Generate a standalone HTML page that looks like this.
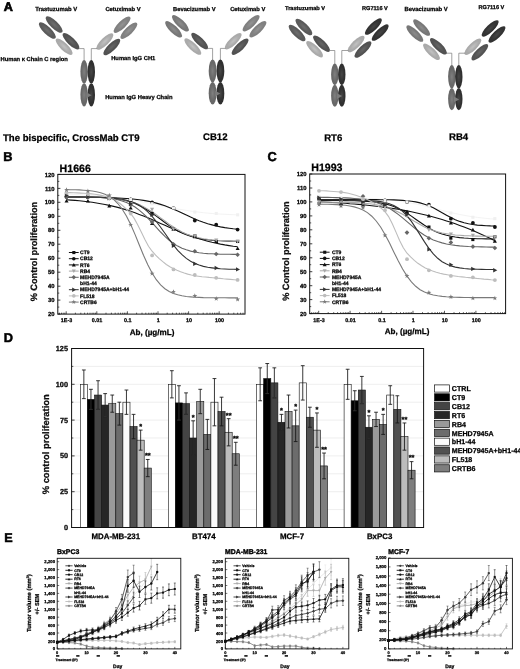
<!DOCTYPE html>
<html><head><meta charset="utf-8"><title>Figure</title>
<style>html,body{margin:0;padding:0;background:#fff}svg{display:block;filter:blur(0.35px)}text{font-family:"Liberation Sans",Arial,sans-serif;font-weight:bold;stroke:#000;stroke-width:0.25px;text-rendering:geometricPrecision}</style>
</head><body>
<svg width="520" height="669" viewBox="0 0 520 669">
<rect width="520" height="669" fill="#fff"/>
<defs><radialGradient id="gtr" cx="50%" cy="50%" r="50%"><stop offset="0" stop-color="#6e6e6e"/><stop offset="0.7" stop-color="#5a5a5a"/><stop offset="1" stop-color="#5a5a5a"/></radialGradient><radialGradient id="gce" cx="50%" cy="50%" r="50%"><stop offset="0" stop-color="#949494"/><stop offset="0.7" stop-color="#808080"/><stop offset="1" stop-color="#808080"/></radialGradient><radialGradient id="gbe" cx="50%" cy="50%" r="50%"><stop offset="0" stop-color="#8c8c8c"/><stop offset="0.7" stop-color="#777777"/><stop offset="1" stop-color="#777777"/></radialGradient><radialGradient id="grg" cx="50%" cy="50%" r="50%"><stop offset="0" stop-color="#464646"/><stop offset="0.7" stop-color="#333333"/><stop offset="1" stop-color="#333333"/></radialGradient><radialGradient id="gdk" cx="50%" cy="50%" r="50%"><stop offset="0" stop-color="#666666"/><stop offset="0.7" stop-color="#525252"/><stop offset="1" stop-color="#525252"/></radialGradient><radialGradient id="glt" cx="50%" cy="50%" r="50%"><stop offset="0" stop-color="#c2c2c2"/><stop offset="0.7" stop-color="#aaaaaa"/><stop offset="1" stop-color="#aaaaaa"/></radialGradient><radialGradient id="gsl" cx="50%" cy="50%" r="50%"><stop offset="0" stop-color="#808080"/><stop offset="0.7" stop-color="#686868"/><stop offset="1" stop-color="#686868"/></radialGradient><radialGradient id="gsr" cx="50%" cy="50%" r="50%"><stop offset="0" stop-color="#484848"/><stop offset="0.7" stop-color="#303030"/><stop offset="1" stop-color="#303030"/></radialGradient></defs>
<ellipse cx="54.10" cy="24.50" rx="11.2" ry="3.75" transform="rotate(44 54.10 24.50)" fill="url(#gtr)"/>
<ellipse cx="47.30" cy="30.50" rx="11.2" ry="3.75" transform="rotate(44 47.30 30.50)" fill="url(#gtr)"/>
<ellipse cx="71.00" cy="41.20" rx="11.2" ry="3.75" transform="rotate(44 71.00 41.20)" fill="url(#gdk)"/>
<ellipse cx="64.10" cy="46.70" rx="11.2" ry="3.75" transform="rotate(44 64.10 46.70)" fill="url(#glt)"/>
<ellipse cx="104.90" cy="41.50" rx="11.2" ry="3.75" transform="rotate(-44 104.90 41.50)" fill="url(#glt)"/>
<ellipse cx="111.80" cy="47.00" rx="11.2" ry="3.75" transform="rotate(-44 111.80 47.00)" fill="url(#gdk)"/>
<ellipse cx="122.10" cy="24.70" rx="11.2" ry="3.75" transform="rotate(-44 122.10 24.70)" fill="url(#gce)"/>
<ellipse cx="128.90" cy="30.70" rx="11.2" ry="3.75" transform="rotate(-44 128.90 30.70)" fill="url(#gce)"/>
<path d="M78.70 48.6 H84.10 V61.2 M97.20 48.6 H91.30 V61.2" fill="none" stroke="#7a7a7a" stroke-width="0.7"/>
<ellipse cx="84.10" cy="71.80" rx="3.7" ry="11.80" fill="url(#gsl)"/>
<ellipse cx="84.10" cy="94.85" rx="3.7" ry="11.65" fill="url(#gsl)"/>
<ellipse cx="91.30" cy="71.80" rx="3.7" ry="11.80" fill="url(#gsr)"/>
<ellipse cx="91.30" cy="94.85" rx="3.7" ry="11.65" fill="url(#gsr)"/>
<path d="M86.40 92.25 L91.50 95.15 L86.40 98.05 Z" fill="#7c7c7c"/>
<ellipse cx="180.40" cy="23.30" rx="11.2" ry="3.75" transform="rotate(44 180.40 23.30)" fill="url(#gbe)"/>
<ellipse cx="173.60" cy="29.30" rx="11.2" ry="3.75" transform="rotate(44 173.60 29.30)" fill="url(#gbe)"/>
<ellipse cx="199.70" cy="41.10" rx="11.2" ry="3.75" transform="rotate(44 199.70 41.10)" fill="url(#gdk)"/>
<ellipse cx="192.80" cy="46.60" rx="11.2" ry="3.75" transform="rotate(44 192.80 46.60)" fill="url(#glt)"/>
<ellipse cx="233.20" cy="41.20" rx="11.2" ry="3.75" transform="rotate(-44 233.20 41.20)" fill="url(#glt)"/>
<ellipse cx="240.10" cy="46.70" rx="11.2" ry="3.75" transform="rotate(-44 240.10 46.70)" fill="url(#gdk)"/>
<ellipse cx="251.10" cy="23.20" rx="11.2" ry="3.75" transform="rotate(-44 251.10 23.20)" fill="url(#gce)"/>
<ellipse cx="257.90" cy="29.20" rx="11.2" ry="3.75" transform="rotate(-44 257.90 29.20)" fill="url(#gce)"/>
<path d="M207.40 48.4 H212.60 V60.6 M225.50 48.4 H220.40 V60.6" fill="none" stroke="#7a7a7a" stroke-width="0.7"/>
<ellipse cx="212.60" cy="70.90" rx="3.9" ry="11.50" fill="url(#gsl)"/>
<ellipse cx="212.60" cy="93.30" rx="3.9" ry="11.30" fill="url(#gsl)"/>
<ellipse cx="220.40" cy="70.90" rx="3.9" ry="11.50" fill="url(#gsr)"/>
<ellipse cx="220.40" cy="93.30" rx="3.9" ry="11.30" fill="url(#gsr)"/>
<path d="M215.20 90.70 L220.30 93.60 L215.20 96.50 Z" fill="#7c7c7c"/>
<ellipse cx="303.90" cy="27.00" rx="11.2" ry="3.75" transform="rotate(44 303.90 27.00)" fill="url(#gtr)"/>
<ellipse cx="297.10" cy="33.00" rx="11.2" ry="3.75" transform="rotate(44 297.10 33.00)" fill="url(#gtr)"/>
<ellipse cx="321.50" cy="43.70" rx="11.2" ry="3.75" transform="rotate(44 321.50 43.70)" fill="url(#gdk)"/>
<ellipse cx="314.60" cy="49.20" rx="11.2" ry="3.75" transform="rotate(44 314.60 49.20)" fill="url(#glt)"/>
<ellipse cx="356.10" cy="44.00" rx="11.2" ry="3.75" transform="rotate(-44 356.10 44.00)" fill="url(#glt)"/>
<ellipse cx="363.00" cy="49.50" rx="11.2" ry="3.75" transform="rotate(-44 363.00 49.50)" fill="url(#gdk)"/>
<ellipse cx="373.40" cy="26.60" rx="11.2" ry="3.75" transform="rotate(-44 373.40 26.60)" fill="url(#grg)"/>
<ellipse cx="380.20" cy="32.60" rx="11.2" ry="3.75" transform="rotate(-44 380.20 32.60)" fill="url(#grg)"/>
<path d="M329.20 50.5 H334.80 V64.8 M348.40 50.5 H341.80 V64.8" fill="none" stroke="#7a7a7a" stroke-width="0.7"/>
<ellipse cx="334.80" cy="74.40" rx="3.7" ry="10.80" fill="url(#gsl)"/>
<ellipse cx="334.80" cy="95.75" rx="3.7" ry="10.95" fill="url(#gsl)"/>
<ellipse cx="341.80" cy="74.40" rx="3.7" ry="10.80" fill="url(#gsr)"/>
<ellipse cx="341.80" cy="95.75" rx="3.7" ry="10.95" fill="url(#gsr)"/>
<path d="M337.00 93.15 L342.10 96.05 L337.00 98.95 Z" fill="#7c7c7c"/>
<ellipse cx="421.60" cy="27.60" rx="11.2" ry="3.75" transform="rotate(44 421.60 27.60)" fill="url(#gbe)"/>
<ellipse cx="414.80" cy="33.60" rx="11.2" ry="3.75" transform="rotate(44 414.80 33.60)" fill="url(#gbe)"/>
<ellipse cx="438.40" cy="46.30" rx="11.2" ry="3.75" transform="rotate(44 438.40 46.30)" fill="url(#gdk)"/>
<ellipse cx="431.50" cy="51.80" rx="11.2" ry="3.75" transform="rotate(44 431.50 51.80)" fill="url(#glt)"/>
<ellipse cx="472.90" cy="46.70" rx="11.2" ry="3.75" transform="rotate(-44 472.90 46.70)" fill="url(#glt)"/>
<ellipse cx="479.80" cy="52.20" rx="11.2" ry="3.75" transform="rotate(-44 479.80 52.20)" fill="url(#gdk)"/>
<ellipse cx="490.20" cy="28.40" rx="11.2" ry="3.75" transform="rotate(-44 490.20 28.40)" fill="url(#grg)"/>
<ellipse cx="497.00" cy="34.40" rx="11.2" ry="3.75" transform="rotate(-44 497.00 34.40)" fill="url(#grg)"/>
<path d="M446.10 53.2 H451.80 V66.3 M465.20 53.2 H458.80 V66.3" fill="none" stroke="#7a7a7a" stroke-width="0.7"/>
<ellipse cx="451.80" cy="76.70" rx="3.7" ry="11.60" fill="url(#gsl)"/>
<ellipse cx="451.80" cy="99.10" rx="3.7" ry="11.20" fill="url(#gsl)"/>
<ellipse cx="458.80" cy="76.70" rx="3.7" ry="11.60" fill="url(#gsr)"/>
<ellipse cx="458.80" cy="99.10" rx="3.7" ry="11.20" fill="url(#gsr)"/>
<path d="M454.00 96.50 L459.10 99.40 L454.00 102.30 Z" fill="#7c7c7c"/>
<text x="3.8" y="10.8" font-size="12.6" text-anchor="start" fill="#000" style="stroke-width:0.7px">A</text>
<text x="35.2" y="10.8" font-size="5.9" text-anchor="start" fill="#000" >Trastuzumab V</text>
<text x="105.4" y="10.8" font-size="5.8" text-anchor="start" fill="#000" >Cetuximab V</text>
<text x="173" y="10.8" font-size="5.8" text-anchor="start" fill="#000" >Bevacizumab V</text>
<text x="230.2" y="10.8" font-size="5.8" text-anchor="start" fill="#000" >Cetuximab V</text>
<text x="285" y="10.2" font-size="5.65" text-anchor="start" fill="#000" >Trastuzumab V</text>
<text x="362" y="9.8" font-size="5.6" text-anchor="start" fill="#000" >RG7116 V</text>
<text x="404.5" y="11.1" font-size="5.9" text-anchor="start" fill="#000" >Bevacizumab V</text>
<text x="478.5" y="8.8" font-size="5.6" text-anchor="start" fill="#000" >RG7116 V</text>
<text x="0.5" y="60.5" font-size="5.8" text-anchor="start" fill="#000" >Human κ Chain C region</text>
<text x="111.2" y="60.2" font-size="5.8" text-anchor="start" fill="#000" >Human IgG CH1</text>
<text x="105.2" y="98.9" font-size="5.8" text-anchor="start" fill="#000" >Human IgG Heavy Chain</text>
<text x="3" y="140.5" font-size="9.6" text-anchor="start" fill="#000" >The bispecific, CrossMab CT9</text>
<text x="203" y="139.6" font-size="9.6" text-anchor="start" fill="#000" >CB12</text>
<text x="324.2" y="140.5" font-size="9.6" text-anchor="start" fill="#000" >RT6</text>
<text x="449" y="139.6" font-size="9.6" text-anchor="start" fill="#000" >RB4</text>
<path d="M66.5 194.2 L70.8 194.3 L75.1 194.5 L79.3 194.6 L83.6 194.8 L87.9 195.1 L92.2 195.3 L96.5 195.6 L100.7 195.9 L105.0 196.3 L109.3 196.7 L113.6 197.2 L117.8 197.7 L122.1 198.3 L126.4 198.9 L130.7 199.6 L135.0 200.4 L139.2 201.1 L143.5 202.0 L147.8 202.9 L152.1 203.7 L156.3 204.7 L160.6 205.6 L164.9 206.5 L169.2 207.3 L173.5 208.2 L177.7 209.0 L182.0 209.7 L186.3 210.4 L190.6 211.1 L194.8 211.6 L199.1 212.2 L203.4 212.7 L207.7 213.1 L212.0 213.5 L216.2 213.8 L220.5 214.1 L224.8 214.3 L229.1 214.5 L233.3 214.7 L237.6 214.9" fill="none" stroke="#f0f0f0" stroke-width="0.8"/>
<path d="M66.5 196.5 L70.8 196.5 L75.1 196.5 L79.3 196.6 L83.6 196.6 L87.9 196.7 L92.2 196.9 L96.5 197.0 L100.7 197.2 L105.0 197.5 L109.3 197.9 L113.6 198.3 L117.8 198.9 L122.1 199.7 L126.4 200.7 L130.7 202.0 L135.0 203.5 L139.2 205.4 L143.5 207.6 L147.8 210.2 L152.1 213.1 L156.3 216.1 L160.6 219.3 L164.9 222.5 L169.2 225.6 L173.5 228.4 L177.7 230.9 L182.0 233.0 L186.3 234.8 L190.6 236.3 L194.8 237.5 L199.1 238.4 L203.4 239.2 L207.7 239.7 L212.0 240.2 L216.2 240.5 L220.5 240.8 L224.8 241.0 L229.1 241.1 L233.3 241.2 L237.6 241.3" fill="none" stroke="#111" stroke-width="1.1"/>
<path d="M66.5 197.2 L70.8 197.2 L75.1 197.2 L79.3 197.2 L83.6 197.3 L87.9 197.3 L92.2 197.3 L96.5 197.4 L100.7 197.5 L105.0 197.6 L109.3 197.7 L113.6 197.8 L117.8 198.0 L122.1 198.2 L126.4 198.5 L130.7 198.8 L135.0 199.2 L139.2 199.7 L143.5 200.4 L147.8 201.1 L152.1 202.0 L156.3 203.1 L160.6 204.4 L164.9 205.8 L169.2 207.5 L173.5 209.2 L177.7 211.1 L182.0 213.1 L186.3 215.1 L190.6 217.1 L194.8 218.9 L199.1 220.7 L203.4 222.3 L207.7 223.7 L212.0 224.9 L216.2 226.0 L220.5 226.9 L224.8 227.6 L229.1 228.2 L233.3 228.7 L237.6 229.1" fill="none" stroke="#111" stroke-width="1.1"/>
<path d="M66.5 199.8 L70.8 200.1 L75.1 200.4 L79.3 200.8 L83.6 201.3 L87.9 201.8 L92.2 202.3 L96.5 203.0 L100.7 203.7 L105.0 204.5 L109.3 205.4 L113.6 206.4 L117.8 207.4 L122.1 208.6 L126.4 209.9 L130.7 211.3 L135.0 212.8 L139.2 214.4 L143.5 216.1 L147.8 217.8 L152.1 219.6 L156.3 221.5 L160.6 223.4 L164.9 225.3 L169.2 227.2 L173.5 229.0 L177.7 230.8 L182.0 232.6 L186.3 234.3 L190.6 235.8 L194.8 237.3 L199.1 238.7 L203.4 240.0 L207.7 241.2 L212.0 242.3 L216.2 243.2 L220.5 244.1 L224.8 244.9 L229.1 245.6 L233.3 246.3 L237.6 246.8" fill="none" stroke="#111" stroke-width="1.1"/>
<path d="M66.5 196.5 L70.8 196.6 L75.1 196.6 L79.3 196.6 L83.6 196.7 L87.9 196.8 L92.2 196.9 L96.5 197.0 L100.7 197.2 L105.0 197.5 L109.3 197.8 L113.6 198.2 L117.8 198.8 L122.1 199.5 L126.4 200.4 L130.7 201.5 L135.0 202.9 L139.2 204.6 L143.5 206.7 L147.8 209.1 L152.1 211.8 L156.3 214.7 L160.6 217.9 L164.9 221.0 L169.2 224.1 L173.5 227.0 L177.7 229.6 L182.0 231.9 L186.3 233.9 L190.6 235.5 L194.8 236.8 L199.1 237.8 L203.4 238.7 L207.7 239.3 L212.0 239.8 L216.2 240.2 L220.5 240.5 L224.8 240.8 L229.1 240.9 L233.3 241.1 L237.6 241.2" fill="none" stroke="#a8a8a8" stroke-width="1.1"/>
<path d="M66.5 196.7 L70.8 196.7 L75.1 196.8 L79.3 196.8 L83.6 196.9 L87.9 197.0 L92.2 197.1 L96.5 197.3 L100.7 197.5 L105.0 197.9 L109.3 198.3 L113.6 199.0 L117.8 199.8 L122.1 201.0 L126.4 202.5 L130.7 204.5 L135.0 207.0 L139.2 210.1 L143.5 213.8 L147.8 218.0 L152.1 222.6 L156.3 227.3 L160.6 232.0 L164.9 236.3 L169.2 240.2 L173.5 243.4 L177.7 246.1 L182.0 248.2 L186.3 249.8 L190.6 251.1 L194.8 252.0 L199.1 252.7 L203.4 253.2 L207.7 253.6 L212.0 253.8 L216.2 254.0 L220.5 254.2 L224.8 254.3 L229.1 254.3 L233.3 254.4 L237.6 254.4" fill="none" stroke="#666" stroke-width="1.1"/>
<path d="M66.5 196.9 L70.8 196.9 L75.1 196.9 L79.3 196.9 L83.6 197.0 L87.9 197.0 L92.2 197.1 L96.5 197.2 L100.7 197.3 L105.0 197.5 L109.3 197.7 L113.6 198.1 L117.8 198.6 L122.1 199.2 L126.4 200.2 L130.7 201.4 L135.0 203.1 L139.2 205.3 L143.5 208.2 L147.8 211.9 L152.1 216.3 L156.3 221.5 L160.6 227.2 L164.9 233.3 L169.2 239.4 L173.5 245.2 L177.7 250.3 L182.0 254.7 L186.3 258.4 L190.6 261.2 L194.8 263.4 L199.1 265.1 L203.4 266.4 L207.7 267.3 L212.0 267.9 L216.2 268.4 L220.5 268.8 L224.8 269.0 L229.1 269.2 L233.3 269.3 L237.6 269.4" fill="none" stroke="#333" stroke-width="1.1"/>
<path d="M66.5 192.6 L70.1 192.6 L73.6 192.7 L77.2 192.9 L80.8 193.1 L84.3 193.3 L87.9 193.5 L91.5 193.9 L95.0 194.3 L98.6 194.9 L102.2 195.6 L105.7 196.5 L109.3 197.5 L112.9 198.8 L116.4 200.9 L120.0 203.5 L123.6 206.5 L127.1 209.9 L130.7 213.5 L134.2 218.4 L137.8 224.9 L141.4 232.2 L144.9 239.6 L148.5 246.2 L152.1 251.2 L155.6 255.1 L159.2 258.6 L162.8 261.7 L166.3 264.5 L169.9 266.8 L173.5 268.7 L177.0 270.3 L180.6 271.7 L184.2 273.0 L187.7 274.1 L191.3 275.0 L194.8 275.7 L198.4 276.2 L202.0 276.7 L205.5 277.0 L209.1 277.4 L212.7 277.7 L216.2 278.1 L219.8 278.4 L223.4 278.8 L226.9 279.1 L230.5 279.4 L234.1 279.7 L237.6 280.0" fill="none" stroke="#bdbdbd" stroke-width="1.1"/>
<path d="M66.5 189.6 L70.8 189.7 L75.1 189.8 L79.3 189.9 L83.6 190.2 L87.9 190.5 L92.2 191.0 L96.5 191.7 L100.7 192.7 L105.0 194.3 L109.3 196.4 L113.6 199.4 L117.8 203.5 L122.1 209.0 L126.4 216.0 L130.7 224.6 L135.0 234.4 L139.2 244.8 L143.5 255.2 L147.8 264.8 L152.1 273.0 L156.3 279.7 L160.6 284.8 L164.9 288.7 L169.2 291.5 L173.5 293.5 L177.7 294.8 L182.0 295.8 L186.3 296.5 L190.6 296.9 L194.8 297.2 L199.1 297.4 L203.4 297.6 L207.7 297.7 L212.0 297.7 L216.2 297.8 L220.5 297.8 L224.8 297.8 L229.1 297.9 L233.3 297.9 L237.6 297.9" fill="none" stroke="#7a7a7a" stroke-width="1.1"/>
<rect x="64.9" y="195.2" width="3.1" height="3.1" fill="#111"/>
<rect x="86.3" y="195.2" width="3.1" height="3.1" fill="#111"/>
<rect x="107.7" y="196.6" width="3.1" height="3.1" fill="#111"/>
<rect x="129.1" y="199.4" width="3.1" height="3.1" fill="#111"/>
<rect x="150.5" y="211.9" width="3.1" height="3.1" fill="#111"/>
<rect x="171.9" y="227.3" width="3.1" height="3.1" fill="#111"/>
<rect x="193.3" y="234.3" width="3.1" height="3.1" fill="#111"/>
<rect x="214.7" y="239.9" width="3.1" height="3.1" fill="#111"/>
<rect x="236.1" y="239.9" width="3.1" height="3.1" fill="#111"/>
<circle cx="66.5" cy="196.8" r="1.9" fill="#111"/>
<circle cx="87.9" cy="196.8" r="1.9" fill="#111"/>
<circle cx="109.3" cy="198.1" r="1.9" fill="#111"/>
<circle cx="130.7" cy="199.5" r="1.9" fill="#111"/>
<circle cx="152.1" cy="202.3" r="1.9" fill="#111"/>
<circle cx="173.5" cy="207.9" r="1.9" fill="#111"/>
<circle cx="194.8" cy="220.5" r="1.9" fill="#111"/>
<circle cx="216.2" cy="224.7" r="1.9" fill="#111"/>
<circle cx="237.6" cy="229.6" r="1.9" fill="#111"/>
<path d="M66.5 198.9 L68.6 202.6 L64.5 202.6Z" fill="#111"/>
<path d="M87.9 198.9 L89.9 202.6 L85.9 202.6Z" fill="#111"/>
<path d="M109.3 203.8 L111.3 207.5 L107.3 207.5Z" fill="#111"/>
<path d="M130.7 205.9 L132.7 209.6 L128.6 209.6Z" fill="#111"/>
<path d="M152.1 221.3 L154.1 225.0 L150.0 225.0Z" fill="#111"/>
<path d="M173.5 226.8 L175.5 230.5 L171.4 230.5Z" fill="#111"/>
<path d="M194.8 234.5 L196.9 238.2 L192.8 238.2Z" fill="#111"/>
<path d="M216.2 239.4 L218.3 243.1 L214.2 243.1Z" fill="#111"/>
<path d="M237.6 246.4 L239.7 250.1 L235.6 250.1Z" fill="#111"/>
<path d="M66.5 197.4 L68.6 193.7 L64.5 193.7Z" fill="#a8a8a8"/>
<path d="M87.9 198.8 L89.9 195.1 L85.9 195.1Z" fill="#a8a8a8"/>
<path d="M109.3 200.2 L111.3 196.5 L107.3 196.5Z" fill="#a8a8a8"/>
<path d="M130.7 205.8 L132.7 202.1 L128.6 202.1Z" fill="#a8a8a8"/>
<path d="M152.1 211.4 L154.1 207.7 L150.0 207.7Z" fill="#a8a8a8"/>
<path d="M173.5 230.9 L175.5 227.2 L171.4 227.2Z" fill="#a8a8a8"/>
<path d="M194.8 237.9 L196.9 234.2 L192.8 234.2Z" fill="#a8a8a8"/>
<path d="M216.2 242.1 L218.3 238.4 L214.2 238.4Z" fill="#a8a8a8"/>
<path d="M237.6 243.5 L239.7 239.8 L235.6 239.8Z" fill="#a8a8a8"/>
<path d="M66.5 194.4 L68.8 196.8 L66.5 199.1 L64.2 196.8Z" fill="#666"/>
<path d="M87.9 194.4 L90.2 196.8 L87.9 199.1 L85.6 196.8Z" fill="#666"/>
<path d="M109.3 195.8 L111.6 198.1 L109.3 200.5 L107.0 198.1Z" fill="#666"/>
<path d="M130.7 202.8 L133.0 205.1 L130.7 207.4 L128.4 205.1Z" fill="#666"/>
<path d="M152.1 219.6 L154.4 221.9 L152.1 224.2 L149.8 221.9Z" fill="#666"/>
<path d="M173.5 241.9 L175.8 244.2 L173.5 246.6 L171.1 244.2Z" fill="#666"/>
<path d="M194.8 248.9 L197.2 251.2 L194.8 253.5 L192.5 251.2Z" fill="#666"/>
<path d="M216.2 251.7 L218.5 254.0 L216.2 256.3 L213.9 254.0Z" fill="#666"/>
<path d="M237.6 252.4 L239.9 254.7 L237.6 257.0 L235.3 254.7Z" fill="#666"/>
<rect x="64.9" y="192.4" width="3.1" height="3.1" fill="#f0f0f0"/>
<rect x="86.3" y="193.8" width="3.1" height="3.1" fill="#f0f0f0"/>
<rect x="107.7" y="195.2" width="3.1" height="3.1" fill="#f0f0f0"/>
<rect x="129.1" y="198.0" width="3.1" height="3.1" fill="#f0f0f0"/>
<rect x="150.5" y="202.2" width="3.1" height="3.1" fill="#f0f0f0"/>
<rect x="171.9" y="206.4" width="3.1" height="3.1" fill="#f0f0f0"/>
<rect x="193.3" y="210.5" width="3.1" height="3.1" fill="#f0f0f0"/>
<rect x="214.7" y="211.9" width="3.1" height="3.1" fill="#f0f0f0"/>
<rect x="236.1" y="213.3" width="3.1" height="3.1" fill="#f0f0f0"/>
<path d="M68.9 195.4 L64.9 193.1 L64.9 197.6Z" fill="#333"/>
<path d="M90.3 196.8 L86.2 194.5 L86.2 199.0Z" fill="#333"/>
<path d="M111.7 198.1 L107.6 195.9 L107.6 200.4Z" fill="#333"/>
<path d="M133.1 203.7 L129.0 201.5 L129.0 206.0Z" fill="#333"/>
<path d="M154.5 214.9 L150.4 212.7 L150.4 217.1Z" fill="#333"/>
<path d="M175.9 245.6 L171.8 243.4 L171.8 247.9Z" fill="#333"/>
<path d="M197.3 263.8 L193.2 261.6 L193.2 266.0Z" fill="#333"/>
<path d="M218.6 268.0 L214.6 265.8 L214.6 270.2Z" fill="#333"/>
<path d="M240.0 269.4 L236.0 267.2 L236.0 271.6Z" fill="#333"/>
<circle cx="66.5" cy="192.6" r="1.9" fill="#bdbdbd"/>
<circle cx="87.9" cy="194.0" r="1.9" fill="#bdbdbd"/>
<circle cx="109.3" cy="198.1" r="1.9" fill="#bdbdbd"/>
<circle cx="130.7" cy="213.5" r="1.9" fill="#bdbdbd"/>
<circle cx="152.1" cy="255.4" r="1.9" fill="#bdbdbd"/>
<circle cx="173.5" cy="269.4" r="1.9" fill="#bdbdbd"/>
<circle cx="194.8" cy="275.0" r="1.9" fill="#bdbdbd"/>
<circle cx="216.2" cy="277.8" r="1.9" fill="#bdbdbd"/>
<circle cx="237.6" cy="279.9" r="1.9" fill="#bdbdbd"/>
<path d="M66.5 187.2 L67.1 188.9 L69.0 189.0 L67.5 190.1 L68.0 191.9 L66.5 190.8 L65.0 191.9 L65.5 190.1 L64.1 189.0 L65.9 188.9Z" fill="#7a7a7a"/>
<path d="M87.9 188.6 L88.5 190.3 L90.4 190.4 L88.9 191.5 L89.4 193.3 L87.9 192.2 L86.4 193.3 L86.9 191.5 L85.4 190.4 L87.3 190.3Z" fill="#7a7a7a"/>
<path d="M109.3 192.8 L109.9 194.5 L111.8 194.6 L110.3 195.7 L110.8 197.5 L109.3 196.4 L107.8 197.5 L108.3 195.7 L106.8 194.6 L108.7 194.5Z" fill="#7a7a7a"/>
<path d="M130.7 222.1 L131.3 223.9 L133.1 223.9 L131.6 225.0 L132.2 226.8 L130.7 225.7 L129.2 226.8 L129.7 225.0 L128.2 223.9 L130.1 223.9Z" fill="#7a7a7a"/>
<path d="M152.1 271.0 L152.7 272.8 L154.5 272.8 L153.0 273.9 L153.6 275.7 L152.1 274.6 L150.5 275.7 L151.1 273.9 L149.6 272.8 L151.5 272.8Z" fill="#7a7a7a"/>
<path d="M173.5 289.2 L174.1 290.9 L175.9 290.9 L174.4 292.1 L175.0 293.8 L173.5 292.8 L171.9 293.8 L172.5 292.1 L171.0 290.9 L172.9 290.9Z" fill="#7a7a7a"/>
<path d="M194.8 293.3 L195.4 295.1 L197.3 295.1 L195.8 296.3 L196.4 298.0 L194.8 297.0 L193.3 298.0 L193.9 296.3 L192.4 295.1 L194.2 295.1Z" fill="#7a7a7a"/>
<path d="M216.2 296.1 L216.8 297.9 L218.7 297.9 L217.2 299.0 L217.8 300.8 L216.2 299.8 L214.7 300.8 L215.3 299.0 L213.8 297.9 L215.6 297.9Z" fill="#7a7a7a"/>
<path d="M237.6 296.8 L238.2 298.6 L240.1 298.6 L238.6 299.7 L239.1 301.5 L237.6 300.4 L236.1 301.5 L236.7 299.7 L235.2 298.6 L237.0 298.6Z" fill="#7a7a7a"/>
<rect x="57.8" y="174.4" width="187.2" height="139.70000000000002" fill="none" stroke="#111" stroke-width="1"/>
<path d="M57.8 314.1 h2.6" stroke="#111" stroke-width="0.8"/>
<text x="54.599999999999994" y="316.2" font-size="5.9" text-anchor="end" fill="#000" >20</text>
<path d="M57.8 307.1 h1.5" stroke="#111" stroke-width="0.7"/>
<path d="M57.8 300.1 h2.6" stroke="#111" stroke-width="0.8"/>
<text x="54.599999999999994" y="302.2" font-size="5.9" text-anchor="end" fill="#000" >30</text>
<path d="M57.8 293.1 h1.5" stroke="#111" stroke-width="0.7"/>
<path d="M57.8 286.2 h2.6" stroke="#111" stroke-width="0.8"/>
<text x="54.599999999999994" y="288.3" font-size="5.9" text-anchor="end" fill="#000" >40</text>
<path d="M57.8 279.2 h1.5" stroke="#111" stroke-width="0.7"/>
<path d="M57.8 272.2 h2.6" stroke="#111" stroke-width="0.8"/>
<text x="54.599999999999994" y="274.3" font-size="5.9" text-anchor="end" fill="#000" >50</text>
<path d="M57.8 265.2 h1.5" stroke="#111" stroke-width="0.7"/>
<path d="M57.8 258.2 h2.6" stroke="#111" stroke-width="0.8"/>
<text x="54.599999999999994" y="260.3" font-size="5.9" text-anchor="end" fill="#000" >60</text>
<path d="M57.8 251.2 h1.5" stroke="#111" stroke-width="0.7"/>
<path d="M57.8 244.2 h2.6" stroke="#111" stroke-width="0.8"/>
<text x="54.599999999999994" y="246.3" font-size="5.9" text-anchor="end" fill="#000" >70</text>
<path d="M57.8 237.3 h1.5" stroke="#111" stroke-width="0.7"/>
<path d="M57.8 230.3 h2.6" stroke="#111" stroke-width="0.8"/>
<text x="54.599999999999994" y="232.4" font-size="5.9" text-anchor="end" fill="#000" >80</text>
<path d="M57.8 223.3 h1.5" stroke="#111" stroke-width="0.7"/>
<path d="M57.8 216.3 h2.6" stroke="#111" stroke-width="0.8"/>
<text x="54.599999999999994" y="218.4" font-size="5.9" text-anchor="end" fill="#000" >90</text>
<path d="M57.8 209.3 h1.5" stroke="#111" stroke-width="0.7"/>
<path d="M57.8 202.3 h2.6" stroke="#111" stroke-width="0.8"/>
<text x="54.599999999999994" y="204.4" font-size="5.9" text-anchor="end" fill="#000" >100</text>
<path d="M57.8 195.4 h1.5" stroke="#111" stroke-width="0.7"/>
<path d="M57.8 188.4 h2.6" stroke="#111" stroke-width="0.8"/>
<text x="54.599999999999994" y="190.5" font-size="5.9" text-anchor="end" fill="#000" >110</text>
<path d="M57.8 181.4 h1.5" stroke="#111" stroke-width="0.7"/>
<path d="M57.8 174.4 h2.6" stroke="#111" stroke-width="0.8"/>
<text x="54.599999999999994" y="176.5" font-size="5.9" text-anchor="end" fill="#000" >120</text>
<path d="M59.4 314.1 v-1.4" stroke="#111" stroke-width="0.7"/>
<path d="M61.5 314.1 v-1.4" stroke="#111" stroke-width="0.7"/>
<path d="M63.2 314.1 v-1.4" stroke="#111" stroke-width="0.7"/>
<path d="M64.8 314.1 v-1.4" stroke="#111" stroke-width="0.7"/>
<path d="M66.2 314.1 v-2.8" stroke="#111" stroke-width="0.7"/>
<path d="M75.4 314.1 v-1.4" stroke="#111" stroke-width="0.7"/>
<path d="M80.8 314.1 v-1.4" stroke="#111" stroke-width="0.7"/>
<path d="M84.6 314.1 v-1.4" stroke="#111" stroke-width="0.7"/>
<path d="M87.6 314.1 v-1.4" stroke="#111" stroke-width="0.7"/>
<path d="M90.0 314.1 v-1.4" stroke="#111" stroke-width="0.7"/>
<path d="M92.1 314.1 v-1.4" stroke="#111" stroke-width="0.7"/>
<path d="M93.8 314.1 v-1.4" stroke="#111" stroke-width="0.7"/>
<path d="M95.4 314.1 v-1.4" stroke="#111" stroke-width="0.7"/>
<path d="M96.8 314.1 v-2.8" stroke="#111" stroke-width="0.7"/>
<path d="M106.0 314.1 v-1.4" stroke="#111" stroke-width="0.7"/>
<path d="M111.4 314.1 v-1.4" stroke="#111" stroke-width="0.7"/>
<path d="M115.2 314.1 v-1.4" stroke="#111" stroke-width="0.7"/>
<path d="M118.2 314.1 v-1.4" stroke="#111" stroke-width="0.7"/>
<path d="M120.6 314.1 v-1.4" stroke="#111" stroke-width="0.7"/>
<path d="M122.7 314.1 v-1.4" stroke="#111" stroke-width="0.7"/>
<path d="M124.4 314.1 v-1.4" stroke="#111" stroke-width="0.7"/>
<path d="M126.0 314.1 v-1.4" stroke="#111" stroke-width="0.7"/>
<path d="M127.4 314.1 v-2.8" stroke="#111" stroke-width="0.7"/>
<path d="M136.6 314.1 v-1.4" stroke="#111" stroke-width="0.7"/>
<path d="M142.0 314.1 v-1.4" stroke="#111" stroke-width="0.7"/>
<path d="M145.8 314.1 v-1.4" stroke="#111" stroke-width="0.7"/>
<path d="M148.8 314.1 v-1.4" stroke="#111" stroke-width="0.7"/>
<path d="M151.2 314.1 v-1.4" stroke="#111" stroke-width="0.7"/>
<path d="M153.3 314.1 v-1.4" stroke="#111" stroke-width="0.7"/>
<path d="M155.0 314.1 v-1.4" stroke="#111" stroke-width="0.7"/>
<path d="M156.6 314.1 v-1.4" stroke="#111" stroke-width="0.7"/>
<path d="M158.0 314.1 v-2.8" stroke="#111" stroke-width="0.7"/>
<path d="M167.2 314.1 v-1.4" stroke="#111" stroke-width="0.7"/>
<path d="M172.6 314.1 v-1.4" stroke="#111" stroke-width="0.7"/>
<path d="M176.4 314.1 v-1.4" stroke="#111" stroke-width="0.7"/>
<path d="M179.4 314.1 v-1.4" stroke="#111" stroke-width="0.7"/>
<path d="M181.8 314.1 v-1.4" stroke="#111" stroke-width="0.7"/>
<path d="M183.9 314.1 v-1.4" stroke="#111" stroke-width="0.7"/>
<path d="M185.6 314.1 v-1.4" stroke="#111" stroke-width="0.7"/>
<path d="M187.2 314.1 v-1.4" stroke="#111" stroke-width="0.7"/>
<path d="M188.6 314.1 v-2.8" stroke="#111" stroke-width="0.7"/>
<path d="M197.8 314.1 v-1.4" stroke="#111" stroke-width="0.7"/>
<path d="M203.2 314.1 v-1.4" stroke="#111" stroke-width="0.7"/>
<path d="M207.0 314.1 v-1.4" stroke="#111" stroke-width="0.7"/>
<path d="M210.0 314.1 v-1.4" stroke="#111" stroke-width="0.7"/>
<path d="M212.4 314.1 v-1.4" stroke="#111" stroke-width="0.7"/>
<path d="M214.5 314.1 v-1.4" stroke="#111" stroke-width="0.7"/>
<path d="M216.2 314.1 v-1.4" stroke="#111" stroke-width="0.7"/>
<path d="M217.8 314.1 v-1.4" stroke="#111" stroke-width="0.7"/>
<path d="M219.2 314.1 v-2.8" stroke="#111" stroke-width="0.7"/>
<path d="M228.4 314.1 v-1.4" stroke="#111" stroke-width="0.7"/>
<path d="M233.8 314.1 v-1.4" stroke="#111" stroke-width="0.7"/>
<path d="M237.6 314.1 v-1.4" stroke="#111" stroke-width="0.7"/>
<path d="M240.6 314.1 v-1.4" stroke="#111" stroke-width="0.7"/>
<path d="M243.0 314.1 v-1.4" stroke="#111" stroke-width="0.7"/>
<text x="66.5" y="322.20000000000005" font-size="5.4" text-anchor="middle" fill="#000" >1E-3</text>
<text x="97.1" y="322.20000000000005" font-size="5.4" text-anchor="middle" fill="#000" >0.01</text>
<text x="127.7" y="322.20000000000005" font-size="5.4" text-anchor="middle" fill="#000" >0.1</text>
<text x="158.3" y="322.20000000000005" font-size="5.4" text-anchor="middle" fill="#000" >1</text>
<text x="188.9" y="322.20000000000005" font-size="5.4" text-anchor="middle" fill="#000" >10</text>
<text x="219.5" y="322.20000000000005" font-size="5.4" text-anchor="middle" fill="#000" >100</text>
<text x="59.6" y="171.6" font-size="10.6" text-anchor="start" fill="#000" >H1666</text>
<text x="3.3" y="161.3" font-size="12.8" text-anchor="start" fill="#000" style="stroke-width:0.5px">B</text>
<text transform="translate(36.6 251.6) rotate(-90)" font-size="9.2" text-anchor="middle" fill="#111">% Control proliferation</text>
<text x="152" y="334.6" font-size="8.1" text-anchor="middle" fill="#000" >Ab, (µg/mL)</text>
<path d="M68.89999999999999 252.5 h9.8" stroke="#111" stroke-width="1.0"/>
<rect x="72.3" y="251.0" width="3.1" height="3.1" fill="#111"/>
<text x="80.1" y="254.2" font-size="5.0" text-anchor="start" fill="#000" >CT9</text>
<path d="M68.89999999999999 258.7 h9.8" stroke="#111" stroke-width="1.0"/>
<circle cx="73.8" cy="258.7" r="1.8" fill="#111"/>
<text x="80.1" y="260.4" font-size="5.0" text-anchor="start" fill="#000" >CB12</text>
<path d="M68.89999999999999 264.9 h9.8" stroke="#111" stroke-width="1.0"/>
<path d="M73.8 262.9 L75.8 266.5 L71.8 266.5Z" fill="#111"/>
<text x="80.1" y="266.6" font-size="5.0" text-anchor="start" fill="#000" >RT6</text>
<path d="M68.89999999999999 271.1 h9.8" stroke="#a8a8a8" stroke-width="1.0"/>
<path d="M73.8 273.1 L75.8 269.5 L71.8 269.5Z" fill="#a8a8a8"/>
<text x="80.1" y="272.8" font-size="5.0" text-anchor="start" fill="#000" >RB4</text>
<path d="M68.89999999999999 277.3 h9.8" stroke="#666" stroke-width="1.0"/>
<path d="M73.8 275.1 L76.0 277.3 L73.8 279.6 L71.5 277.3Z" fill="#666"/>
<text x="80.1" y="279.0" font-size="5.0" text-anchor="start" fill="#000" >MEHD7945A</text>
<text x="80.1" y="285.2" font-size="5.0" text-anchor="start" fill="#000" >bH1-44</text>
<path d="M68.89999999999999 289.7 h9.8" stroke="#333" stroke-width="1.0"/>
<path d="M76.1 289.7 L72.2 287.5 L72.2 291.9Z" fill="#333"/>
<text x="80.1" y="291.4" font-size="5.0" text-anchor="start" fill="#000" >MEHD7945A+bH1-44</text>
<path d="M68.89999999999999 295.9 h9.8" stroke="#bdbdbd" stroke-width="1.0"/>
<circle cx="73.8" cy="295.9" r="1.8" fill="#bdbdbd"/>
<text x="80.1" y="297.6" font-size="5.0" text-anchor="start" fill="#000" >FL518</text>
<path d="M68.89999999999999 302.1 h9.8" stroke="#7a7a7a" stroke-width="1.0"/>
<path d="M73.8 299.6 L74.4 301.3 L76.2 301.3 L74.7 302.4 L75.3 304.1 L73.8 303.1 L72.3 304.1 L72.9 302.4 L71.4 301.3 L73.2 301.3Z" fill="#7a7a7a"/>
<text x="80.1" y="303.8" font-size="5.0" text-anchor="start" fill="#000" >CRTB6</text>
<path d="M319.0 197.5 L323.4 197.6 L327.8 197.6 L332.2 197.6 L336.6 197.7 L341.0 197.7 L345.4 197.8 L349.8 197.9 L354.2 198.0 L358.6 198.1 L363.0 198.3 L367.4 198.4 L371.8 198.6 L376.2 198.9 L380.6 199.2 L385.0 199.5 L389.4 199.9 L393.8 200.4 L398.2 200.9 L402.6 201.6 L407.0 202.3 L411.4 203.1 L415.7 203.9 L420.1 204.9 L424.5 205.9 L428.9 207.0 L433.3 208.1 L437.7 209.2 L442.1 210.4 L446.5 211.5 L450.9 212.5 L455.3 213.5 L459.7 214.5 L464.1 215.3 L468.5 216.1 L472.9 216.8 L477.3 217.4 L481.7 217.9 L486.1 218.4 L490.5 218.8 L494.9 219.1" fill="none" stroke="#f0f0f0" stroke-width="0.8"/>
<path d="M319.0 200.4 L323.4 200.4 L327.8 200.5 L332.2 200.5 L336.6 200.5 L341.0 200.5 L345.4 200.6 L349.8 200.7 L354.2 200.8 L358.6 200.9 L363.0 201.1 L367.4 201.4 L371.8 201.8 L376.2 202.3 L380.6 203.0 L385.0 203.9 L389.4 205.0 L393.8 206.5 L398.2 208.4 L402.6 210.6 L407.0 213.2 L411.4 216.1 L415.7 219.2 L420.1 222.3 L424.5 225.3 L428.9 228.0 L433.3 230.4 L437.7 232.4 L442.1 234.0 L446.5 235.3 L450.9 236.3 L455.3 237.0 L459.7 237.6 L464.1 238.0 L468.5 238.3 L472.9 238.5 L477.3 238.7 L481.7 238.8 L486.1 238.9 L490.5 239.0 L494.9 239.0" fill="none" stroke="#111" stroke-width="1.1"/>
<path d="M319.0 199.6 L323.4 199.6 L327.8 199.6 L332.2 199.6 L336.6 199.6 L341.0 199.6 L345.4 199.6 L349.8 199.6 L354.2 199.6 L358.6 199.6 L363.0 199.6 L367.4 199.6 L371.8 199.6 L376.2 199.6 L380.6 199.7 L385.0 199.7 L389.4 199.8 L393.8 199.9 L398.2 200.1 L402.6 200.4 L407.0 200.7 L411.4 201.2 L415.7 201.9 L420.1 202.9 L424.5 204.2 L428.9 205.8 L433.3 207.8 L437.7 210.2 L442.1 212.7 L446.5 215.2 L450.9 217.6 L455.3 219.7 L459.7 221.4 L464.1 222.7 L468.5 223.8 L472.9 224.5 L477.3 225.1 L481.7 225.4 L486.1 225.7 L490.5 225.9 L494.9 226.0" fill="none" stroke="#111" stroke-width="1.1"/>
<path d="M319.0 201.8 L323.4 202.0 L327.8 202.2 L332.2 202.5 L336.6 202.7 L341.0 203.0 L345.4 203.3 L349.8 203.7 L354.2 204.0 L358.6 204.4 L363.0 204.8 L367.4 205.2 L371.8 205.7 L376.2 206.2 L380.6 206.8 L385.0 207.4 L389.4 208.0 L393.8 208.6 L398.2 209.3 L402.6 210.1 L407.0 210.9 L411.4 211.8 L415.7 212.7 L420.1 213.7 L424.5 214.7 L428.9 215.8 L433.3 217.0 L437.7 218.2 L442.1 219.5 L446.5 220.9 L450.9 222.3 L455.3 223.8 L459.7 225.4 L464.1 227.1 L468.5 228.8 L472.9 230.6 L477.3 232.5 L481.7 234.5 L486.1 236.5 L490.5 238.6 L494.9 240.8" fill="none" stroke="#111" stroke-width="1.1"/>
<path d="M319.0 202.1 L323.4 202.1 L327.8 202.1 L332.2 202.2 L336.6 202.2 L341.0 202.3 L345.4 202.4 L349.8 202.5 L354.2 202.6 L358.6 202.8 L363.0 203.1 L367.4 203.5 L371.8 204.0 L376.2 204.7 L380.6 205.6 L385.0 206.7 L389.4 208.1 L393.8 209.9 L398.2 211.9 L402.6 214.2 L407.0 216.8 L411.4 219.5 L415.7 222.1 L420.1 224.6 L424.5 226.9 L428.9 228.9 L433.3 230.6 L437.7 231.9 L442.1 233.0 L446.5 233.8 L450.9 234.5 L455.3 235.0 L459.7 235.3 L464.1 235.6 L468.5 235.8 L472.9 236.0 L477.3 236.1 L481.7 236.2 L486.1 236.2 L490.5 236.3 L494.9 236.3" fill="none" stroke="#a8a8a8" stroke-width="1.1"/>
<path d="M319.0 197.3 L323.4 197.4 L327.8 197.4 L332.2 197.5 L336.6 197.6 L341.0 197.7 L345.4 197.9 L349.8 198.1 L354.2 198.5 L358.6 198.9 L363.0 199.5 L367.4 200.2 L371.8 201.2 L376.2 202.4 L380.6 204.0 L385.0 205.9 L389.4 208.3 L393.8 211.2 L398.2 214.4 L402.6 217.9 L407.0 221.6 L411.4 225.4 L415.7 229.0 L420.1 232.3 L424.5 235.3 L428.9 237.8 L433.3 239.9 L437.7 241.6 L442.1 242.9 L446.5 244.0 L450.9 244.8 L455.3 245.4 L459.7 245.9 L464.1 246.2 L468.5 246.5 L472.9 246.7 L477.3 246.8 L481.7 246.9 L486.1 247.0 L490.5 247.1 L494.9 247.1" fill="none" stroke="#666" stroke-width="1.1"/>
<path d="M319.0 199.9 L323.4 199.9 L327.8 199.9 L332.2 199.9 L336.6 199.9 L341.0 200.0 L345.4 200.0 L349.8 200.0 L354.2 200.1 L358.6 200.1 L363.0 200.3 L367.4 200.4 L371.8 200.7 L376.2 201.1 L380.6 201.6 L385.0 202.5 L389.4 203.7 L393.8 205.5 L398.2 208.0 L402.6 211.4 L407.0 215.8 L411.4 221.4 L415.7 227.9 L420.1 234.9 L424.5 241.9 L428.9 248.4 L433.3 253.9 L437.7 258.3 L442.1 261.7 L446.5 264.1 L450.9 265.9 L455.3 267.1 L459.7 267.9 L464.1 268.5 L468.5 268.9 L472.9 269.1 L477.3 269.3 L481.7 269.4 L486.1 269.5 L490.5 269.5 L494.9 269.5" fill="none" stroke="#333" stroke-width="1.1"/>
<path d="M319.0 190.8 L322.7 190.8 L326.4 190.9 L330.0 191.2 L333.7 191.5 L337.3 191.8 L341.0 192.1 L344.7 192.6 L348.3 193.3 L352.0 194.2 L355.7 195.3 L359.3 196.4 L363.0 197.7 L366.7 199.2 L370.3 201.0 L374.0 203.1 L377.6 205.6 L381.3 208.4 L385.0 211.7 L388.6 216.6 L392.3 223.8 L396.0 232.1 L399.6 240.5 L403.3 247.8 L407.0 253.2 L410.6 256.9 L414.3 260.3 L417.9 263.3 L421.6 265.8 L425.3 268.0 L428.9 269.6 L432.6 271.0 L436.3 272.2 L439.9 273.2 L443.6 274.1 L447.3 274.8 L450.9 275.5 L454.6 276.0 L458.2 276.5 L461.9 276.9 L465.6 277.3 L469.2 277.6 L472.9 278.0 L476.6 278.4 L480.2 278.7 L483.9 279.1 L487.6 279.4 L491.2 279.8 L494.9 280.1" fill="none" stroke="#bdbdbd" stroke-width="1.1"/>
<path d="M319.0 204.1 L323.4 204.2 L327.8 204.3 L332.2 204.4 L336.6 204.6 L341.0 204.9 L345.4 205.3 L349.8 206.0 L354.2 206.9 L358.6 208.2 L363.0 210.0 L367.4 212.6 L371.8 216.2 L376.2 221.0 L380.6 227.0 L385.0 234.4 L389.4 242.8 L393.8 251.9 L398.2 260.8 L402.6 269.0 L407.0 276.1 L411.4 281.9 L415.7 286.3 L420.1 289.7 L424.5 292.1 L428.9 293.8 L433.3 295.0 L437.7 295.8 L442.1 296.4 L446.5 296.8 L450.9 297.1 L455.3 297.3 L459.7 297.4 L464.1 297.5 L468.5 297.5 L472.9 297.6 L477.3 297.6 L481.7 297.6 L486.1 297.6 L490.5 297.6 L494.9 297.6" fill="none" stroke="#7a7a7a" stroke-width="1.1"/>
<rect x="317.5" y="197.6" width="3.1" height="3.1" fill="#111"/>
<rect x="339.4" y="199.0" width="3.1" height="3.1" fill="#111"/>
<rect x="361.4" y="200.3" width="3.1" height="3.1" fill="#111"/>
<rect x="383.4" y="203.1" width="3.1" height="3.1" fill="#111"/>
<rect x="405.4" y="211.5" width="3.1" height="3.1" fill="#111"/>
<rect x="427.4" y="225.5" width="3.1" height="3.1" fill="#111"/>
<rect x="449.3" y="236.6" width="3.1" height="3.1" fill="#111"/>
<rect x="471.3" y="238.0" width="3.1" height="3.1" fill="#111"/>
<rect x="493.3" y="235.2" width="3.1" height="3.1" fill="#111"/>
<circle cx="319.0" cy="197.7" r="1.9" fill="#111"/>
<circle cx="341.0" cy="199.1" r="1.9" fill="#111"/>
<circle cx="363.0" cy="200.5" r="1.9" fill="#111"/>
<circle cx="385.0" cy="200.5" r="1.9" fill="#111"/>
<circle cx="407.0" cy="201.9" r="1.9" fill="#111"/>
<circle cx="428.9" cy="204.7" r="1.9" fill="#111"/>
<circle cx="450.9" cy="218.7" r="1.9" fill="#111"/>
<circle cx="472.9" cy="222.9" r="1.9" fill="#111"/>
<circle cx="494.9" cy="227.0" r="1.9" fill="#111"/>
<path d="M319.0 199.9 L321.1 203.6 L317.0 203.6Z" fill="#111"/>
<path d="M341.0 201.3 L343.0 205.0 L339.0 205.0Z" fill="#111"/>
<path d="M363.0 202.7 L365.0 206.4 L361.0 206.4Z" fill="#111"/>
<path d="M385.0 204.1 L387.0 207.8 L382.9 207.8Z" fill="#111"/>
<path d="M407.0 209.7 L409.0 213.4 L404.9 213.4Z" fill="#111"/>
<path d="M428.9 213.8 L431.0 217.5 L426.9 217.5Z" fill="#111"/>
<path d="M450.9 220.8 L453.0 224.5 L448.9 224.5Z" fill="#111"/>
<path d="M472.9 227.8 L474.9 231.5 L470.9 231.5Z" fill="#111"/>
<path d="M494.9 239.0 L496.9 242.7 L492.8 242.7Z" fill="#111"/>
<path d="M319.0 204.0 L321.1 200.3 L317.0 200.3Z" fill="#a8a8a8"/>
<path d="M341.0 204.0 L343.0 200.3 L339.0 200.3Z" fill="#a8a8a8"/>
<path d="M363.0 205.4 L365.0 201.7 L361.0 201.7Z" fill="#a8a8a8"/>
<path d="M385.0 209.5 L387.0 205.8 L382.9 205.8Z" fill="#a8a8a8"/>
<path d="M407.0 217.9 L409.0 214.2 L404.9 214.2Z" fill="#a8a8a8"/>
<path d="M428.9 231.9 L431.0 228.2 L426.9 228.2Z" fill="#a8a8a8"/>
<path d="M450.9 236.1 L453.0 232.4 L448.9 232.4Z" fill="#a8a8a8"/>
<path d="M472.9 237.5 L474.9 233.8 L470.9 233.8Z" fill="#a8a8a8"/>
<path d="M494.9 238.9 L496.9 235.2 L492.8 235.2Z" fill="#a8a8a8"/>
<path d="M319.0 195.4 L321.3 197.7 L319.0 200.0 L316.7 197.7Z" fill="#666"/>
<path d="M341.0 196.8 L343.3 199.1 L341.0 201.4 L338.7 199.1Z" fill="#666"/>
<path d="M363.0 194.0 L365.3 196.3 L363.0 198.6 L360.7 196.3Z" fill="#666"/>
<path d="M385.0 199.6 L387.3 201.9 L385.0 204.2 L382.7 201.9Z" fill="#666"/>
<path d="M407.0 230.3 L409.3 232.6 L407.0 234.9 L404.6 232.6Z" fill="#666"/>
<path d="M428.9 235.9 L431.2 238.2 L428.9 240.5 L426.6 238.2Z" fill="#666"/>
<path d="M450.9 240.1 L453.2 242.4 L450.9 244.7 L448.6 242.4Z" fill="#666"/>
<path d="M472.9 244.3 L475.2 246.6 L472.9 248.9 L470.6 246.6Z" fill="#666"/>
<path d="M494.9 245.7 L497.2 248.0 L494.9 250.3 L492.6 248.0Z" fill="#666"/>
<rect x="317.5" y="194.8" width="3.1" height="3.1" fill="#f0f0f0"/>
<rect x="339.4" y="196.2" width="3.1" height="3.1" fill="#f0f0f0"/>
<rect x="361.4" y="197.6" width="3.1" height="3.1" fill="#f0f0f0"/>
<rect x="383.4" y="199.0" width="3.1" height="3.1" fill="#f0f0f0"/>
<rect x="405.4" y="200.3" width="3.1" height="3.1" fill="#f0f0f0"/>
<rect x="427.4" y="204.5" width="3.1" height="3.1" fill="#f0f0f0"/>
<rect x="449.3" y="211.5" width="3.1" height="3.1" fill="#f0f0f0"/>
<rect x="471.3" y="215.7" width="3.1" height="3.1" fill="#f0f0f0"/>
<rect x="493.3" y="217.1" width="3.1" height="3.1" fill="#f0f0f0"/>
<path d="M321.4 197.7 L317.4 195.5 L317.4 200.0Z" fill="#333"/>
<path d="M343.4 199.1 L339.3 196.9 L339.3 201.3Z" fill="#333"/>
<path d="M365.4 201.9 L361.3 199.7 L361.3 204.1Z" fill="#333"/>
<path d="M387.4 204.7 L383.3 202.5 L383.3 206.9Z" fill="#333"/>
<path d="M409.4 214.5 L405.3 212.3 L405.3 216.7Z" fill="#333"/>
<path d="M431.3 249.4 L427.3 247.2 L427.3 251.6Z" fill="#333"/>
<path d="M453.3 264.7 L449.3 262.5 L449.3 267.0Z" fill="#333"/>
<path d="M475.3 268.9 L471.2 266.7 L471.2 271.1Z" fill="#333"/>
<path d="M497.3 270.3 L493.2 268.1 L493.2 272.5Z" fill="#333"/>
<circle cx="319.0" cy="190.8" r="1.9" fill="#bdbdbd"/>
<circle cx="341.0" cy="192.1" r="1.9" fill="#bdbdbd"/>
<circle cx="363.0" cy="199.1" r="1.9" fill="#bdbdbd"/>
<circle cx="385.0" cy="210.3" r="1.9" fill="#bdbdbd"/>
<circle cx="407.0" cy="259.2" r="1.9" fill="#bdbdbd"/>
<circle cx="428.9" cy="270.3" r="1.9" fill="#bdbdbd"/>
<circle cx="450.9" cy="275.9" r="1.9" fill="#bdbdbd"/>
<circle cx="472.9" cy="277.3" r="1.9" fill="#bdbdbd"/>
<circle cx="494.9" cy="280.1" r="1.9" fill="#bdbdbd"/>
<path d="M319.0 202.1 L319.6 203.9 L321.5 203.9 L320.0 205.0 L320.5 206.8 L319.0 205.7 L317.5 206.8 L318.1 205.0 L316.6 203.9 L318.4 203.9Z" fill="#7a7a7a"/>
<path d="M341.0 203.5 L341.6 205.3 L343.5 205.3 L342.0 206.4 L342.5 208.2 L341.0 207.1 L339.5 208.2 L340.0 206.4 L338.5 205.3 L340.4 205.3Z" fill="#7a7a7a"/>
<path d="M363.0 204.9 L363.6 206.7 L365.5 206.7 L364.0 207.8 L364.5 209.6 L363.0 208.5 L361.5 209.6 L362.0 207.8 L360.5 206.7 L362.4 206.7Z" fill="#7a7a7a"/>
<path d="M385.0 232.8 L385.6 234.6 L387.4 234.6 L385.9 235.7 L386.5 237.5 L385.0 236.4 L383.4 237.5 L384.0 235.7 L382.5 234.6 L384.4 234.6Z" fill="#7a7a7a"/>
<path d="M407.0 273.3 L407.6 275.1 L409.4 275.1 L407.9 276.2 L408.5 278.0 L407.0 276.9 L405.4 278.0 L406.0 276.2 L404.5 275.1 L406.4 275.1Z" fill="#7a7a7a"/>
<path d="M428.9 290.1 L429.5 291.8 L431.4 291.9 L429.9 293.0 L430.5 294.8 L428.9 293.7 L427.4 294.8 L428.0 293.0 L426.5 291.9 L428.3 291.8Z" fill="#7a7a7a"/>
<path d="M450.9 294.3 L451.5 296.0 L453.4 296.0 L451.9 297.2 L452.4 298.9 L450.9 297.9 L449.4 298.9 L450.0 297.2 L448.5 296.0 L450.3 296.0Z" fill="#7a7a7a"/>
<path d="M472.9 295.7 L473.5 297.4 L475.4 297.4 L473.9 298.6 L474.4 300.3 L472.9 299.3 L471.4 300.3 L471.9 298.6 L470.4 297.4 L472.3 297.4Z" fill="#7a7a7a"/>
<path d="M494.9 295.7 L495.5 297.4 L497.3 297.4 L495.9 298.6 L496.4 300.3 L494.9 299.3 L493.4 300.3 L493.9 298.6 L492.4 297.4 L494.3 297.4Z" fill="#7a7a7a"/>
<rect x="309.7" y="174.0" width="195.90000000000003" height="139.60000000000002" fill="none" stroke="#111" stroke-width="1"/>
<path d="M309.7 313.6 h2.6" stroke="#111" stroke-width="0.8"/>
<text x="306.5" y="315.7" font-size="5.9" text-anchor="end" fill="#000" >20</text>
<path d="M309.7 306.6 h1.5" stroke="#111" stroke-width="0.7"/>
<path d="M309.7 299.6 h2.6" stroke="#111" stroke-width="0.8"/>
<text x="306.5" y="301.7" font-size="5.9" text-anchor="end" fill="#000" >30</text>
<path d="M309.7 292.7 h1.5" stroke="#111" stroke-width="0.7"/>
<path d="M309.7 285.7 h2.6" stroke="#111" stroke-width="0.8"/>
<text x="306.5" y="287.8" font-size="5.9" text-anchor="end" fill="#000" >40</text>
<path d="M309.7 278.7 h1.5" stroke="#111" stroke-width="0.7"/>
<path d="M309.7 271.7 h2.6" stroke="#111" stroke-width="0.8"/>
<text x="306.5" y="273.8" font-size="5.9" text-anchor="end" fill="#000" >50</text>
<path d="M309.7 264.7 h1.5" stroke="#111" stroke-width="0.7"/>
<path d="M309.7 257.8 h2.6" stroke="#111" stroke-width="0.8"/>
<text x="306.5" y="259.9" font-size="5.9" text-anchor="end" fill="#000" >60</text>
<path d="M309.7 250.8 h1.5" stroke="#111" stroke-width="0.7"/>
<path d="M309.7 243.8 h2.6" stroke="#111" stroke-width="0.8"/>
<text x="306.5" y="245.9" font-size="5.9" text-anchor="end" fill="#000" >70</text>
<path d="M309.7 236.8 h1.5" stroke="#111" stroke-width="0.7"/>
<path d="M309.7 229.8 h2.6" stroke="#111" stroke-width="0.8"/>
<text x="306.5" y="231.9" font-size="5.9" text-anchor="end" fill="#000" >80</text>
<path d="M309.7 222.9 h1.5" stroke="#111" stroke-width="0.7"/>
<path d="M309.7 215.9 h2.6" stroke="#111" stroke-width="0.8"/>
<text x="306.5" y="218.0" font-size="5.9" text-anchor="end" fill="#000" >90</text>
<path d="M309.7 208.9 h1.5" stroke="#111" stroke-width="0.7"/>
<path d="M309.7 201.9 h2.6" stroke="#111" stroke-width="0.8"/>
<text x="306.5" y="204.0" font-size="5.9" text-anchor="end" fill="#000" >100</text>
<path d="M309.7 194.9 h1.5" stroke="#111" stroke-width="0.7"/>
<path d="M309.7 188.0 h2.6" stroke="#111" stroke-width="0.8"/>
<text x="306.5" y="190.1" font-size="5.9" text-anchor="end" fill="#000" >110</text>
<path d="M309.7 181.0 h1.5" stroke="#111" stroke-width="0.7"/>
<path d="M309.7 174.0 h2.6" stroke="#111" stroke-width="0.8"/>
<text x="306.5" y="176.1" font-size="5.9" text-anchor="end" fill="#000" >120</text>
<path d="M311.7 313.6 v-1.4" stroke="#111" stroke-width="0.7"/>
<path d="M313.8 313.6 v-1.4" stroke="#111" stroke-width="0.7"/>
<path d="M315.7 313.6 v-1.4" stroke="#111" stroke-width="0.7"/>
<path d="M317.3 313.6 v-1.4" stroke="#111" stroke-width="0.7"/>
<path d="M318.7 313.6 v-2.8" stroke="#111" stroke-width="0.7"/>
<path d="M328.2 313.6 v-1.4" stroke="#111" stroke-width="0.7"/>
<path d="M333.7 313.6 v-1.4" stroke="#111" stroke-width="0.7"/>
<path d="M337.6 313.6 v-1.4" stroke="#111" stroke-width="0.7"/>
<path d="M340.7 313.6 v-1.4" stroke="#111" stroke-width="0.7"/>
<path d="M343.2 313.6 v-1.4" stroke="#111" stroke-width="0.7"/>
<path d="M345.3 313.6 v-1.4" stroke="#111" stroke-width="0.7"/>
<path d="M347.1 313.6 v-1.4" stroke="#111" stroke-width="0.7"/>
<path d="M348.7 313.6 v-1.4" stroke="#111" stroke-width="0.7"/>
<path d="M350.1 313.6 v-2.8" stroke="#111" stroke-width="0.7"/>
<path d="M359.6 313.6 v-1.4" stroke="#111" stroke-width="0.7"/>
<path d="M365.2 313.6 v-1.4" stroke="#111" stroke-width="0.7"/>
<path d="M369.1 313.6 v-1.4" stroke="#111" stroke-width="0.7"/>
<path d="M372.1 313.6 v-1.4" stroke="#111" stroke-width="0.7"/>
<path d="M374.6 313.6 v-1.4" stroke="#111" stroke-width="0.7"/>
<path d="M376.7 313.6 v-1.4" stroke="#111" stroke-width="0.7"/>
<path d="M378.6 313.6 v-1.4" stroke="#111" stroke-width="0.7"/>
<path d="M380.2 313.6 v-1.4" stroke="#111" stroke-width="0.7"/>
<path d="M381.6 313.6 v-2.8" stroke="#111" stroke-width="0.7"/>
<path d="M391.1 313.6 v-1.4" stroke="#111" stroke-width="0.7"/>
<path d="M396.6 313.6 v-1.4" stroke="#111" stroke-width="0.7"/>
<path d="M400.5 313.6 v-1.4" stroke="#111" stroke-width="0.7"/>
<path d="M403.6 313.6 v-1.4" stroke="#111" stroke-width="0.7"/>
<path d="M406.1 313.6 v-1.4" stroke="#111" stroke-width="0.7"/>
<path d="M408.2 313.6 v-1.4" stroke="#111" stroke-width="0.7"/>
<path d="M410.0 313.6 v-1.4" stroke="#111" stroke-width="0.7"/>
<path d="M411.6 313.6 v-1.4" stroke="#111" stroke-width="0.7"/>
<path d="M413.0 313.6 v-2.8" stroke="#111" stroke-width="0.7"/>
<path d="M422.5 313.6 v-1.4" stroke="#111" stroke-width="0.7"/>
<path d="M428.1 313.6 v-1.4" stroke="#111" stroke-width="0.7"/>
<path d="M432.0 313.6 v-1.4" stroke="#111" stroke-width="0.7"/>
<path d="M435.0 313.6 v-1.4" stroke="#111" stroke-width="0.7"/>
<path d="M437.5 313.6 v-1.4" stroke="#111" stroke-width="0.7"/>
<path d="M439.6 313.6 v-1.4" stroke="#111" stroke-width="0.7"/>
<path d="M441.5 313.6 v-1.4" stroke="#111" stroke-width="0.7"/>
<path d="M443.1 313.6 v-1.4" stroke="#111" stroke-width="0.7"/>
<path d="M444.5 313.6 v-2.8" stroke="#111" stroke-width="0.7"/>
<path d="M454.0 313.6 v-1.4" stroke="#111" stroke-width="0.7"/>
<path d="M459.5 313.6 v-1.4" stroke="#111" stroke-width="0.7"/>
<path d="M463.4 313.6 v-1.4" stroke="#111" stroke-width="0.7"/>
<path d="M466.5 313.6 v-1.4" stroke="#111" stroke-width="0.7"/>
<path d="M469.0 313.6 v-1.4" stroke="#111" stroke-width="0.7"/>
<path d="M471.1 313.6 v-1.4" stroke="#111" stroke-width="0.7"/>
<path d="M472.9 313.6 v-1.4" stroke="#111" stroke-width="0.7"/>
<path d="M474.5 313.6 v-1.4" stroke="#111" stroke-width="0.7"/>
<path d="M475.9 313.6 v-2.8" stroke="#111" stroke-width="0.7"/>
<path d="M485.4 313.6 v-1.4" stroke="#111" stroke-width="0.7"/>
<path d="M491.0 313.6 v-1.4" stroke="#111" stroke-width="0.7"/>
<path d="M494.9 313.6 v-1.4" stroke="#111" stroke-width="0.7"/>
<path d="M497.9 313.6 v-1.4" stroke="#111" stroke-width="0.7"/>
<path d="M500.4 313.6 v-1.4" stroke="#111" stroke-width="0.7"/>
<path d="M502.5 313.6 v-1.4" stroke="#111" stroke-width="0.7"/>
<path d="M504.4 313.6 v-1.4" stroke="#111" stroke-width="0.7"/>
<text x="319.0" y="321.70000000000005" font-size="5.4" text-anchor="middle" fill="#000" >1E-3</text>
<text x="350.4" y="321.70000000000005" font-size="5.4" text-anchor="middle" fill="#000" >0.01</text>
<text x="381.9" y="321.70000000000005" font-size="5.4" text-anchor="middle" fill="#000" >0.1</text>
<text x="413.3" y="321.70000000000005" font-size="5.4" text-anchor="middle" fill="#000" >1</text>
<text x="444.8" y="321.70000000000005" font-size="5.4" text-anchor="middle" fill="#000" >10</text>
<text x="476.2" y="321.70000000000005" font-size="5.4" text-anchor="middle" fill="#000" >100</text>
<text x="311.3" y="171.2" font-size="10.6" text-anchor="start" fill="#000" >H1993</text>
<text x="267.5" y="161.3" font-size="12.8" text-anchor="start" fill="#000" style="stroke-width:0.5px">C</text>
<text transform="translate(289.2 251.1) rotate(-90)" font-size="9.2" text-anchor="middle" fill="#111">% Control proliferation</text>
<text x="407" y="334.1" font-size="8.1" text-anchor="middle" fill="#000" >Ab, (µg/mL)</text>
<path d="M319.8 252.2 h9.8" stroke="#111" stroke-width="1.0"/>
<rect x="323.2" y="250.7" width="3.1" height="3.1" fill="#111"/>
<text x="331.9" y="253.9" font-size="5.0" text-anchor="start" fill="#000" >CT9</text>
<path d="M319.8 258.4 h9.8" stroke="#111" stroke-width="1.0"/>
<circle cx="324.7" cy="258.4" r="1.8" fill="#111"/>
<text x="331.9" y="260.1" font-size="5.0" text-anchor="start" fill="#000" >CB12</text>
<path d="M319.8 264.6 h9.8" stroke="#111" stroke-width="1.0"/>
<path d="M324.7 262.6 L326.7 266.2 L322.7 266.2Z" fill="#111"/>
<text x="331.9" y="266.3" font-size="5.0" text-anchor="start" fill="#000" >RT6</text>
<path d="M319.8 270.8 h9.8" stroke="#a8a8a8" stroke-width="1.0"/>
<path d="M324.7 272.8 L326.7 269.2 L322.7 269.2Z" fill="#a8a8a8"/>
<text x="331.9" y="272.5" font-size="5.0" text-anchor="start" fill="#000" >RB4</text>
<path d="M319.8 277.0 h9.8" stroke="#666" stroke-width="1.0"/>
<path d="M324.7 274.8 L326.9 277.0 L324.7 279.2 L322.4 277.0Z" fill="#666"/>
<text x="331.9" y="278.7" font-size="5.0" text-anchor="start" fill="#000" >MEHD7945A</text>
<text x="331.9" y="284.9" font-size="5.0" text-anchor="start" fill="#000" >bH1-44</text>
<path d="M319.8 289.4 h9.8" stroke="#333" stroke-width="1.0"/>
<path d="M327.0 289.4 L323.1 287.2 L323.1 291.6Z" fill="#333"/>
<text x="331.9" y="291.1" font-size="5.0" text-anchor="start" fill="#000" >MEHD7945A+bH1-44</text>
<path d="M319.8 295.6 h9.8" stroke="#bdbdbd" stroke-width="1.0"/>
<circle cx="324.7" cy="295.6" r="1.8" fill="#bdbdbd"/>
<text x="331.9" y="297.3" font-size="5.0" text-anchor="start" fill="#000" >FL518</text>
<path d="M319.8 301.8 h9.8" stroke="#7a7a7a" stroke-width="1.0"/>
<path d="M324.7 299.3 L325.3 301.0 L327.1 301.0 L325.6 302.1 L326.2 303.8 L324.7 302.8 L323.2 303.8 L323.8 302.1 L322.3 301.0 L324.1 301.0Z" fill="#7a7a7a"/>
<text x="331.9" y="303.5" font-size="5.0" text-anchor="start" fill="#000" >CRTB6</text>
<path d="M71.6 509.6 H423.6" stroke="#e2e2e2" stroke-width="0.6"/>
<path d="M71.6 491.7 H423.6" stroke="#e2e2e2" stroke-width="0.6"/>
<path d="M71.6 473.8 H423.6" stroke="#e2e2e2" stroke-width="0.6"/>
<path d="M71.6 455.9 H423.6" stroke="#e2e2e2" stroke-width="0.6"/>
<path d="M71.6 438.0 H423.6" stroke="#e2e2e2" stroke-width="0.6"/>
<path d="M71.6 420.1 H423.6" stroke="#e2e2e2" stroke-width="0.6"/>
<path d="M71.6 402.2 H423.6" stroke="#e2e2e2" stroke-width="0.6"/>
<path d="M71.6 384.3 H423.6" stroke="#e2e2e2" stroke-width="0.6"/>
<path d="M71.6 366.4 H423.6" stroke="#e2e2e2" stroke-width="0.6"/>
<rect x="80.30" y="384.30" width="7.1" height="143.20" fill="#ffffff" stroke="#111" stroke-width="0.6"/>
<path d="M83.85 369.98 V398.62 M81.95 369.98 h3.8 M81.95 398.62 h3.8" stroke="#151515" stroke-width="0.85" fill="none"/>
<rect x="87.40" y="399.34" width="7.1" height="128.16" fill="#000000" stroke="#111" stroke-width="0.6"/>
<path d="M90.95 389.31 V409.36 M89.05 389.31 h3.8 M89.05 409.36 h3.8" stroke="#111" stroke-width="0.85" fill="none"/>
<path d="M90.95 399.34 V409.36 M89.05 409.36 h3.8" stroke="#3a3a3a" stroke-width="0.6" fill="none"/>
<rect x="94.50" y="395.04" width="7.1" height="132.46" fill="#444444" stroke="#111" stroke-width="0.6"/>
<path d="M98.05 380.72 V409.36 M96.15 380.72 h3.8 M96.15 409.36 h3.8" stroke="#151515" stroke-width="0.85" fill="none"/>
<path d="M98.05 395.04 V409.36 M96.15 409.36 h3.8" stroke="#3a3a3a" stroke-width="0.6" fill="none"/>
<rect x="101.60" y="405.06" width="7.1" height="122.44" fill="#262626" stroke="#111" stroke-width="0.6"/>
<path d="M105.15 393.61 V416.52 M103.25 393.61 h3.8 M103.25 416.52 h3.8" stroke="#111" stroke-width="0.85" fill="none"/>
<path d="M105.15 405.06 V416.52 M103.25 416.52 h3.8" stroke="#3a3a3a" stroke-width="0.6" fill="none"/>
<rect x="108.70" y="403.63" width="7.1" height="123.87" fill="#9a9a9a" stroke="#111" stroke-width="0.6"/>
<path d="M112.25 395.04 V412.22 M110.35 395.04 h3.8 M110.35 412.22 h3.8" stroke="#151515" stroke-width="0.85" fill="none"/>
<rect x="115.80" y="413.66" width="7.1" height="113.84" fill="#6c6c6c" stroke="#111" stroke-width="0.6"/>
<path d="M119.35 402.20 V425.11 M117.45 402.20 h3.8 M117.45 425.11 h3.8" stroke="#151515" stroke-width="0.85" fill="none"/>
<rect x="122.90" y="402.20" width="7.1" height="125.30" fill="#fbfbfb" stroke="#111" stroke-width="0.6"/>
<path d="M126.45 390.03 V414.37 M124.55 390.03 h3.8 M124.55 414.37 h3.8" stroke="#151515" stroke-width="0.85" fill="none"/>
<rect x="130.00" y="426.54" width="7.1" height="100.96" fill="#505050" stroke="#111" stroke-width="0.6"/>
<path d="M133.55 414.37 V438.72 M131.65 414.37 h3.8 M131.65 438.72 h3.8" stroke="#151515" stroke-width="0.85" fill="none"/>
<rect x="137.10" y="440.15" width="7.1" height="87.35" fill="#bcbcbc" stroke="#111" stroke-width="0.6"/>
<path d="M140.65 430.12 V450.17 M138.75 430.12 h3.8 M138.75 450.17 h3.8" stroke="#151515" stroke-width="0.85" fill="none"/>
<text x="140.7" y="428.9" font-size="7.4" text-anchor="middle" fill="#000" >*</text>
<rect x="144.20" y="468.07" width="7.1" height="59.43" fill="#7e7e7e" stroke="#111" stroke-width="0.6"/>
<path d="M147.75 459.48 V476.66 M145.85 459.48 h3.8 M145.85 476.66 h3.8" stroke="#151515" stroke-width="0.85" fill="none"/>
<text x="147.8" y="458.3" font-size="7.4" text-anchor="middle" fill="#000" >**</text>
<text x="115.8" y="538.8" font-size="7.9" text-anchor="middle" fill="#000" >MDA-MB-231</text>
<rect x="168.30" y="384.30" width="7.1" height="143.20" fill="#ffffff" stroke="#111" stroke-width="0.6"/>
<path d="M171.85 370.70 V397.90 M169.95 370.70 h3.8 M169.95 397.90 h3.8" stroke="#151515" stroke-width="0.85" fill="none"/>
<rect x="175.40" y="402.92" width="7.1" height="124.58" fill="#000000" stroke="#111" stroke-width="0.6"/>
<path d="M178.95 385.73 V420.10 M177.05 385.73 h3.8 M177.05 420.10 h3.8" stroke="#111" stroke-width="0.85" fill="none"/>
<path d="M178.95 402.92 V420.10 M177.05 420.10 h3.8" stroke="#3a3a3a" stroke-width="0.6" fill="none"/>
<rect x="182.50" y="403.63" width="7.1" height="123.87" fill="#444444" stroke="#111" stroke-width="0.6"/>
<path d="M186.05 392.89 V414.37 M184.15 392.89 h3.8 M184.15 414.37 h3.8" stroke="#151515" stroke-width="0.85" fill="none"/>
<path d="M186.05 403.63 V414.37 M184.15 414.37 h3.8" stroke="#3a3a3a" stroke-width="0.6" fill="none"/>
<rect x="189.60" y="438.00" width="7.1" height="89.50" fill="#262626" stroke="#111" stroke-width="0.6"/>
<path d="M193.15 420.82 V455.18 M191.25 420.82 h3.8 M191.25 455.18 h3.8" stroke="#111" stroke-width="0.85" fill="none"/>
<path d="M193.15 438.00 V455.18 M191.25 455.18 h3.8" stroke="#3a3a3a" stroke-width="0.6" fill="none"/>
<text x="193.2" y="419.6" font-size="7.4" text-anchor="middle" fill="#000" >*</text>
<rect x="196.70" y="401.48" width="7.1" height="126.02" fill="#9a9a9a" stroke="#111" stroke-width="0.6"/>
<path d="M200.25 389.31 V413.66 M198.35 389.31 h3.8 M198.35 413.66 h3.8" stroke="#151515" stroke-width="0.85" fill="none"/>
<rect x="203.80" y="434.42" width="7.1" height="93.08" fill="#6c6c6c" stroke="#111" stroke-width="0.6"/>
<path d="M207.35 419.38 V449.46 M205.45 419.38 h3.8 M205.45 449.46 h3.8" stroke="#151515" stroke-width="0.85" fill="none"/>
<rect x="210.90" y="402.20" width="7.1" height="125.30" fill="#fbfbfb" stroke="#111" stroke-width="0.6"/>
<path d="M214.45 378.57 V425.83 M212.55 378.57 h3.8 M212.55 425.83 h3.8" stroke="#151515" stroke-width="0.85" fill="none"/>
<rect x="218.00" y="411.51" width="7.1" height="115.99" fill="#505050" stroke="#111" stroke-width="0.6"/>
<path d="M221.55 397.19 V425.83 M219.65 397.19 h3.8 M219.65 425.83 h3.8" stroke="#151515" stroke-width="0.85" fill="none"/>
<rect x="225.10" y="432.27" width="7.1" height="95.23" fill="#bcbcbc" stroke="#111" stroke-width="0.6"/>
<path d="M228.65 418.67 V445.88 M226.75 418.67 h3.8 M226.75 445.88 h3.8" stroke="#151515" stroke-width="0.85" fill="none"/>
<text x="228.7" y="417.5" font-size="7.4" text-anchor="middle" fill="#000" >**</text>
<rect x="232.20" y="453.75" width="7.1" height="73.75" fill="#7e7e7e" stroke="#111" stroke-width="0.6"/>
<path d="M235.75 442.30 V465.21 M233.85 442.30 h3.8 M233.85 465.21 h3.8" stroke="#151515" stroke-width="0.85" fill="none"/>
<text x="235.8" y="441.1" font-size="7.4" text-anchor="middle" fill="#000" >**</text>
<text x="203.8" y="538.8" font-size="7.9" text-anchor="middle" fill="#000" >BT474</text>
<rect x="256.60" y="384.30" width="7.1" height="143.20" fill="#ffffff" stroke="#111" stroke-width="0.6"/>
<path d="M260.15 367.83 V400.77 M258.25 367.83 h3.8 M258.25 400.77 h3.8" stroke="#151515" stroke-width="0.85" fill="none"/>
<rect x="263.70" y="378.57" width="7.1" height="148.93" fill="#000000" stroke="#111" stroke-width="0.6"/>
<path d="M267.25 363.54 V393.61 M265.35 363.54 h3.8 M265.35 393.61 h3.8" stroke="#111" stroke-width="0.85" fill="none"/>
<path d="M267.25 378.57 V393.61 M265.35 393.61 h3.8" stroke="#3a3a3a" stroke-width="0.6" fill="none"/>
<rect x="270.80" y="382.87" width="7.1" height="144.63" fill="#444444" stroke="#111" stroke-width="0.6"/>
<path d="M274.35 367.83 V397.90 M272.45 367.83 h3.8 M272.45 397.90 h3.8" stroke="#151515" stroke-width="0.85" fill="none"/>
<path d="M274.35 382.87 V397.90 M272.45 397.90 h3.8" stroke="#3a3a3a" stroke-width="0.6" fill="none"/>
<rect x="277.90" y="422.25" width="7.1" height="105.25" fill="#262626" stroke="#111" stroke-width="0.6"/>
<path d="M281.45 414.37 V430.12 M279.55 414.37 h3.8 M279.55 430.12 h3.8" stroke="#111" stroke-width="0.85" fill="none"/>
<path d="M281.45 422.25 V430.12 M279.55 430.12 h3.8" stroke="#3a3a3a" stroke-width="0.6" fill="none"/>
<text x="281.5" y="413.2" font-size="7.4" text-anchor="middle" fill="#000" >*</text>
<rect x="285.00" y="411.51" width="7.1" height="115.99" fill="#9a9a9a" stroke="#111" stroke-width="0.6"/>
<path d="M288.55 395.04 V427.98 M286.65 395.04 h3.8 M286.65 427.98 h3.8" stroke="#151515" stroke-width="0.85" fill="none"/>
<rect x="292.10" y="425.83" width="7.1" height="101.67" fill="#6c6c6c" stroke="#111" stroke-width="0.6"/>
<path d="M295.65 410.08 V441.58 M293.75 410.08 h3.8 M293.75 441.58 h3.8" stroke="#151515" stroke-width="0.85" fill="none"/>
<text x="295.7" y="408.9" font-size="7.4" text-anchor="middle" fill="#000" >*</text>
<rect x="299.20" y="382.87" width="7.1" height="144.63" fill="#fbfbfb" stroke="#111" stroke-width="0.6"/>
<path d="M302.75 365.68 V400.05 M300.85 365.68 h3.8 M300.85 400.05 h3.8" stroke="#151515" stroke-width="0.85" fill="none"/>
<rect x="306.30" y="417.24" width="7.1" height="110.26" fill="#505050" stroke="#111" stroke-width="0.6"/>
<path d="M309.85 407.21 V427.26 M307.95 407.21 h3.8 M307.95 427.26 h3.8" stroke="#151515" stroke-width="0.85" fill="none"/>
<rect x="313.40" y="430.12" width="7.1" height="97.38" fill="#bcbcbc" stroke="#111" stroke-width="0.6"/>
<path d="M316.95 412.94 V447.31 M315.05 412.94 h3.8 M315.05 447.31 h3.8" stroke="#151515" stroke-width="0.85" fill="none"/>
<text x="317.0" y="411.7" font-size="7.4" text-anchor="middle" fill="#000" >*</text>
<rect x="320.50" y="465.92" width="7.1" height="61.58" fill="#7e7e7e" stroke="#111" stroke-width="0.6"/>
<path d="M324.05 453.04 V478.81 M322.15 453.04 h3.8 M322.15 478.81 h3.8" stroke="#151515" stroke-width="0.85" fill="none"/>
<text x="324.1" y="451.8" font-size="7.4" text-anchor="middle" fill="#000" >**</text>
<text x="292.1" y="538.8" font-size="7.9" text-anchor="middle" fill="#000" >MCF-7</text>
<rect x="344.10" y="384.30" width="7.1" height="143.20" fill="#ffffff" stroke="#111" stroke-width="0.6"/>
<path d="M347.65 369.26 V399.34 M345.75 369.26 h3.8 M345.75 399.34 h3.8" stroke="#151515" stroke-width="0.85" fill="none"/>
<rect x="351.20" y="400.77" width="7.1" height="126.73" fill="#000000" stroke="#111" stroke-width="0.6"/>
<path d="M354.75 390.74 V410.79 M352.85 390.74 h3.8 M352.85 410.79 h3.8" stroke="#111" stroke-width="0.85" fill="none"/>
<path d="M354.75 400.77 V410.79 M352.85 410.79 h3.8" stroke="#3a3a3a" stroke-width="0.6" fill="none"/>
<rect x="358.30" y="390.03" width="7.1" height="137.47" fill="#444444" stroke="#111" stroke-width="0.6"/>
<path d="M361.85 376.42 V403.63 M359.95 376.42 h3.8 M359.95 403.63 h3.8" stroke="#151515" stroke-width="0.85" fill="none"/>
<path d="M361.85 390.03 V403.63 M359.95 403.63 h3.8" stroke="#3a3a3a" stroke-width="0.6" fill="none"/>
<rect x="365.40" y="427.26" width="7.1" height="100.24" fill="#262626" stroke="#111" stroke-width="0.6"/>
<path d="M368.95 415.80 V438.72 M367.05 415.80 h3.8 M367.05 438.72 h3.8" stroke="#111" stroke-width="0.85" fill="none"/>
<path d="M368.95 427.26 V438.72 M367.05 438.72 h3.8" stroke="#3a3a3a" stroke-width="0.6" fill="none"/>
<text x="369.0" y="414.6" font-size="7.4" text-anchor="middle" fill="#000" >*</text>
<rect x="372.50" y="419.38" width="7.1" height="108.12" fill="#9a9a9a" stroke="#111" stroke-width="0.6"/>
<path d="M376.05 412.22 V426.54 M374.15 412.22 h3.8 M374.15 426.54 h3.8" stroke="#151515" stroke-width="0.85" fill="none"/>
<rect x="379.60" y="424.40" width="7.1" height="103.10" fill="#6c6c6c" stroke="#111" stroke-width="0.6"/>
<path d="M383.15 414.37 V434.42 M381.25 414.37 h3.8 M381.25 434.42 h3.8" stroke="#151515" stroke-width="0.85" fill="none"/>
<text x="383.2" y="413.2" font-size="7.4" text-anchor="middle" fill="#000" >*</text>
<rect x="386.70" y="395.04" width="7.1" height="132.46" fill="#fbfbfb" stroke="#111" stroke-width="0.6"/>
<path d="M390.25 385.73 V404.35 M388.35 385.73 h3.8 M388.35 404.35 h3.8" stroke="#151515" stroke-width="0.85" fill="none"/>
<rect x="393.80" y="409.36" width="7.1" height="118.14" fill="#505050" stroke="#111" stroke-width="0.6"/>
<path d="M397.35 395.76 V422.96 M395.45 395.76 h3.8 M395.45 422.96 h3.8" stroke="#151515" stroke-width="0.85" fill="none"/>
<rect x="400.90" y="436.57" width="7.1" height="90.93" fill="#bcbcbc" stroke="#111" stroke-width="0.6"/>
<path d="M404.45 422.96 V450.17 M402.55 422.96 h3.8 M402.55 450.17 h3.8" stroke="#151515" stroke-width="0.85" fill="none"/>
<text x="404.5" y="421.8" font-size="7.4" text-anchor="middle" fill="#000" >**</text>
<rect x="408.00" y="470.22" width="7.1" height="57.28" fill="#7e7e7e" stroke="#111" stroke-width="0.6"/>
<path d="M411.55 461.63 V478.81 M409.65 461.63 h3.8 M409.65 478.81 h3.8" stroke="#151515" stroke-width="0.85" fill="none"/>
<text x="411.6" y="460.4" font-size="7.4" text-anchor="middle" fill="#000" >**</text>
<text x="379.6" y="538.8" font-size="7.9" text-anchor="middle" fill="#000" >BxPC3</text>
<rect x="71.6" y="348.5" width="352.0" height="179.0" fill="none" stroke="#111" stroke-width="1"/>
<path d="M71.6 527.5 h3" stroke="#111" stroke-width="0.8"/>
<text x="68.0" y="530.0" font-size="7.3" text-anchor="end" fill="#000" >0</text>
<path d="M71.6 509.6 h1.7" stroke="#111" stroke-width="0.7"/>
<path d="M71.6 491.7 h3" stroke="#111" stroke-width="0.8"/>
<text x="68.0" y="494.2" font-size="7.3" text-anchor="end" fill="#000" >25</text>
<path d="M71.6 473.8 h1.7" stroke="#111" stroke-width="0.7"/>
<path d="M71.6 455.9 h3" stroke="#111" stroke-width="0.8"/>
<text x="68.0" y="458.4" font-size="7.3" text-anchor="end" fill="#000" >50</text>
<path d="M71.6 438.0 h1.7" stroke="#111" stroke-width="0.7"/>
<path d="M71.6 420.1 h3" stroke="#111" stroke-width="0.8"/>
<text x="68.0" y="422.6" font-size="7.3" text-anchor="end" fill="#000" >75</text>
<path d="M71.6 402.2 h1.7" stroke="#111" stroke-width="0.7"/>
<path d="M71.6 384.3 h3" stroke="#111" stroke-width="0.8"/>
<text x="68.0" y="386.8" font-size="7.3" text-anchor="end" fill="#000" >100</text>
<path d="M71.6 366.4 h1.7" stroke="#111" stroke-width="0.7"/>
<path d="M71.6 348.5 h3" stroke="#111" stroke-width="0.8"/>
<text x="68.0" y="351.0" font-size="7.3" text-anchor="end" fill="#000" >125</text>
<text transform="translate(48.6 444.3) rotate(-90)" font-size="9.4" text-anchor="middle" fill="#111">% control proliferation</text>
<text x="3.7" y="341.6" font-size="12.8" text-anchor="start" fill="#000" style="stroke-width:0.5px">D</text>
<rect x="434.6" y="384.90" width="14.8" height="7.2" fill="#ffffff" stroke="#111" stroke-width="0.7"/>
<text x="451.8" y="391.2" font-size="7.1" text-anchor="start" fill="#000" >CTRL</text>
<rect x="434.6" y="393.77" width="14.8" height="7.2" fill="#000000" stroke="#111" stroke-width="0.7"/>
<text x="451.8" y="400.1" font-size="7.1" text-anchor="start" fill="#000" >CT9</text>
<rect x="434.6" y="402.64" width="14.8" height="7.2" fill="#444444" stroke="#111" stroke-width="0.7"/>
<text x="451.8" y="408.9" font-size="7.1" text-anchor="start" fill="#000" >CB12</text>
<rect x="434.6" y="411.51" width="14.8" height="7.2" fill="#262626" stroke="#111" stroke-width="0.7"/>
<text x="451.8" y="417.8" font-size="7.1" text-anchor="start" fill="#000" >RT6</text>
<rect x="434.6" y="420.38" width="14.8" height="7.2" fill="#9a9a9a" stroke="#111" stroke-width="0.7"/>
<text x="451.8" y="426.7" font-size="7.1" text-anchor="start" fill="#000" >RB4</text>
<rect x="434.6" y="429.25" width="14.8" height="7.2" fill="#6c6c6c" stroke="#111" stroke-width="0.7"/>
<text x="451.8" y="435.6" font-size="7.1" text-anchor="start" fill="#000" >MEHD7945A</text>
<rect x="434.6" y="438.12" width="14.8" height="7.2" fill="#fbfbfb" stroke="#111" stroke-width="0.7"/>
<text x="451.8" y="444.4" font-size="7.1" text-anchor="start" fill="#000" >bH1-44</text>
<rect x="434.6" y="446.99" width="14.8" height="7.2" fill="#505050" stroke="#111" stroke-width="0.7"/>
<text x="451.8" y="453.3" font-size="7.1" text-anchor="start" fill="#000" >MEHD7945A+bH1-44</text>
<rect x="434.6" y="455.86" width="14.8" height="7.2" fill="#bcbcbc" stroke="#111" stroke-width="0.7"/>
<text x="451.8" y="462.2" font-size="7.1" text-anchor="start" fill="#000" >FL518</text>
<rect x="434.6" y="464.73" width="14.8" height="7.2" fill="#7e7e7e" stroke="#111" stroke-width="0.7"/>
<text x="451.8" y="471.0" font-size="7.1" text-anchor="start" fill="#000" >CRTB6</text>
<path d="M57.2 642.2 L63.1 641.1 L69.0 640.1 L74.8 639.1 L80.7 638.0 L86.6 637.0 L92.5 634.4 L98.4 631.7 L104.2 629.1 L110.1 623.1 L116.0 617.2 L121.9 609.2 L127.8 601.3 L133.6 595.4 L139.5 589.4 L145.4 581.5" fill="none" stroke="#e4e4e4" stroke-width="0.8"/>
<path d="M57.2 641.4 V643.0 M56.2 641.4 h2 M56.2 643.0 h2 M63.1 640.1 V642.1 M62.1 640.1 h2 M62.1 642.1 h2 M69.0 639.1 V641.1 M68.0 639.1 h2 M68.0 641.1 h2 M74.8 638.1 V640.1 M73.8 638.1 h2 M73.8 640.1 h2 M80.7 636.9 V639.1 M79.7 636.9 h2 M79.7 639.1 h2 M86.6 635.8 V638.2 M85.6 635.8 h2 M85.6 638.2 h2 M92.5 632.9 V635.8 M91.5 632.9 h2 M91.5 635.8 h2 M98.4 630.0 V633.4 M97.4 630.0 h2 M97.4 633.4 h2 M104.2 627.1 V631.1 M103.2 627.1 h2 M103.2 631.1 h2 M110.1 620.6 V625.7 M109.1 620.6 h2 M109.1 625.7 h2 M116.0 614.0 V620.4 M115.0 614.0 h2 M115.0 620.4 h2 M121.9 605.3 V613.2 M120.9 605.3 h2 M120.9 613.2 h2 M127.8 596.6 V606.1 M126.8 596.6 h2 M126.8 606.1 h2 M133.6 590.0 V600.7 M132.6 590.0 h2 M132.6 600.7 h2 M139.5 583.5 V595.4 M138.5 583.5 h2 M138.5 595.4 h2 M145.4 574.8 V588.2 M144.4 574.8 h2 M144.4 588.2 h2 " fill="none" stroke="#e4e4e4" stroke-width="0.5"/>
<rect x="56.2" y="641.1" width="2.0" height="2.0" fill="#e4e4e4"/>
<rect x="62.1" y="640.1" width="2.0" height="2.0" fill="#e4e4e4"/>
<rect x="67.9" y="639.1" width="2.0" height="2.0" fill="#e4e4e4"/>
<rect x="73.8" y="638.0" width="2.0" height="2.0" fill="#e4e4e4"/>
<rect x="79.7" y="637.0" width="2.0" height="2.0" fill="#e4e4e4"/>
<rect x="85.6" y="636.0" width="2.0" height="2.0" fill="#e4e4e4"/>
<rect x="91.5" y="633.3" width="2.0" height="2.0" fill="#e4e4e4"/>
<rect x="97.3" y="630.7" width="2.0" height="2.0" fill="#e4e4e4"/>
<rect x="103.2" y="628.1" width="2.0" height="2.0" fill="#e4e4e4"/>
<rect x="109.1" y="622.1" width="2.0" height="2.0" fill="#e4e4e4"/>
<rect x="115.0" y="616.2" width="2.0" height="2.0" fill="#e4e4e4"/>
<rect x="120.9" y="608.2" width="2.0" height="2.0" fill="#e4e4e4"/>
<rect x="126.7" y="600.3" width="2.0" height="2.0" fill="#e4e4e4"/>
<rect x="132.6" y="594.4" width="2.0" height="2.0" fill="#e4e4e4"/>
<rect x="138.5" y="588.4" width="2.0" height="2.0" fill="#e4e4e4"/>
<rect x="144.4" y="580.5" width="2.0" height="2.0" fill="#e4e4e4"/>
<path d="M57.2 642.2 L63.1 641.8 L69.0 641.4 L74.8 641.1 L80.7 640.7 L86.6 640.4 L92.5 640.4 L98.4 640.4 L104.2 640.4 L110.1 640.4 L116.0 640.9 L121.9 641.4 L127.8 642.6 L133.6 643.0 L139.5 644.5 L145.4 643.7 L151.3 643.2 L157.2 642.6 L163.0 642.3 L168.9 642.0 L174.8 641.8" fill="none" stroke="#bdbdbd" stroke-width="0.8"/>
<path d="M57.2 641.4 V643.0 M56.2 641.4 h2 M56.2 643.0 h2 M63.1 640.8 V642.8 M62.1 640.8 h2 M62.1 642.8 h2 M69.0 640.4 V642.4 M68.0 640.4 h2 M68.0 642.4 h2 M74.8 640.1 V642.1 M73.8 640.1 h2 M73.8 642.1 h2 M80.7 639.7 V641.7 M79.7 639.7 h2 M79.7 641.7 h2 M86.6 639.4 V641.4 M85.6 639.4 h2 M85.6 641.4 h2 M92.5 639.4 V641.4 M91.5 639.4 h2 M91.5 641.4 h2 M98.4 639.4 V641.4 M97.4 639.4 h2 M97.4 641.4 h2 M104.2 639.4 V641.4 M103.2 639.4 h2 M103.2 641.4 h2 M110.1 639.4 V641.4 M109.1 639.4 h2 M109.1 641.4 h2 M116.0 639.9 V641.9 M115.0 639.9 h2 M115.0 641.9 h2 M121.9 640.4 V642.4 M120.9 640.4 h2 M120.9 642.4 h2 M127.8 641.6 V643.6 M126.8 641.6 h2 M126.8 643.6 h2 M133.6 642.0 V644.0 M132.6 642.0 h2 M132.6 644.0 h2 M139.5 643.5 V645.5 M138.5 643.5 h2 M138.5 645.5 h2 M145.4 642.7 V644.7 M144.4 642.7 h2 M144.4 644.7 h2 M151.3 642.2 V644.2 M150.3 642.2 h2 M150.3 644.2 h2 M157.2 641.6 V643.6 M156.2 641.6 h2 M156.2 643.6 h2 M163.0 641.3 V643.3 M162.0 641.3 h2 M162.0 643.3 h2 M168.9 641.0 V643.0 M167.9 641.0 h2 M167.9 643.0 h2 M174.8 640.8 V642.8 M173.8 640.8 h2 M173.8 642.8 h2 " fill="none" stroke="#bdbdbd" stroke-width="0.5"/>
<circle cx="57.2" cy="642.2" r="1.2" fill="#bdbdbd"/>
<circle cx="63.1" cy="641.8" r="1.2" fill="#bdbdbd"/>
<circle cx="69.0" cy="641.4" r="1.2" fill="#bdbdbd"/>
<circle cx="74.8" cy="641.1" r="1.2" fill="#bdbdbd"/>
<circle cx="80.7" cy="640.7" r="1.2" fill="#bdbdbd"/>
<circle cx="86.6" cy="640.4" r="1.2" fill="#bdbdbd"/>
<circle cx="92.5" cy="640.4" r="1.2" fill="#bdbdbd"/>
<circle cx="98.4" cy="640.4" r="1.2" fill="#bdbdbd"/>
<circle cx="104.2" cy="640.4" r="1.2" fill="#bdbdbd"/>
<circle cx="110.1" cy="640.4" r="1.2" fill="#bdbdbd"/>
<circle cx="116.0" cy="640.9" r="1.2" fill="#bdbdbd"/>
<circle cx="121.9" cy="641.4" r="1.2" fill="#bdbdbd"/>
<circle cx="127.8" cy="642.6" r="1.2" fill="#bdbdbd"/>
<circle cx="133.6" cy="643.0" r="1.2" fill="#bdbdbd"/>
<circle cx="139.5" cy="644.5" r="1.2" fill="#bdbdbd"/>
<circle cx="145.4" cy="643.7" r="1.2" fill="#bdbdbd"/>
<circle cx="151.3" cy="643.2" r="1.2" fill="#bdbdbd"/>
<circle cx="157.2" cy="642.6" r="1.2" fill="#bdbdbd"/>
<circle cx="163.0" cy="642.3" r="1.2" fill="#bdbdbd"/>
<circle cx="168.9" cy="642.0" r="1.2" fill="#bdbdbd"/>
<circle cx="174.8" cy="641.8" r="1.2" fill="#bdbdbd"/>
<path d="M57.2 642.2 L63.1 641.0 L69.0 639.8 L74.8 638.6 L80.7 636.4 L86.6 634.2 L92.5 631.3 L98.4 628.3 L104.2 623.7 L110.1 619.2 L116.0 613.2 L121.9 605.3 L127.8 595.4 L133.6 587.4 L139.5 582.7 L145.4 579.5 L151.3 566.8" fill="none" stroke="#a8a8a8" stroke-width="0.8"/>
<path d="M57.2 641.4 V643.0 M56.2 641.4 h2 M56.2 643.0 h2 M63.1 640.0 V642.0 M62.1 640.0 h2 M62.1 642.0 h2 M69.0 638.8 V640.8 M68.0 638.8 h2 M68.0 640.8 h2 M74.8 637.6 V639.6 M73.8 637.6 h2 M73.8 639.6 h2 M80.7 635.2 V637.7 M79.7 635.2 h2 M79.7 637.7 h2 M86.6 632.8 V635.7 M85.6 632.8 h2 M85.6 635.7 h2 M92.5 629.5 V633.0 M91.5 629.5 h2 M91.5 633.0 h2 M98.4 626.2 V630.3 M97.4 626.2 h2 M97.4 630.3 h2 M104.2 621.2 V626.2 M103.2 621.2 h2 M103.2 626.2 h2 M110.1 616.2 V622.1 M109.1 616.2 h2 M109.1 622.1 h2 M116.0 609.6 V616.8 M115.0 609.6 h2 M115.0 616.8 h2 M121.9 600.9 V609.6 M120.9 600.9 h2 M120.9 609.6 h2 M127.8 590.0 V600.7 M126.8 590.0 h2 M126.8 600.7 h2 M133.6 581.3 V593.6 M132.6 581.3 h2 M132.6 593.6 h2 M139.5 576.1 V589.3 M138.5 576.1 h2 M138.5 589.3 h2 M145.4 572.6 V586.5 M144.4 572.6 h2 M144.4 586.5 h2 M151.3 558.6 V575.0 M150.3 558.6 h2 M150.3 575.0 h2 " fill="none" stroke="#a8a8a8" stroke-width="0.5"/>
<path d="M57.2 643.5 L58.5 641.1 L55.9 641.1Z" fill="#a8a8a8"/>
<path d="M63.1 642.3 L64.4 639.9 L61.8 639.9Z" fill="#a8a8a8"/>
<path d="M69.0 641.1 L70.3 638.7 L67.6 638.7Z" fill="#a8a8a8"/>
<path d="M74.8 639.9 L76.2 637.5 L73.5 637.5Z" fill="#a8a8a8"/>
<path d="M80.7 637.7 L82.0 635.3 L79.4 635.3Z" fill="#a8a8a8"/>
<path d="M86.6 635.5 L87.9 633.1 L85.3 633.1Z" fill="#a8a8a8"/>
<path d="M92.5 632.6 L93.8 630.2 L91.2 630.2Z" fill="#a8a8a8"/>
<path d="M98.4 629.6 L99.7 627.2 L97.0 627.2Z" fill="#a8a8a8"/>
<path d="M104.2 625.0 L105.6 622.6 L102.9 622.6Z" fill="#a8a8a8"/>
<path d="M110.1 620.5 L111.4 618.1 L108.8 618.1Z" fill="#a8a8a8"/>
<path d="M116.0 614.5 L117.3 612.1 L114.7 612.1Z" fill="#a8a8a8"/>
<path d="M121.9 606.6 L123.2 604.2 L120.6 604.2Z" fill="#a8a8a8"/>
<path d="M127.8 596.7 L129.1 594.3 L126.4 594.3Z" fill="#a8a8a8"/>
<path d="M133.6 588.8 L135.0 586.4 L132.3 586.4Z" fill="#a8a8a8"/>
<path d="M139.5 584.0 L140.8 581.6 L138.2 581.6Z" fill="#a8a8a8"/>
<path d="M145.4 580.8 L146.7 578.4 L144.1 578.4Z" fill="#a8a8a8"/>
<path d="M151.3 568.1 L152.6 565.7 L150.0 565.7Z" fill="#a8a8a8"/>
<path d="M57.2 642.2 L63.1 642.4 L69.0 642.6 L74.8 643.0 L80.7 644.1 L86.6 646.1 L92.5 647.3 L98.4 647.5 L104.2 647.9 L110.1 648.1 L116.0 648.3 L121.9 648.5" fill="none" stroke="#7a7a7a" stroke-width="0.8"/>
<path d="M57.2 641.4 V643.0 M56.2 641.4 h2 M56.2 643.0 h2 M63.1 641.4 V643.4 M62.1 641.4 h2 M62.1 643.4 h2 M69.0 641.6 V643.6 M68.0 641.6 h2 M68.0 643.6 h2 M74.8 642.0 V644.0 M73.8 642.0 h2 M73.8 644.0 h2 M80.7 643.1 V645.1 M79.7 643.1 h2 M79.7 645.1 h2 M86.6 645.1 V647.1 M85.6 645.1 h2 M85.6 647.1 h2 M92.5 646.3 V648.3 M91.5 646.3 h2 M91.5 648.3 h2 M98.4 646.5 V648.5 M97.4 646.5 h2 M97.4 648.5 h2 M104.2 646.9 V648.9 M103.2 646.9 h2 M103.2 648.9 h2 M110.1 647.1 V649.1 M109.1 647.1 h2 M109.1 649.1 h2 M116.0 647.3 V649.3 M115.0 647.3 h2 M115.0 649.3 h2 M121.9 647.5 V649.5 M120.9 647.5 h2 M120.9 649.5 h2 " fill="none" stroke="#7a7a7a" stroke-width="0.5"/>
<path d="M57.2 640.5 L57.6 641.6 L58.8 641.6 L57.8 642.4 L58.2 643.5 L57.2 642.8 L56.2 643.5 L56.6 642.4 L55.6 641.6 L56.8 641.6Z" fill="#7a7a7a"/>
<path d="M63.1 640.7 L63.5 641.8 L64.7 641.8 L63.7 642.6 L64.1 643.7 L63.1 643.0 L62.1 643.7 L62.5 642.6 L61.5 641.8 L62.7 641.8Z" fill="#7a7a7a"/>
<path d="M69.0 640.9 L69.3 642.0 L70.6 642.0 L69.6 642.8 L69.9 643.9 L69.0 643.2 L68.0 643.9 L68.3 642.8 L67.4 642.0 L68.6 642.0Z" fill="#7a7a7a"/>
<path d="M74.8 641.3 L75.2 642.4 L76.4 642.4 L75.5 643.2 L75.8 644.3 L74.8 643.6 L73.9 644.3 L74.2 643.2 L73.2 642.4 L74.5 642.4Z" fill="#7a7a7a"/>
<path d="M80.7 642.5 L81.1 643.6 L82.3 643.6 L81.3 644.3 L81.7 645.5 L80.7 644.8 L79.7 645.5 L80.1 644.3 L79.1 643.6 L80.3 643.6Z" fill="#7a7a7a"/>
<path d="M86.6 644.4 L87.0 645.6 L88.2 645.6 L87.2 646.3 L87.6 647.5 L86.6 646.8 L85.6 647.5 L86.0 646.3 L85.0 645.6 L86.2 645.6Z" fill="#7a7a7a"/>
<path d="M92.5 645.6 L92.9 646.8 L94.1 646.8 L93.1 647.5 L93.5 648.7 L92.5 648.0 L91.5 648.7 L91.9 647.5 L90.9 646.8 L92.1 646.8Z" fill="#7a7a7a"/>
<path d="M98.4 645.8 L98.7 647.0 L100.0 647.0 L99.0 647.7 L99.3 648.9 L98.4 648.2 L97.4 648.9 L97.7 647.7 L96.8 647.0 L98.0 647.0Z" fill="#7a7a7a"/>
<path d="M104.2 646.2 L104.6 647.4 L105.8 647.4 L104.9 648.1 L105.2 649.3 L104.2 648.6 L103.3 649.3 L103.6 648.1 L102.6 647.4 L103.9 647.4Z" fill="#7a7a7a"/>
<path d="M110.1 646.4 L110.5 647.6 L111.7 647.6 L110.7 648.3 L111.1 649.5 L110.1 648.8 L109.1 649.5 L109.5 648.3 L108.5 647.6 L109.7 647.6Z" fill="#7a7a7a"/>
<path d="M116.0 646.6 L116.4 647.8 L117.6 647.8 L116.6 648.5 L117.0 649.7 L116.0 649.0 L115.0 649.7 L115.4 648.5 L114.4 647.8 L115.6 647.8Z" fill="#7a7a7a"/>
<path d="M121.9 646.8 L122.3 648.0 L123.5 648.0 L122.5 648.7 L122.9 649.9 L121.9 649.2 L120.9 649.9 L121.3 648.7 L120.3 648.0 L121.5 648.0Z" fill="#7a7a7a"/>
<path d="M57.2 642.2 L63.1 641.6 L69.0 641.0 L74.8 640.5 L80.7 639.9 L86.6 639.4 L92.5 638.8 L98.4 638.3 L104.2 637.7 L110.1 637.2 L116.0 636.6 L121.9 633.8 L127.8 631.9 L133.6 630.3 L139.5 629.5 L145.4 628.3 L151.3 627.5 L157.2 624.3 L163.0 622.7 L168.9 619.4 L174.8 618.6" fill="none" stroke="#3c3c3c" stroke-width="0.8"/>
<path d="M57.2 641.4 V643.0 M56.2 641.4 h2 M56.2 643.0 h2 M63.1 640.6 V642.6 M62.1 640.6 h2 M62.1 642.6 h2 M69.0 640.0 V642.0 M68.0 640.0 h2 M68.0 642.0 h2 M74.8 639.5 V641.5 M73.8 639.5 h2 M73.8 641.5 h2 M80.7 638.9 V640.9 M79.7 638.9 h2 M79.7 640.9 h2 M86.6 638.4 V640.4 M85.6 638.4 h2 M85.6 640.4 h2 M92.5 637.8 V639.8 M91.5 637.8 h2 M91.5 639.8 h2 M98.4 637.2 V639.3 M97.4 637.2 h2 M97.4 639.3 h2 M104.2 636.6 V638.8 M103.2 636.6 h2 M103.2 638.8 h2 M110.1 636.0 V638.3 M109.1 636.0 h2 M109.1 638.3 h2 M116.0 635.4 V637.8 M115.0 635.4 h2 M115.0 637.8 h2 M121.9 632.3 V635.3 M120.9 632.3 h2 M120.9 635.3 h2 M127.8 630.1 V633.6 M126.8 630.1 h2 M126.8 633.6 h2 M133.6 628.4 V632.1 M132.6 628.4 h2 M132.6 632.1 h2 M139.5 627.5 V631.4 M138.5 627.5 h2 M138.5 631.4 h2 M145.4 626.2 V630.3 M144.4 626.2 h2 M144.4 630.3 h2 M151.3 625.3 V629.6 M150.3 625.3 h2 M150.3 629.6 h2 M157.2 621.9 V626.8 M156.2 621.9 h2 M156.2 626.8 h2 M163.0 620.1 V625.3 M162.0 620.1 h2 M162.0 625.3 h2 M168.9 616.4 V622.3 M167.9 616.4 h2 M167.9 622.3 h2 M174.8 615.5 V621.6 M173.8 615.5 h2 M173.8 621.6 h2 " fill="none" stroke="#3c3c3c" stroke-width="0.5"/>
<path d="M57.2 640.7 L58.7 642.2 L57.2 643.7 L55.7 642.2Z" fill="#3c3c3c"/>
<path d="M63.1 640.1 L64.6 641.6 L63.1 643.1 L61.6 641.6Z" fill="#3c3c3c"/>
<path d="M69.0 639.5 L70.5 641.0 L69.0 642.5 L67.5 641.0Z" fill="#3c3c3c"/>
<path d="M74.8 639.0 L76.3 640.5 L74.8 642.0 L73.3 640.5Z" fill="#3c3c3c"/>
<path d="M80.7 638.4 L82.2 639.9 L80.7 641.4 L79.2 639.9Z" fill="#3c3c3c"/>
<path d="M86.6 637.9 L88.1 639.4 L86.6 640.9 L85.1 639.4Z" fill="#3c3c3c"/>
<path d="M92.5 637.3 L94.0 638.8 L92.5 640.3 L91.0 638.8Z" fill="#3c3c3c"/>
<path d="M98.4 636.8 L99.9 638.3 L98.4 639.8 L96.9 638.3Z" fill="#3c3c3c"/>
<path d="M104.2 636.2 L105.7 637.7 L104.2 639.2 L102.7 637.7Z" fill="#3c3c3c"/>
<path d="M110.1 635.7 L111.6 637.2 L110.1 638.7 L108.6 637.2Z" fill="#3c3c3c"/>
<path d="M116.0 635.1 L117.5 636.6 L116.0 638.1 L114.5 636.6Z" fill="#3c3c3c"/>
<path d="M121.9 632.3 L123.4 633.8 L121.9 635.3 L120.4 633.8Z" fill="#3c3c3c"/>
<path d="M127.8 630.4 L129.3 631.9 L127.8 633.4 L126.3 631.9Z" fill="#3c3c3c"/>
<path d="M133.6 628.8 L135.1 630.3 L133.6 631.8 L132.1 630.3Z" fill="#3c3c3c"/>
<path d="M139.5 628.0 L141.0 629.5 L139.5 631.0 L138.0 629.5Z" fill="#3c3c3c"/>
<path d="M145.4 626.8 L146.9 628.3 L145.4 629.8 L143.9 628.3Z" fill="#3c3c3c"/>
<path d="M151.3 626.0 L152.8 627.5 L151.3 629.0 L149.8 627.5Z" fill="#3c3c3c"/>
<path d="M157.2 622.8 L158.7 624.3 L157.2 625.8 L155.7 624.3Z" fill="#3c3c3c"/>
<path d="M163.0 621.2 L164.5 622.7 L163.0 624.2 L161.5 622.7Z" fill="#3c3c3c"/>
<path d="M168.9 617.9 L170.4 619.4 L168.9 620.9 L167.4 619.4Z" fill="#3c3c3c"/>
<path d="M174.8 617.1 L176.3 618.6 L174.8 620.1 L173.3 618.6Z" fill="#3c3c3c"/>
<path d="M57.2 642.2 L63.1 640.8 L69.0 639.4 L74.8 638.0 L80.7 636.6 L86.6 634.1 L92.5 631.6 L98.4 629.1 L104.2 624.7 L110.1 620.4 L116.0 611.2 L121.9 599.3 L127.8 577.1 L133.6 572.8" fill="none" stroke="#3a3a3a" stroke-width="0.8"/>
<path d="M57.2 641.4 V643.0 M56.2 641.4 h2 M56.2 643.0 h2 M63.1 639.8 V641.8 M62.1 639.8 h2 M62.1 641.8 h2 M69.0 638.4 V640.4 M68.0 638.4 h2 M68.0 640.4 h2 M74.8 636.9 V639.1 M73.8 636.9 h2 M73.8 639.1 h2 M80.7 635.4 V637.8 M79.7 635.4 h2 M79.7 637.8 h2 M86.6 632.6 V635.6 M85.6 632.6 h2 M85.6 635.6 h2 M92.5 629.9 V633.3 M91.5 629.9 h2 M91.5 633.3 h2 M98.4 627.1 V631.1 M97.4 627.1 h2 M97.4 631.1 h2 M104.2 622.3 V627.1 M103.2 622.3 h2 M103.2 627.1 h2 M110.1 617.5 V623.2 M109.1 617.5 h2 M109.1 623.2 h2 M116.0 607.5 V615.0 M115.0 607.5 h2 M115.0 615.0 h2 M121.9 594.4 V604.3 M120.9 594.4 h2 M120.9 604.3 h2 M127.8 570.0 V584.3 M126.8 570.0 h2 M126.8 584.3 h2 M133.6 565.2 V580.4 M132.6 565.2 h2 M132.6 580.4 h2 " fill="none" stroke="#3a3a3a" stroke-width="0.5"/>
<circle cx="57.2" cy="642.2" r="1.2" fill="#3a3a3a"/>
<circle cx="63.1" cy="640.8" r="1.2" fill="#3a3a3a"/>
<circle cx="69.0" cy="639.4" r="1.2" fill="#3a3a3a"/>
<circle cx="74.8" cy="638.0" r="1.2" fill="#3a3a3a"/>
<circle cx="80.7" cy="636.6" r="1.2" fill="#3a3a3a"/>
<circle cx="86.6" cy="634.1" r="1.2" fill="#3a3a3a"/>
<circle cx="92.5" cy="631.6" r="1.2" fill="#3a3a3a"/>
<circle cx="98.4" cy="629.1" r="1.2" fill="#3a3a3a"/>
<circle cx="104.2" cy="624.7" r="1.2" fill="#3a3a3a"/>
<circle cx="110.1" cy="620.4" r="1.2" fill="#3a3a3a"/>
<circle cx="116.0" cy="611.2" r="1.2" fill="#3a3a3a"/>
<circle cx="121.9" cy="599.3" r="1.2" fill="#3a3a3a"/>
<circle cx="127.8" cy="577.1" r="1.2" fill="#3a3a3a"/>
<circle cx="133.6" cy="572.8" r="1.2" fill="#3a3a3a"/>
<path d="M57.2 642.2 L63.1 640.9 L69.0 639.6 L74.8 638.3 L80.7 637.0 L86.6 634.6 L92.5 632.2 L98.4 629.5 L104.2 626.7 L110.1 622.7 L116.0 618.8 L121.9 613.2 L127.8 605.3 L133.6 597.4" fill="none" stroke="#333" stroke-width="0.8"/>
<path d="M57.2 641.4 V643.0 M56.2 641.4 h2 M56.2 643.0 h2 M63.1 639.9 V641.9 M62.1 639.9 h2 M62.1 641.9 h2 M69.0 638.6 V640.6 M68.0 638.6 h2 M68.0 640.6 h2 M74.8 637.2 V639.4 M73.8 637.2 h2 M73.8 639.4 h2 M80.7 635.8 V638.2 M79.7 635.8 h2 M79.7 638.2 h2 M86.6 633.2 V636.1 M85.6 633.2 h2 M85.6 636.1 h2 M92.5 630.6 V633.9 M91.5 630.6 h2 M91.5 633.9 h2 M98.4 627.5 V631.4 M97.4 627.5 h2 M97.4 631.4 h2 M104.2 624.5 V628.9 M103.2 624.5 h2 M103.2 628.9 h2 M110.1 620.1 V625.3 M109.1 620.1 h2 M109.1 625.3 h2 M116.0 615.8 V621.8 M115.0 615.8 h2 M115.0 621.8 h2 M121.9 609.6 V616.8 M120.9 609.6 h2 M120.9 616.8 h2 M127.8 600.9 V609.6 M126.8 600.9 h2 M126.8 609.6 h2 M133.6 592.2 V602.5 M132.6 592.2 h2 M132.6 602.5 h2 " fill="none" stroke="#333" stroke-width="0.5"/>
<path d="M58.8 642.2 L56.1 640.7 L56.1 643.6Z" fill="#333"/>
<path d="M64.6 640.9 L62.0 639.4 L62.0 642.3Z" fill="#333"/>
<path d="M70.5 639.6 L67.9 638.1 L67.9 641.0Z" fill="#333"/>
<path d="M76.4 638.3 L73.8 636.9 L73.8 639.7Z" fill="#333"/>
<path d="M82.3 637.0 L79.6 635.6 L79.6 638.4Z" fill="#333"/>
<path d="M88.2 634.6 L85.5 633.2 L85.5 636.1Z" fill="#333"/>
<path d="M94.0 632.2 L91.4 630.8 L91.4 633.7Z" fill="#333"/>
<path d="M99.9 629.5 L97.3 628.0 L97.3 630.9Z" fill="#333"/>
<path d="M105.8 626.7 L103.2 625.3 L103.2 628.1Z" fill="#333"/>
<path d="M111.7 622.7 L109.0 621.3 L109.0 624.2Z" fill="#333"/>
<path d="M117.6 618.8 L114.9 617.3 L114.9 620.2Z" fill="#333"/>
<path d="M123.4 613.2 L120.8 611.8 L120.8 614.7Z" fill="#333"/>
<path d="M129.3 605.3 L126.7 603.8 L126.7 606.7Z" fill="#333"/>
<path d="M135.2 597.4 L132.6 595.9 L132.6 598.8Z" fill="#333"/>
<path d="M57.2 642.2 L63.1 641.5 L69.0 640.9 L74.8 640.3 L80.7 639.6 L86.6 639.0 L92.5 638.4 L98.4 637.9 L104.2 637.3 L110.1 636.8 L116.0 636.2 L121.9 633.0 L127.8 631.1 L133.6 629.1 L139.5 627.5 L145.4 626.1 L151.3 624.3 L157.2 620.2 L163.0 615.2 L168.9 609.2 L174.8 609.2" fill="none" stroke="#111" stroke-width="0.8"/>
<path d="M57.2 641.4 V643.0 M56.2 641.4 h2 M56.2 643.0 h2 M63.1 640.5 V642.5 M62.1 640.5 h2 M62.1 642.5 h2 M69.0 639.9 V641.9 M68.0 639.9 h2 M68.0 641.9 h2 M74.8 639.3 V641.3 M73.8 639.3 h2 M73.8 641.3 h2 M80.7 638.6 V640.6 M79.7 638.6 h2 M79.7 640.6 h2 M86.6 638.0 V640.0 M85.6 638.0 h2 M85.6 640.0 h2 M92.5 637.4 V639.5 M91.5 637.4 h2 M91.5 639.5 h2 M98.4 636.8 V639.0 M97.4 636.8 h2 M97.4 639.0 h2 M104.2 636.2 V638.5 M103.2 636.2 h2 M103.2 638.5 h2 M110.1 635.6 V638.0 M109.1 635.6 h2 M109.1 638.0 h2 M116.0 634.9 V637.5 M115.0 634.9 h2 M115.0 637.5 h2 M121.9 631.5 V634.6 M120.9 631.5 h2 M120.9 634.6 h2 M127.8 629.3 V632.8 M126.8 629.3 h2 M126.8 632.8 h2 M133.6 627.1 V631.1 M132.6 627.1 h2 M132.6 631.1 h2 M139.5 625.3 V629.6 M138.5 625.3 h2 M138.5 629.6 h2 M145.4 623.8 V628.4 M144.4 623.8 h2 M144.4 628.4 h2 M151.3 621.9 V626.8 M150.3 621.9 h2 M150.3 626.8 h2 M157.2 617.3 V623.0 M156.2 617.3 h2 M156.2 623.0 h2 M163.0 611.8 V618.6 M162.0 611.8 h2 M162.0 618.6 h2 M168.9 605.3 V613.2 M167.9 605.3 h2 M167.9 613.2 h2 M174.8 605.3 V613.2 M173.8 605.3 h2 M173.8 613.2 h2 " fill="none" stroke="#111" stroke-width="0.5"/>
<path d="M57.2 640.8 L58.5 643.2 L55.9 643.2Z" fill="#111"/>
<path d="M63.1 640.2 L64.4 642.6 L61.8 642.6Z" fill="#111"/>
<path d="M69.0 639.6 L70.3 642.0 L67.6 642.0Z" fill="#111"/>
<path d="M74.8 638.9 L76.2 641.3 L73.5 641.3Z" fill="#111"/>
<path d="M80.7 638.3 L82.0 640.7 L79.4 640.7Z" fill="#111"/>
<path d="M86.6 637.7 L87.9 640.1 L85.3 640.1Z" fill="#111"/>
<path d="M92.5 637.1 L93.8 639.5 L91.2 639.5Z" fill="#111"/>
<path d="M98.4 636.6 L99.7 639.0 L97.0 639.0Z" fill="#111"/>
<path d="M104.2 636.0 L105.6 638.4 L102.9 638.4Z" fill="#111"/>
<path d="M110.1 635.4 L111.4 637.8 L108.8 637.8Z" fill="#111"/>
<path d="M116.0 634.9 L117.3 637.3 L114.7 637.3Z" fill="#111"/>
<path d="M121.9 631.7 L123.2 634.1 L120.6 634.1Z" fill="#111"/>
<path d="M127.8 629.7 L129.1 632.1 L126.4 632.1Z" fill="#111"/>
<path d="M133.6 627.8 L135.0 630.2 L132.3 630.2Z" fill="#111"/>
<path d="M139.5 626.2 L140.8 628.6 L138.2 628.6Z" fill="#111"/>
<path d="M145.4 624.8 L146.7 627.2 L144.1 627.2Z" fill="#111"/>
<path d="M151.3 623.0 L152.6 625.4 L150.0 625.4Z" fill="#111"/>
<path d="M157.2 618.8 L158.5 621.2 L155.8 621.2Z" fill="#111"/>
<path d="M163.0 613.9 L164.4 616.3 L161.7 616.3Z" fill="#111"/>
<path d="M168.9 607.9 L170.2 610.3 L167.6 610.3Z" fill="#111"/>
<path d="M174.8 607.9 L176.1 610.3 L173.5 610.3Z" fill="#111"/>
<path d="M57.2 642.2 L63.1 641.2 L69.0 640.3 L74.8 639.4 L80.7 637.4 L86.6 635.4 L92.5 632.6 L98.4 629.9 L104.2 625.9 L110.1 621.9 L116.0 616.4 L121.9 609.2 L127.8 585.9 L133.6 580.7 L139.5 591.8 L145.4 587.0 L151.3 583.5 L157.2 572.0" fill="none" stroke="#111" stroke-width="0.8"/>
<path d="M57.2 641.4 V643.0 M56.2 641.4 h2 M56.2 643.0 h2 M63.1 640.2 V642.2 M62.1 640.2 h2 M62.1 642.2 h2 M69.0 639.3 V641.3 M68.0 639.3 h2 M68.0 641.3 h2 M74.8 638.4 V640.4 M73.8 638.4 h2 M73.8 640.4 h2 M80.7 636.3 V638.6 M79.7 636.3 h2 M79.7 638.6 h2 M86.6 634.1 V636.8 M85.6 634.1 h2 M85.6 636.8 h2 M92.5 631.0 V634.3 M91.5 631.0 h2 M91.5 634.3 h2 M98.4 628.0 V631.8 M97.4 628.0 h2 M97.4 631.8 h2 M104.2 623.6 V628.2 M103.2 623.6 h2 M103.2 628.2 h2 M110.1 619.2 V624.6 M109.1 619.2 h2 M109.1 624.6 h2 M116.0 613.1 V619.6 M115.0 613.1 h2 M115.0 619.6 h2 M121.9 605.3 V613.2 M120.9 605.3 h2 M120.9 613.2 h2 M127.8 579.6 V592.2 M126.8 579.6 h2 M126.8 592.2 h2 M133.6 573.9 V587.5 M132.6 573.9 h2 M132.6 587.5 h2 M139.5 586.1 V597.5 M138.5 586.1 h2 M138.5 597.5 h2 M145.4 580.9 V593.2 M144.4 580.9 h2 M144.4 593.2 h2 M151.3 576.9 V590.0 M150.3 576.9 h2 M150.3 590.0 h2 M157.2 564.3 V579.7 M156.2 564.3 h2 M156.2 579.7 h2 " fill="none" stroke="#111" stroke-width="0.5"/>
<circle cx="57.2" cy="642.2" r="1.2" fill="#111"/>
<circle cx="63.1" cy="641.2" r="1.2" fill="#111"/>
<circle cx="69.0" cy="640.3" r="1.2" fill="#111"/>
<circle cx="74.8" cy="639.4" r="1.2" fill="#111"/>
<circle cx="80.7" cy="637.4" r="1.2" fill="#111"/>
<circle cx="86.6" cy="635.4" r="1.2" fill="#111"/>
<circle cx="92.5" cy="632.6" r="1.2" fill="#111"/>
<circle cx="98.4" cy="629.9" r="1.2" fill="#111"/>
<circle cx="104.2" cy="625.9" r="1.2" fill="#111"/>
<circle cx="110.1" cy="621.9" r="1.2" fill="#111"/>
<circle cx="116.0" cy="616.4" r="1.2" fill="#111"/>
<circle cx="121.9" cy="609.2" r="1.2" fill="#111"/>
<circle cx="127.8" cy="585.9" r="1.2" fill="#111"/>
<circle cx="133.6" cy="580.7" r="1.2" fill="#111"/>
<circle cx="139.5" cy="591.8" r="1.2" fill="#111"/>
<circle cx="145.4" cy="587.0" r="1.2" fill="#111"/>
<circle cx="151.3" cy="583.5" r="1.2" fill="#111"/>
<circle cx="157.2" cy="572.0" r="1.2" fill="#111"/>
<path d="M57.2 642.2 L63.1 639.4 L69.0 635.4 L74.8 633.0 L80.7 631.1 L86.6 630.3 L92.5 629.9 L98.4 630.3 L104.2 627.5 L110.1 624.3 L116.0 620.4 L121.9 617.2 L127.8 612.6 L133.6 608.1 L139.5 605.7 L145.4 599.3 L151.3 598.1 L157.2 593.4 L163.0 592.6 L168.9 589.8 L174.8 589.0" fill="none" stroke="#111" stroke-width="0.8"/>
<path d="M57.2 641.4 V643.0 M56.2 641.4 h2 M56.2 643.0 h2 M63.1 638.4 V640.4 M62.1 638.4 h2 M62.1 640.4 h2 M69.0 634.1 V636.8 M68.0 634.1 h2 M68.0 636.8 h2 M74.8 631.5 V634.6 M73.8 631.5 h2 M73.8 634.6 h2 M80.7 629.3 V632.8 M79.7 629.3 h2 M79.7 632.8 h2 M86.6 628.4 V632.1 M85.6 628.4 h2 M85.6 632.1 h2 M92.5 628.0 V631.8 M91.5 628.0 h2 M91.5 631.8 h2 M98.4 628.4 V632.1 M97.4 628.4 h2 M97.4 632.1 h2 M104.2 625.3 V629.6 M103.2 625.3 h2 M103.2 629.6 h2 M110.1 621.9 V626.8 M109.1 621.9 h2 M109.1 626.8 h2 M116.0 617.5 V623.2 M115.0 617.5 h2 M115.0 623.2 h2 M121.9 614.0 V620.4 M120.9 614.0 h2 M120.9 620.4 h2 M127.8 609.0 V616.2 M126.8 609.0 h2 M126.8 616.2 h2 M133.6 604.0 V612.1 M132.6 604.0 h2 M132.6 612.1 h2 M139.5 601.4 V610.0 M138.5 601.4 h2 M138.5 610.0 h2 M145.4 594.4 V604.3 M144.4 594.4 h2 M144.4 604.3 h2 M151.3 593.1 V603.2 M150.3 593.1 h2 M150.3 603.2 h2 M157.2 587.8 V598.9 M156.2 587.8 h2 M156.2 598.9 h2 M163.0 587.0 V598.2 M162.0 587.0 h2 M162.0 598.2 h2 M168.9 583.9 V595.7 M167.9 583.9 h2 M167.9 595.7 h2 M174.8 583.0 V595.0 M173.8 583.0 h2 M173.8 595.0 h2 " fill="none" stroke="#111" stroke-width="0.5"/>
<rect x="56.2" y="641.1" width="2.0" height="2.0" fill="#111"/>
<rect x="62.1" y="638.4" width="2.0" height="2.0" fill="#111"/>
<rect x="67.9" y="634.4" width="2.0" height="2.0" fill="#111"/>
<rect x="73.8" y="632.0" width="2.0" height="2.0" fill="#111"/>
<rect x="79.7" y="630.0" width="2.0" height="2.0" fill="#111"/>
<rect x="85.6" y="629.2" width="2.0" height="2.0" fill="#111"/>
<rect x="91.5" y="628.8" width="2.0" height="2.0" fill="#111"/>
<rect x="97.3" y="629.2" width="2.0" height="2.0" fill="#111"/>
<rect x="103.2" y="626.5" width="2.0" height="2.0" fill="#111"/>
<rect x="109.1" y="623.3" width="2.0" height="2.0" fill="#111"/>
<rect x="115.0" y="619.3" width="2.0" height="2.0" fill="#111"/>
<rect x="120.9" y="616.2" width="2.0" height="2.0" fill="#111"/>
<rect x="126.7" y="611.6" width="2.0" height="2.0" fill="#111"/>
<rect x="132.6" y="607.0" width="2.0" height="2.0" fill="#111"/>
<rect x="138.5" y="604.7" width="2.0" height="2.0" fill="#111"/>
<rect x="144.4" y="598.3" width="2.0" height="2.0" fill="#111"/>
<rect x="150.3" y="597.1" width="2.0" height="2.0" fill="#111"/>
<rect x="156.1" y="592.4" width="2.0" height="2.0" fill="#111"/>
<rect x="162.0" y="591.6" width="2.0" height="2.0" fill="#111"/>
<rect x="167.9" y="588.8" width="2.0" height="2.0" fill="#111"/>
<rect x="173.8" y="588.0" width="2.0" height="2.0" fill="#111"/>
<rect x="57.2" y="558.3" width="123.60000000000001" height="90.60000000000002" fill="none" stroke="#111" stroke-width="0.9"/>
<path d="M57.2 648.9 h2" stroke="#111" stroke-width="0.6"/>
<text x="55.0" y="650.4" font-size="4.25" text-anchor="end" fill="#000" >0</text>
<path d="M57.2 641.0 h2" stroke="#111" stroke-width="0.6"/>
<text x="55.0" y="642.5" font-size="4.25" text-anchor="end" fill="#000" >200</text>
<path d="M57.2 633.0 h2" stroke="#111" stroke-width="0.6"/>
<text x="55.0" y="634.5" font-size="4.25" text-anchor="end" fill="#000" >400</text>
<path d="M57.2 625.1 h2" stroke="#111" stroke-width="0.6"/>
<text x="55.0" y="626.6" font-size="4.25" text-anchor="end" fill="#000" >600</text>
<path d="M57.2 617.2 h2" stroke="#111" stroke-width="0.6"/>
<text x="55.0" y="618.7" font-size="4.25" text-anchor="end" fill="#000" >800</text>
<path d="M57.2 609.2 h2" stroke="#111" stroke-width="0.6"/>
<text x="55.0" y="610.8" font-size="4.25" text-anchor="end" fill="#000" >1,000</text>
<path d="M57.2 601.3 h2" stroke="#111" stroke-width="0.6"/>
<text x="55.0" y="602.8" font-size="4.25" text-anchor="end" fill="#000" >1,200</text>
<path d="M57.2 593.4 h2" stroke="#111" stroke-width="0.6"/>
<text x="55.0" y="594.9" font-size="4.25" text-anchor="end" fill="#000" >1,400</text>
<path d="M57.2 585.5 h2" stroke="#111" stroke-width="0.6"/>
<text x="55.0" y="587.0" font-size="4.25" text-anchor="end" fill="#000" >1,600</text>
<path d="M57.2 577.5 h2" stroke="#111" stroke-width="0.6"/>
<text x="55.0" y="579.0" font-size="4.25" text-anchor="end" fill="#000" >1,800</text>
<path d="M57.2 569.6 h2" stroke="#111" stroke-width="0.6"/>
<text x="55.0" y="571.1" font-size="4.25" text-anchor="end" fill="#000" >2,000</text>
<path d="M57.2 561.7 h2" stroke="#111" stroke-width="0.6"/>
<text x="55.0" y="563.2" font-size="4.25" text-anchor="end" fill="#000" >2,200</text>
<path d="M57.2 648.9 v-2" stroke="#111" stroke-width="0.6"/>
<text x="57.2" y="654.3" font-size="3.9" text-anchor="middle" fill="#000" >0</text>
<path d="M63.1 648.9 v-1.1" stroke="#111" stroke-width="0.6"/>
<path d="M69.0 648.9 v-1.1" stroke="#111" stroke-width="0.6"/>
<path d="M74.8 648.9 v-1.1" stroke="#111" stroke-width="0.6"/>
<path d="M80.7 648.9 v-1.1" stroke="#111" stroke-width="0.6"/>
<path d="M86.6 648.9 v-2" stroke="#111" stroke-width="0.6"/>
<text x="86.6" y="654.3" font-size="3.9" text-anchor="middle" fill="#000" >10</text>
<path d="M92.5 648.9 v-1.1" stroke="#111" stroke-width="0.6"/>
<path d="M98.4 648.9 v-1.1" stroke="#111" stroke-width="0.6"/>
<path d="M104.2 648.9 v-1.1" stroke="#111" stroke-width="0.6"/>
<path d="M110.1 648.9 v-1.1" stroke="#111" stroke-width="0.6"/>
<path d="M116.0 648.9 v-2" stroke="#111" stroke-width="0.6"/>
<text x="116.0" y="654.3" font-size="3.9" text-anchor="middle" fill="#000" >20</text>
<path d="M121.9 648.9 v-1.1" stroke="#111" stroke-width="0.6"/>
<path d="M127.8 648.9 v-1.1" stroke="#111" stroke-width="0.6"/>
<path d="M133.6 648.9 v-1.1" stroke="#111" stroke-width="0.6"/>
<path d="M139.5 648.9 v-1.1" stroke="#111" stroke-width="0.6"/>
<path d="M145.4 648.9 v-2" stroke="#111" stroke-width="0.6"/>
<text x="145.4" y="654.3" font-size="3.9" text-anchor="middle" fill="#000" >30</text>
<path d="M151.3 648.9 v-1.1" stroke="#111" stroke-width="0.6"/>
<path d="M157.2 648.9 v-1.1" stroke="#111" stroke-width="0.6"/>
<path d="M163.0 648.9 v-1.1" stroke="#111" stroke-width="0.6"/>
<path d="M168.9 648.9 v-1.1" stroke="#111" stroke-width="0.6"/>
<path d="M174.8 648.9 v-2" stroke="#111" stroke-width="0.6"/>
<text x="174.8" y="654.3" font-size="3.9" text-anchor="middle" fill="#000" >40</text>
<text x="57.0" y="553.6" font-size="6.9" text-anchor="start" fill="#000" style="stroke-width:0.35px">BxPC3</text>
<text transform="translate(31.0 603.1) rotate(-90)" font-size="5.85" text-anchor="middle" fill="#111">Tumor volume (mm<tspan dy="-2" font-size="3.6">3</tspan><tspan dy="2">)</tspan></text>
<text transform="translate(39.1 604.1) rotate(-90)" font-size="5.7" text-anchor="middle" fill="#111">+/- SEM</text>
<text x="117.7" y="667.6" font-size="5.0" text-anchor="middle" fill="#000" >Day</text>
<text x="55.6" y="661.4" font-size="3.3" text-anchor="start" fill="#000" >Treatment (IP)</text>
<path d="M56.0 655.9 h3.3" stroke="#111" stroke-width="1.6"/>
<path d="M76.2 655.9 h3.3" stroke="#111" stroke-width="1.6"/>
<path d="M96.6 655.9 h3.3" stroke="#111" stroke-width="1.6"/>
<path d="M116.6 655.9 h3.3" stroke="#111" stroke-width="1.6"/>
<path d="M65.4 565.8 h7.2" stroke="#3a3a3a" stroke-width="0.9"/>
<circle cx="69.0" cy="565.8" r="1.1" fill="#3a3a3a"/>
<text x="74.2" y="567.0" font-size="3.5" text-anchor="start" fill="#000" >Vehicle</text>
<path d="M65.4 570.3 h7.2" stroke="#111" stroke-width="0.9"/>
<rect x="68.0" y="569.3" width="2.0" height="2.0" fill="#111"/>
<text x="74.2" y="571.5" font-size="3.5" text-anchor="start" fill="#000" >CT9</text>
<path d="M65.4 574.7 h7.2" stroke="#111" stroke-width="0.9"/>
<circle cx="69.0" cy="574.7" r="1.1" fill="#111"/>
<text x="74.2" y="576.0" font-size="3.5" text-anchor="start" fill="#000" >CB12</text>
<path d="M65.4 579.2 h7.2" stroke="#111" stroke-width="0.9"/>
<path d="M69.0 577.9 L70.3 580.2 L67.7 580.2Z" fill="#111"/>
<text x="74.2" y="580.4" font-size="3.5" text-anchor="start" fill="#000" >RT6</text>
<path d="M65.4 583.6 h7.2" stroke="#a8a8a8" stroke-width="0.9"/>
<path d="M69.0 584.9 L70.3 582.6 L67.7 582.6Z" fill="#a8a8a8"/>
<text x="74.2" y="584.9" font-size="3.5" text-anchor="start" fill="#000" >RB4</text>
<path d="M65.4 588.1 h7.2" stroke="#3c3c3c" stroke-width="0.9"/>
<path d="M69.0 586.7 L70.4 588.1 L69.0 589.5 L67.6 588.1Z" fill="#3c3c3c"/>
<text x="74.2" y="589.3" font-size="3.5" text-anchor="start" fill="#000" >MEHD7945A</text>
<text x="74.2" y="593.8" font-size="3.5" text-anchor="start" fill="#000" >bH1-44</text>
<path d="M65.4 597.0 h7.2" stroke="#333" stroke-width="0.9"/>
<path d="M70.5 597.0 L68.0 595.6 L68.0 598.4Z" fill="#333"/>
<text x="74.2" y="598.3" font-size="3.5" text-anchor="start" fill="#000" >MEHD7945A+bH1-44</text>
<path d="M65.4 601.5 h7.2" stroke="#bdbdbd" stroke-width="0.9"/>
<circle cx="69.0" cy="601.5" r="1.1" fill="#bdbdbd"/>
<text x="74.2" y="602.7" font-size="3.5" text-anchor="start" fill="#000" >FL518</text>
<path d="M65.4 605.9 h7.2" stroke="#7a7a7a" stroke-width="0.9"/>
<path d="M69.0 604.3 L69.4 605.4 L70.5 605.4 L69.6 606.1 L69.9 607.2 L69.0 606.6 L68.1 607.2 L68.4 606.1 L67.5 605.4 L68.6 605.4Z" fill="#7a7a7a"/>
<text x="74.2" y="607.2" font-size="3.5" text-anchor="start" fill="#000" >CRTB6</text>
<path d="M225.3 641.2 L231.2 639.1 L237.1 637.1 L242.9 635.1 L248.8 633.1 L254.7 631.1 L260.6 627.5 L266.5 623.9 L272.3 620.4 L278.2 616.8 L284.1 613.2 L290.0 607.3 L295.9 601.3 L301.7 595.4 L307.6 589.4 L313.5 583.5 L319.4 577.5 L325.3 572.6 L331.1 567.6" fill="none" stroke="#e4e4e4" stroke-width="0.8"/>
<path d="M225.3 640.4 V642.0 M224.3 640.4 h2 M224.3 642.0 h2 M231.2 638.1 V640.1 M230.2 638.1 h2 M230.2 640.1 h2 M237.1 635.9 V638.3 M236.1 635.9 h2 M236.1 638.3 h2 M242.9 633.7 V636.5 M241.9 633.7 h2 M241.9 636.5 h2 M248.8 631.5 V634.7 M247.8 631.5 h2 M247.8 634.7 h2 M254.7 629.3 V632.8 M253.7 629.3 h2 M253.7 632.8 h2 M260.6 625.3 V629.6 M259.6 625.3 h2 M259.6 629.6 h2 M266.5 621.4 V626.4 M265.5 621.4 h2 M265.5 626.4 h2 M272.3 617.5 V623.2 M271.3 617.5 h2 M271.3 623.2 h2 M278.2 613.6 V620.0 M277.2 613.6 h2 M277.2 620.0 h2 M284.1 609.6 V616.8 M283.1 609.6 h2 M283.1 616.8 h2 M290.0 603.1 V611.4 M289.0 603.1 h2 M289.0 611.4 h2 M295.9 596.6 V606.1 M294.9 596.6 h2 M294.9 606.1 h2 M301.7 590.0 V600.7 M300.7 590.0 h2 M300.7 600.7 h2 M307.6 583.5 V595.4 M306.6 583.5 h2 M306.6 595.4 h2 M313.5 576.9 V590.0 M312.5 576.9 h2 M312.5 590.0 h2 M319.4 570.4 V584.7 M318.4 570.4 h2 M318.4 584.7 h2 M325.3 564.9 V580.2 M324.3 564.9 h2 M324.3 580.2 h2 M331.1 559.5 V575.7 M330.1 559.5 h2 M330.1 575.7 h2 " fill="none" stroke="#e4e4e4" stroke-width="0.5"/>
<rect x="224.3" y="640.1" width="2.0" height="2.0" fill="#e4e4e4"/>
<rect x="230.2" y="638.1" width="2.0" height="2.0" fill="#e4e4e4"/>
<rect x="236.0" y="636.1" width="2.0" height="2.0" fill="#e4e4e4"/>
<rect x="241.9" y="634.1" width="2.0" height="2.0" fill="#e4e4e4"/>
<rect x="247.8" y="632.1" width="2.0" height="2.0" fill="#e4e4e4"/>
<rect x="253.7" y="630.0" width="2.0" height="2.0" fill="#e4e4e4"/>
<rect x="259.6" y="626.5" width="2.0" height="2.0" fill="#e4e4e4"/>
<rect x="265.4" y="622.9" width="2.0" height="2.0" fill="#e4e4e4"/>
<rect x="271.3" y="619.3" width="2.0" height="2.0" fill="#e4e4e4"/>
<rect x="277.2" y="615.8" width="2.0" height="2.0" fill="#e4e4e4"/>
<rect x="283.1" y="612.2" width="2.0" height="2.0" fill="#e4e4e4"/>
<rect x="289.0" y="606.2" width="2.0" height="2.0" fill="#e4e4e4"/>
<rect x="294.8" y="600.3" width="2.0" height="2.0" fill="#e4e4e4"/>
<rect x="300.7" y="594.4" width="2.0" height="2.0" fill="#e4e4e4"/>
<rect x="306.6" y="588.4" width="2.0" height="2.0" fill="#e4e4e4"/>
<rect x="312.5" y="582.5" width="2.0" height="2.0" fill="#e4e4e4"/>
<rect x="318.4" y="576.5" width="2.0" height="2.0" fill="#e4e4e4"/>
<rect x="324.2" y="571.6" width="2.0" height="2.0" fill="#e4e4e4"/>
<rect x="330.1" y="566.6" width="2.0" height="2.0" fill="#e4e4e4"/>
<path d="M225.3 641.2 L231.2 639.9 L237.1 638.6 L242.9 638.1 L248.8 637.5 L254.7 637.0 L260.6 637.2 L266.5 637.4 L272.3 636.4 L278.2 635.4 L284.1 635.0 L290.0 636.0 L295.9 637.0 L301.7 638.0 L307.6 639.0 L313.5 636.7 L319.4 634.4 L325.3 631.9 L331.1 629.5 L337.0 628.5 L342.9 627.5" fill="none" stroke="#bdbdbd" stroke-width="0.8"/>
<path d="M225.3 640.4 V642.0 M224.3 640.4 h2 M224.3 642.0 h2 M231.2 638.9 V640.9 M230.2 638.9 h2 M230.2 640.9 h2 M237.1 637.6 V639.6 M236.1 637.6 h2 M236.1 639.6 h2 M242.9 637.0 V639.1 M241.9 637.0 h2 M241.9 639.1 h2 M248.8 636.4 V638.7 M247.8 636.4 h2 M247.8 638.7 h2 M254.7 635.8 V638.2 M253.7 635.8 h2 M253.7 638.2 h2 M260.6 636.0 V638.4 M259.6 636.0 h2 M259.6 638.4 h2 M266.5 636.3 V638.6 M265.5 636.3 h2 M265.5 638.6 h2 M272.3 635.2 V637.7 M271.3 635.2 h2 M271.3 637.7 h2 M278.2 634.1 V636.8 M277.2 634.1 h2 M277.2 636.8 h2 M284.1 633.6 V636.4 M283.1 633.6 h2 M283.1 636.4 h2 M290.0 634.7 V637.3 M289.0 634.7 h2 M289.0 637.3 h2 M295.9 635.8 V638.2 M294.9 635.8 h2 M294.9 638.2 h2 M301.7 636.9 V639.1 M300.7 636.9 h2 M300.7 639.1 h2 M307.6 638.0 V640.0 M306.6 638.0 h2 M306.6 640.0 h2 M313.5 635.5 V637.9 M312.5 635.5 h2 M312.5 637.9 h2 M319.4 633.0 V635.9 M318.4 633.0 h2 M318.4 635.9 h2 M325.3 630.3 V633.6 M324.3 630.3 h2 M324.3 633.6 h2 M331.1 627.5 V631.4 M330.1 627.5 h2 M330.1 631.4 h2 M337.0 626.4 V630.5 M336.0 626.4 h2 M336.0 630.5 h2 M342.9 625.3 V629.6 M341.9 625.3 h2 M341.9 629.6 h2 " fill="none" stroke="#bdbdbd" stroke-width="0.5"/>
<circle cx="225.3" cy="641.2" r="1.2" fill="#bdbdbd"/>
<circle cx="231.2" cy="639.9" r="1.2" fill="#bdbdbd"/>
<circle cx="237.1" cy="638.6" r="1.2" fill="#bdbdbd"/>
<circle cx="242.9" cy="638.1" r="1.2" fill="#bdbdbd"/>
<circle cx="248.8" cy="637.5" r="1.2" fill="#bdbdbd"/>
<circle cx="254.7" cy="637.0" r="1.2" fill="#bdbdbd"/>
<circle cx="260.6" cy="637.2" r="1.2" fill="#bdbdbd"/>
<circle cx="266.5" cy="637.4" r="1.2" fill="#bdbdbd"/>
<circle cx="272.3" cy="636.4" r="1.2" fill="#bdbdbd"/>
<circle cx="278.2" cy="635.4" r="1.2" fill="#bdbdbd"/>
<circle cx="284.1" cy="635.0" r="1.2" fill="#bdbdbd"/>
<circle cx="290.0" cy="636.0" r="1.2" fill="#bdbdbd"/>
<circle cx="295.9" cy="637.0" r="1.2" fill="#bdbdbd"/>
<circle cx="301.7" cy="638.0" r="1.2" fill="#bdbdbd"/>
<circle cx="307.6" cy="639.0" r="1.2" fill="#bdbdbd"/>
<circle cx="313.5" cy="636.7" r="1.2" fill="#bdbdbd"/>
<circle cx="319.4" cy="634.4" r="1.2" fill="#bdbdbd"/>
<circle cx="325.3" cy="631.9" r="1.2" fill="#bdbdbd"/>
<circle cx="331.1" cy="629.5" r="1.2" fill="#bdbdbd"/>
<circle cx="337.0" cy="628.5" r="1.2" fill="#bdbdbd"/>
<circle cx="342.9" cy="627.5" r="1.2" fill="#bdbdbd"/>
<path d="M225.3 641.2 L231.2 639.4 L237.1 637.6 L242.9 635.8 L248.8 633.4 L254.7 631.1 L260.6 628.1 L266.5 625.1 L272.3 621.5 L278.2 618.0 L284.1 613.6 L290.0 609.2 L295.9 604.3 L301.7 599.3 L307.6 590.6 L313.5 590.6 L319.4 590.6 L325.3 578.1 L331.1 572.0" fill="none" stroke="#a8a8a8" stroke-width="0.8"/>
<path d="M225.3 640.4 V642.0 M224.3 640.4 h2 M224.3 642.0 h2 M231.2 638.4 V640.4 M230.2 638.4 h2 M230.2 640.4 h2 M237.1 636.5 V638.7 M236.1 636.5 h2 M236.1 638.7 h2 M242.9 634.5 V637.1 M241.9 634.5 h2 M241.9 637.1 h2 M248.8 631.9 V635.0 M247.8 631.9 h2 M247.8 635.0 h2 M254.7 629.3 V632.8 M253.7 629.3 h2 M253.7 632.8 h2 M260.6 626.0 V630.2 M259.6 626.0 h2 M259.6 630.2 h2 M266.5 622.7 V627.5 M265.5 622.7 h2 M265.5 627.5 h2 M272.3 618.8 V624.3 M271.3 618.8 h2 M271.3 624.3 h2 M278.2 614.9 V621.1 M277.2 614.9 h2 M277.2 621.1 h2 M284.1 610.1 V617.1 M283.1 610.1 h2 M283.1 617.1 h2 M290.0 605.3 V613.2 M289.0 605.3 h2 M289.0 613.2 h2 M295.9 599.8 V608.8 M294.9 599.8 h2 M294.9 608.8 h2 M301.7 594.4 V604.3 M300.7 594.4 h2 M300.7 604.3 h2 M307.6 584.8 V596.4 M306.6 584.8 h2 M306.6 596.4 h2 M313.5 584.8 V596.4 M312.5 584.8 h2 M312.5 596.4 h2 M319.4 584.8 V596.4 M318.4 584.8 h2 M318.4 596.4 h2 M325.3 571.0 V585.2 M324.3 571.0 h2 M324.3 585.2 h2 M331.1 564.3 V579.7 M330.1 564.3 h2 M330.1 579.7 h2 " fill="none" stroke="#a8a8a8" stroke-width="0.5"/>
<path d="M225.3 642.5 L226.6 640.1 L224.0 640.1Z" fill="#a8a8a8"/>
<path d="M231.2 640.7 L232.5 638.3 L229.9 638.3Z" fill="#a8a8a8"/>
<path d="M237.1 638.9 L238.4 636.5 L235.7 636.5Z" fill="#a8a8a8"/>
<path d="M242.9 637.1 L244.3 634.7 L241.6 634.7Z" fill="#a8a8a8"/>
<path d="M248.8 634.8 L250.1 632.4 L247.5 632.4Z" fill="#a8a8a8"/>
<path d="M254.7 632.4 L256.0 630.0 L253.4 630.0Z" fill="#a8a8a8"/>
<path d="M260.6 629.4 L261.9 627.0 L259.3 627.0Z" fill="#a8a8a8"/>
<path d="M266.5 626.4 L267.8 624.0 L265.1 624.0Z" fill="#a8a8a8"/>
<path d="M272.3 622.9 L273.7 620.5 L271.0 620.5Z" fill="#a8a8a8"/>
<path d="M278.2 619.3 L279.5 616.9 L276.9 616.9Z" fill="#a8a8a8"/>
<path d="M284.1 614.9 L285.4 612.5 L282.8 612.5Z" fill="#a8a8a8"/>
<path d="M290.0 610.6 L291.3 608.2 L288.7 608.2Z" fill="#a8a8a8"/>
<path d="M295.9 605.6 L297.2 603.2 L294.5 603.2Z" fill="#a8a8a8"/>
<path d="M301.7 600.7 L303.1 598.3 L300.4 598.3Z" fill="#a8a8a8"/>
<path d="M307.6 591.9 L308.9 589.5 L306.3 589.5Z" fill="#a8a8a8"/>
<path d="M313.5 591.9 L314.8 589.5 L312.2 589.5Z" fill="#a8a8a8"/>
<path d="M319.4 591.9 L320.7 589.5 L318.1 589.5Z" fill="#a8a8a8"/>
<path d="M325.3 579.4 L326.6 577.0 L323.9 577.0Z" fill="#a8a8a8"/>
<path d="M331.1 573.3 L332.5 570.9 L329.8 570.9Z" fill="#a8a8a8"/>
<path d="M225.3 641.2 L231.2 641.4 L237.1 641.6 L242.9 641.8 L248.8 642.6 L254.7 645.7 L260.6 645.1 L266.5 644.5 L272.3 646.9 L278.2 646.5 L284.1 646.1 L290.0 646.1 L295.9 646.1 L301.7 647.3 L307.6 648.1 L313.5 648.3 L319.4 648.6" fill="none" stroke="#7a7a7a" stroke-width="0.8"/>
<path d="M225.3 640.4 V642.0 M224.3 640.4 h2 M224.3 642.0 h2 M231.2 640.4 V642.4 M230.2 640.4 h2 M230.2 642.4 h2 M237.1 640.6 V642.6 M236.1 640.6 h2 M236.1 642.6 h2 M242.9 640.8 V642.8 M241.9 640.8 h2 M241.9 642.8 h2 M248.8 641.6 V643.6 M247.8 641.6 h2 M247.8 643.6 h2 M254.7 644.7 V646.7 M253.7 644.7 h2 M253.7 646.7 h2 M260.6 644.1 V646.1 M259.6 644.1 h2 M259.6 646.1 h2 M266.5 643.5 V645.5 M265.5 643.5 h2 M265.5 645.5 h2 M272.3 645.9 V647.9 M271.3 645.9 h2 M271.3 647.9 h2 M278.2 645.5 V647.5 M277.2 645.5 h2 M277.2 647.5 h2 M284.1 645.1 V647.1 M283.1 645.1 h2 M283.1 647.1 h2 M290.0 645.1 V647.1 M289.0 645.1 h2 M289.0 647.1 h2 M295.9 645.1 V647.1 M294.9 645.1 h2 M294.9 647.1 h2 M301.7 646.3 V648.3 M300.7 646.3 h2 M300.7 648.3 h2 M307.6 647.1 V649.1 M306.6 647.1 h2 M306.6 649.1 h2 M313.5 647.3 V649.3 M312.5 647.3 h2 M312.5 649.3 h2 M319.4 647.6 V649.6 M318.4 647.6 h2 M318.4 649.6 h2 " fill="none" stroke="#7a7a7a" stroke-width="0.5"/>
<path d="M225.3 639.5 L225.7 640.6 L226.9 640.6 L225.9 641.4 L226.3 642.5 L225.3 641.8 L224.3 642.5 L224.7 641.4 L223.7 640.6 L224.9 640.6Z" fill="#7a7a7a"/>
<path d="M231.2 639.7 L231.6 640.8 L232.8 640.8 L231.8 641.6 L232.2 642.7 L231.2 642.0 L230.2 642.7 L230.6 641.6 L229.6 640.8 L230.8 640.8Z" fill="#7a7a7a"/>
<path d="M237.1 639.9 L237.4 641.0 L238.7 641.0 L237.7 641.8 L238.0 642.9 L237.1 642.2 L236.1 642.9 L236.4 641.8 L235.5 641.0 L236.7 641.0Z" fill="#7a7a7a"/>
<path d="M242.9 640.1 L243.3 641.2 L244.5 641.2 L243.6 642.0 L243.9 643.1 L242.9 642.4 L242.0 643.1 L242.3 642.0 L241.3 641.2 L242.6 641.2Z" fill="#7a7a7a"/>
<path d="M248.8 640.9 L249.2 642.0 L250.4 642.0 L249.4 642.8 L249.8 643.9 L248.8 643.2 L247.8 643.9 L248.2 642.8 L247.2 642.0 L248.4 642.0Z" fill="#7a7a7a"/>
<path d="M254.7 644.0 L255.1 645.2 L256.3 645.2 L255.3 645.9 L255.7 647.1 L254.7 646.4 L253.7 647.1 L254.1 645.9 L253.1 645.2 L254.3 645.2Z" fill="#7a7a7a"/>
<path d="M260.6 643.5 L261.0 644.6 L262.2 644.6 L261.2 645.3 L261.6 646.5 L260.6 645.8 L259.6 646.5 L260.0 645.3 L259.0 644.6 L260.2 644.6Z" fill="#7a7a7a"/>
<path d="M266.5 642.9 L266.8 644.0 L268.1 644.0 L267.1 644.7 L267.4 645.9 L266.5 645.2 L265.5 645.9 L265.8 644.7 L264.9 644.0 L266.1 644.0Z" fill="#7a7a7a"/>
<path d="M272.3 645.2 L272.7 646.4 L273.9 646.4 L273.0 647.1 L273.3 648.3 L272.3 647.6 L271.4 648.3 L271.7 647.1 L270.7 646.4 L272.0 646.4Z" fill="#7a7a7a"/>
<path d="M278.2 644.8 L278.6 646.0 L279.8 646.0 L278.8 646.7 L279.2 647.9 L278.2 647.2 L277.2 647.9 L277.6 646.7 L276.6 646.0 L277.8 646.0Z" fill="#7a7a7a"/>
<path d="M284.1 644.4 L284.5 645.6 L285.7 645.6 L284.7 646.3 L285.1 647.5 L284.1 646.8 L283.1 647.5 L283.5 646.3 L282.5 645.6 L283.7 645.6Z" fill="#7a7a7a"/>
<path d="M290.0 644.4 L290.4 645.6 L291.6 645.6 L290.6 646.3 L291.0 647.5 L290.0 646.8 L289.0 647.5 L289.4 646.3 L288.4 645.6 L289.6 645.6Z" fill="#7a7a7a"/>
<path d="M295.9 644.4 L296.2 645.6 L297.5 645.6 L296.5 646.3 L296.8 647.5 L295.9 646.8 L294.9 647.5 L295.2 646.3 L294.3 645.6 L295.5 645.6Z" fill="#7a7a7a"/>
<path d="M301.7 645.6 L302.1 646.8 L303.3 646.8 L302.4 647.5 L302.7 648.7 L301.7 648.0 L300.8 648.7 L301.1 647.5 L300.1 646.8 L301.4 646.8Z" fill="#7a7a7a"/>
<path d="M307.6 646.4 L308.0 647.6 L309.2 647.6 L308.2 648.3 L308.6 649.5 L307.6 648.8 L306.6 649.5 L307.0 648.3 L306.0 647.6 L307.2 647.6Z" fill="#7a7a7a"/>
<path d="M313.5 646.7 L313.9 647.8 L315.1 647.8 L314.1 648.5 L314.5 649.7 L313.5 649.0 L312.5 649.7 L312.9 648.5 L311.9 647.8 L313.1 647.8Z" fill="#7a7a7a"/>
<path d="M319.4 646.9 L319.8 648.0 L321.0 648.1 L320.0 648.8 L320.4 649.9 L319.4 649.2 L318.4 649.9 L318.8 648.8 L317.8 648.1 L319.0 648.0Z" fill="#7a7a7a"/>
<path d="M225.3 641.2 L231.2 639.6 L237.1 638.1 L242.9 636.6 L248.8 634.6 L254.7 632.6 L260.6 630.5 L266.5 628.3 L272.3 625.9 L278.2 623.5 L284.1 620.7 L290.0 618.0 L295.9 615.6 L301.7 614.4 L307.6 613.2 L313.5 611.2 L319.4 609.2 L325.3 608.5 L331.1 603.3 L337.0 601.1 L342.9 600.7" fill="none" stroke="#3c3c3c" stroke-width="0.8"/>
<path d="M225.3 640.4 V642.0 M224.3 640.4 h2 M224.3 642.0 h2 M231.2 638.6 V640.6 M230.2 638.6 h2 M230.2 640.6 h2 M237.1 637.1 V639.2 M236.1 637.1 h2 M236.1 639.2 h2 M242.9 635.4 V637.8 M241.9 635.4 h2 M241.9 637.8 h2 M248.8 633.2 V636.1 M247.8 633.2 h2 M247.8 636.1 h2 M254.7 631.0 V634.3 M253.7 631.0 h2 M253.7 634.3 h2 M260.6 628.6 V632.3 M259.6 628.6 h2 M259.6 632.3 h2 M266.5 626.2 V630.3 M265.5 626.2 h2 M265.5 630.3 h2 M272.3 623.6 V628.2 M271.3 623.6 h2 M271.3 628.2 h2 M278.2 621.0 V626.1 M277.2 621.0 h2 M277.2 626.1 h2 M284.1 617.9 V623.6 M283.1 617.9 h2 M283.1 623.6 h2 M290.0 614.9 V621.1 M289.0 614.9 h2 M289.0 621.1 h2 M295.9 612.3 V618.9 M294.9 612.3 h2 M294.9 618.9 h2 M301.7 611.0 V617.9 M300.7 611.0 h2 M300.7 617.9 h2 M307.6 609.6 V616.8 M306.6 609.6 h2 M306.6 616.8 h2 M313.5 607.5 V615.0 M312.5 607.5 h2 M312.5 615.0 h2 M319.4 605.3 V613.2 M318.4 605.3 h2 M318.4 613.2 h2 M325.3 604.4 V612.5 M324.3 604.4 h2 M324.3 612.5 h2 M331.1 598.7 V607.9 M330.1 598.7 h2 M330.1 607.9 h2 M337.0 596.3 V605.9 M336.0 596.3 h2 M336.0 605.9 h2 M342.9 595.9 V605.5 M341.9 595.9 h2 M341.9 605.5 h2 " fill="none" stroke="#3c3c3c" stroke-width="0.5"/>
<path d="M225.3 639.7 L226.8 641.2 L225.3 642.7 L223.8 641.2Z" fill="#3c3c3c"/>
<path d="M231.2 638.1 L232.7 639.6 L231.2 641.1 L229.7 639.6Z" fill="#3c3c3c"/>
<path d="M237.1 636.6 L238.6 638.1 L237.1 639.6 L235.6 638.1Z" fill="#3c3c3c"/>
<path d="M242.9 635.1 L244.4 636.6 L242.9 638.1 L241.4 636.6Z" fill="#3c3c3c"/>
<path d="M248.8 633.1 L250.3 634.6 L248.8 636.1 L247.3 634.6Z" fill="#3c3c3c"/>
<path d="M254.7 631.1 L256.2 632.6 L254.7 634.1 L253.2 632.6Z" fill="#3c3c3c"/>
<path d="M260.6 629.0 L262.1 630.5 L260.6 632.0 L259.1 630.5Z" fill="#3c3c3c"/>
<path d="M266.5 626.8 L268.0 628.3 L266.5 629.8 L265.0 628.3Z" fill="#3c3c3c"/>
<path d="M272.3 624.4 L273.8 625.9 L272.3 627.4 L270.8 625.9Z" fill="#3c3c3c"/>
<path d="M278.2 622.0 L279.7 623.5 L278.2 625.0 L276.7 623.5Z" fill="#3c3c3c"/>
<path d="M284.1 619.2 L285.6 620.7 L284.1 622.2 L282.6 620.7Z" fill="#3c3c3c"/>
<path d="M290.0 616.5 L291.5 618.0 L290.0 619.5 L288.5 618.0Z" fill="#3c3c3c"/>
<path d="M295.9 614.1 L297.4 615.6 L295.9 617.1 L294.4 615.6Z" fill="#3c3c3c"/>
<path d="M301.7 612.9 L303.2 614.4 L301.7 615.9 L300.2 614.4Z" fill="#3c3c3c"/>
<path d="M307.6 611.7 L309.1 613.2 L307.6 614.7 L306.1 613.2Z" fill="#3c3c3c"/>
<path d="M313.5 609.7 L315.0 611.2 L313.5 612.7 L312.0 611.2Z" fill="#3c3c3c"/>
<path d="M319.4 607.8 L320.9 609.2 L319.4 610.8 L317.9 609.2Z" fill="#3c3c3c"/>
<path d="M325.3 607.0 L326.8 608.5 L325.3 610.0 L323.8 608.5Z" fill="#3c3c3c"/>
<path d="M331.1 601.8 L332.6 603.3 L331.1 604.8 L329.6 603.3Z" fill="#3c3c3c"/>
<path d="M337.0 599.6 L338.5 601.1 L337.0 602.6 L335.5 601.1Z" fill="#3c3c3c"/>
<path d="M342.9 599.2 L344.4 600.7 L342.9 602.2 L341.4 600.7Z" fill="#3c3c3c"/>
<path d="M225.3 641.2 L231.2 639.4 L237.1 637.6 L242.9 635.8 L248.8 632.0 L254.7 628.3 L260.6 624.7 L266.5 621.1 L272.3 610.0 L278.2 609.6 L284.1 600.5 L290.0 596.6 L295.9 590.6 L301.7 581.9 L307.6 575.5 L313.5 572.0 L319.4 569.6" fill="none" stroke="#3a3a3a" stroke-width="0.8"/>
<path d="M225.3 640.4 V642.0 M224.3 640.4 h2 M224.3 642.0 h2 M231.2 638.4 V640.4 M230.2 638.4 h2 M230.2 640.4 h2 M237.1 636.5 V638.7 M236.1 636.5 h2 M236.1 638.7 h2 M242.9 634.5 V637.1 M241.9 634.5 h2 M241.9 637.1 h2 M248.8 630.4 V633.7 M247.8 630.4 h2 M247.8 633.7 h2 M254.7 626.2 V630.3 M253.7 626.2 h2 M253.7 630.3 h2 M260.6 622.3 V627.1 M259.6 622.3 h2 M259.6 627.1 h2 M266.5 618.4 V623.9 M265.5 618.4 h2 M265.5 623.9 h2 M272.3 606.2 V613.9 M271.3 606.2 h2 M271.3 613.9 h2 M278.2 605.7 V613.6 M277.2 605.7 h2 M277.2 613.6 h2 M284.1 595.7 V605.4 M283.1 595.7 h2 M283.1 605.4 h2 M290.0 591.3 V601.8 M289.0 591.3 h2 M289.0 601.8 h2 M295.9 584.8 V596.4 M294.9 584.8 h2 M294.9 596.4 h2 M301.7 575.2 V588.6 M300.7 575.2 h2 M300.7 588.6 h2 M307.6 568.2 V582.9 M306.6 568.2 h2 M306.6 582.9 h2 M313.5 564.3 V579.7 M312.5 564.3 h2 M312.5 579.7 h2 M319.4 561.7 V577.5 M318.4 561.7 h2 M318.4 577.5 h2 " fill="none" stroke="#3a3a3a" stroke-width="0.5"/>
<circle cx="225.3" cy="641.2" r="1.2" fill="#3a3a3a"/>
<circle cx="231.2" cy="639.4" r="1.2" fill="#3a3a3a"/>
<circle cx="237.1" cy="637.6" r="1.2" fill="#3a3a3a"/>
<circle cx="242.9" cy="635.8" r="1.2" fill="#3a3a3a"/>
<circle cx="248.8" cy="632.0" r="1.2" fill="#3a3a3a"/>
<circle cx="254.7" cy="628.3" r="1.2" fill="#3a3a3a"/>
<circle cx="260.6" cy="624.7" r="1.2" fill="#3a3a3a"/>
<circle cx="266.5" cy="621.1" r="1.2" fill="#3a3a3a"/>
<circle cx="272.3" cy="610.0" r="1.2" fill="#3a3a3a"/>
<circle cx="278.2" cy="609.6" r="1.2" fill="#3a3a3a"/>
<circle cx="284.1" cy="600.5" r="1.2" fill="#3a3a3a"/>
<circle cx="290.0" cy="596.6" r="1.2" fill="#3a3a3a"/>
<circle cx="295.9" cy="590.6" r="1.2" fill="#3a3a3a"/>
<circle cx="301.7" cy="581.9" r="1.2" fill="#3a3a3a"/>
<circle cx="307.6" cy="575.5" r="1.2" fill="#3a3a3a"/>
<circle cx="313.5" cy="572.0" r="1.2" fill="#3a3a3a"/>
<circle cx="319.4" cy="569.6" r="1.2" fill="#3a3a3a"/>
<path d="M225.3 641.2 L231.2 639.3 L237.1 637.3 L242.9 635.4 L248.8 632.2 L254.7 629.1 L260.6 624.7 L266.5 620.4 L272.3 615.8 L278.2 611.2 L284.1 605.3 L290.0 599.3 L295.9 595.4 L301.7 585.5 L307.6 579.5 L313.5 573.6" fill="none" stroke="#333" stroke-width="0.8"/>
<path d="M225.3 640.4 V642.0 M224.3 640.4 h2 M224.3 642.0 h2 M231.2 638.3 V640.3 M230.2 638.3 h2 M230.2 640.3 h2 M237.1 636.2 V638.5 M236.1 636.2 h2 M236.1 638.5 h2 M242.9 634.1 V636.8 M241.9 634.1 h2 M241.9 636.8 h2 M248.8 630.6 V633.9 M247.8 630.6 h2 M247.8 633.9 h2 M254.7 627.1 V631.1 M253.7 627.1 h2 M253.7 631.1 h2 M260.6 622.3 V627.1 M259.6 622.3 h2 M259.6 627.1 h2 M266.5 617.5 V623.2 M265.5 617.5 h2 M265.5 623.2 h2 M272.3 612.5 V619.1 M271.3 612.5 h2 M271.3 619.1 h2 M278.2 607.5 V615.0 M277.2 607.5 h2 M277.2 615.0 h2 M284.1 600.9 V609.6 M283.1 600.9 h2 M283.1 609.6 h2 M290.0 594.4 V604.3 M289.0 594.4 h2 M289.0 604.3 h2 M295.9 590.0 V600.7 M294.9 590.0 h2 M294.9 600.7 h2 M301.7 579.1 V591.8 M300.7 579.1 h2 M300.7 591.8 h2 M307.6 572.6 V586.5 M306.6 572.6 h2 M306.6 586.5 h2 M313.5 566.0 V581.1 M312.5 566.0 h2 M312.5 581.1 h2 " fill="none" stroke="#333" stroke-width="0.5"/>
<path d="M226.9 641.2 L224.2 639.7 L224.2 642.6Z" fill="#333"/>
<path d="M232.7 639.3 L230.1 637.8 L230.1 640.7Z" fill="#333"/>
<path d="M238.6 637.3 L236.0 635.9 L236.0 638.8Z" fill="#333"/>
<path d="M244.5 635.4 L241.9 634.0 L241.9 636.9Z" fill="#333"/>
<path d="M250.4 632.2 L247.7 630.8 L247.7 633.7Z" fill="#333"/>
<path d="M256.3 629.1 L253.6 627.6 L253.6 630.5Z" fill="#333"/>
<path d="M262.1 624.7 L259.5 623.3 L259.5 626.2Z" fill="#333"/>
<path d="M268.0 620.4 L265.4 618.9 L265.4 621.8Z" fill="#333"/>
<path d="M273.9 615.8 L271.3 614.4 L271.3 617.2Z" fill="#333"/>
<path d="M279.8 611.2 L277.1 609.8 L277.1 612.7Z" fill="#333"/>
<path d="M285.7 605.3 L283.0 603.8 L283.0 606.7Z" fill="#333"/>
<path d="M291.5 599.3 L288.9 597.9 L288.9 600.8Z" fill="#333"/>
<path d="M297.4 595.4 L294.8 593.9 L294.8 596.8Z" fill="#333"/>
<path d="M303.3 585.5 L300.7 584.0 L300.7 586.9Z" fill="#333"/>
<path d="M309.2 579.5 L306.5 578.1 L306.5 581.0Z" fill="#333"/>
<path d="M315.1 573.6 L312.4 572.1 L312.4 575.0Z" fill="#333"/>
<path d="M225.3 641.2 L231.2 639.8 L237.1 638.4 L242.9 637.0 L248.8 635.0 L254.7 633.0 L260.6 631.1 L266.5 629.1 L272.3 627.1 L278.2 625.1 L284.1 623.1 L290.0 621.1 L295.9 620.4 L301.7 619.8 L307.6 619.4 L313.5 619.1 L319.4 618.8 L325.3 606.9 L331.1 590.6 L337.0 586.8 L342.9 586.8" fill="none" stroke="#111" stroke-width="0.8"/>
<path d="M225.3 640.4 V642.0 M224.3 640.4 h2 M224.3 642.0 h2 M231.2 638.8 V640.8 M230.2 638.8 h2 M230.2 640.8 h2 M237.1 637.3 V639.4 M236.1 637.3 h2 M236.1 639.4 h2 M242.9 635.8 V638.2 M241.9 635.8 h2 M241.9 638.2 h2 M248.8 633.6 V636.4 M247.8 633.6 h2 M247.8 636.4 h2 M254.7 631.5 V634.6 M253.7 631.5 h2 M253.7 634.6 h2 M260.6 629.3 V632.8 M259.6 629.3 h2 M259.6 632.8 h2 M266.5 627.1 V631.1 M265.5 627.1 h2 M265.5 631.1 h2 M272.3 624.9 V629.3 M271.3 624.9 h2 M271.3 629.3 h2 M278.2 622.7 V627.5 M277.2 622.7 h2 M277.2 627.5 h2 M284.1 620.6 V625.7 M283.1 620.6 h2 M283.1 625.7 h2 M290.0 618.4 V623.9 M289.0 618.4 h2 M289.0 623.9 h2 M295.9 617.5 V623.2 M294.9 617.5 h2 M294.9 623.2 h2 M301.7 616.8 V622.7 M300.7 616.8 h2 M300.7 622.7 h2 M307.6 616.4 V622.3 M306.6 616.4 h2 M306.6 622.3 h2 M313.5 616.1 V622.0 M312.5 616.1 h2 M312.5 622.0 h2 M319.4 615.8 V621.8 M318.4 615.8 h2 M318.4 621.8 h2 M325.3 602.7 V611.1 M324.3 602.7 h2 M324.3 611.1 h2 M331.1 584.8 V596.4 M330.1 584.8 h2 M330.1 596.4 h2 M337.0 580.6 V593.1 M336.0 580.6 h2 M336.0 593.1 h2 M342.9 580.6 V593.1 M341.9 580.6 h2 M341.9 593.1 h2 " fill="none" stroke="#111" stroke-width="0.5"/>
<path d="M225.3 639.8 L226.6 642.2 L224.0 642.2Z" fill="#111"/>
<path d="M231.2 638.5 L232.5 640.9 L229.9 640.9Z" fill="#111"/>
<path d="M237.1 637.1 L238.4 639.5 L235.7 639.5Z" fill="#111"/>
<path d="M242.9 635.7 L244.3 638.1 L241.6 638.1Z" fill="#111"/>
<path d="M248.8 633.7 L250.1 636.1 L247.5 636.1Z" fill="#111"/>
<path d="M254.7 631.7 L256.0 634.1 L253.4 634.1Z" fill="#111"/>
<path d="M260.6 629.7 L261.9 632.1 L259.3 632.1Z" fill="#111"/>
<path d="M266.5 627.8 L267.8 630.2 L265.1 630.2Z" fill="#111"/>
<path d="M272.3 625.8 L273.7 628.2 L271.0 628.2Z" fill="#111"/>
<path d="M278.2 623.8 L279.5 626.2 L276.9 626.2Z" fill="#111"/>
<path d="M284.1 621.8 L285.4 624.2 L282.8 624.2Z" fill="#111"/>
<path d="M290.0 619.8 L291.3 622.2 L288.7 622.2Z" fill="#111"/>
<path d="M295.9 619.0 L297.2 621.4 L294.5 621.4Z" fill="#111"/>
<path d="M301.7 618.4 L303.1 620.8 L300.4 620.8Z" fill="#111"/>
<path d="M307.6 618.0 L308.9 620.4 L306.3 620.4Z" fill="#111"/>
<path d="M313.5 617.7 L314.8 620.1 L312.2 620.1Z" fill="#111"/>
<path d="M319.4 617.4 L320.7 619.8 L318.1 619.8Z" fill="#111"/>
<path d="M325.3 605.6 L326.6 608.0 L323.9 608.0Z" fill="#111"/>
<path d="M331.1 589.3 L332.5 591.7 L329.8 591.7Z" fill="#111"/>
<path d="M337.0 585.5 L338.3 587.9 L335.7 587.9Z" fill="#111"/>
<path d="M342.9 585.5 L344.2 587.9 L341.6 587.9Z" fill="#111"/>
<path d="M225.3 641.2 L231.2 639.1 L237.1 637.1 L242.9 635.0 L248.8 632.4 L254.7 629.9 L260.6 625.9 L266.5 621.9 L272.3 617.6 L278.2 613.2 L284.1 603.3 L290.0 598.1 L295.9 593.4 L301.7 583.5 L307.6 581.5 L313.5 571.6" fill="none" stroke="#111" stroke-width="0.8"/>
<path d="M225.3 640.4 V642.0 M224.3 640.4 h2 M224.3 642.0 h2 M231.2 638.1 V640.1 M230.2 638.1 h2 M230.2 640.1 h2 M237.1 635.9 V638.3 M236.1 635.9 h2 M236.1 638.3 h2 M242.9 633.6 V636.4 M241.9 633.6 h2 M241.9 636.4 h2 M248.8 630.8 V634.1 M247.8 630.8 h2 M247.8 634.1 h2 M254.7 628.0 V631.8 M253.7 628.0 h2 M253.7 631.8 h2 M260.6 623.6 V628.2 M259.6 623.6 h2 M259.6 628.2 h2 M266.5 619.2 V624.6 M265.5 619.2 h2 M265.5 624.6 h2 M272.3 614.4 V620.7 M271.3 614.4 h2 M271.3 620.7 h2 M278.2 609.6 V616.8 M277.2 609.6 h2 M277.2 616.8 h2 M284.1 598.7 V607.9 M283.1 598.7 h2 M283.1 607.9 h2 M290.0 593.1 V603.2 M289.0 593.1 h2 M289.0 603.2 h2 M295.9 587.8 V598.9 M294.9 587.8 h2 M294.9 598.9 h2 M301.7 576.9 V590.0 M300.7 576.9 h2 M300.7 590.0 h2 M307.6 574.8 V588.2 M306.6 574.8 h2 M306.6 588.2 h2 M313.5 563.9 V579.3 M312.5 563.9 h2 M312.5 579.3 h2 " fill="none" stroke="#111" stroke-width="0.5"/>
<circle cx="225.3" cy="641.2" r="1.2" fill="#111"/>
<circle cx="231.2" cy="639.1" r="1.2" fill="#111"/>
<circle cx="237.1" cy="637.1" r="1.2" fill="#111"/>
<circle cx="242.9" cy="635.0" r="1.2" fill="#111"/>
<circle cx="248.8" cy="632.4" r="1.2" fill="#111"/>
<circle cx="254.7" cy="629.9" r="1.2" fill="#111"/>
<circle cx="260.6" cy="625.9" r="1.2" fill="#111"/>
<circle cx="266.5" cy="621.9" r="1.2" fill="#111"/>
<circle cx="272.3" cy="617.6" r="1.2" fill="#111"/>
<circle cx="278.2" cy="613.2" r="1.2" fill="#111"/>
<circle cx="284.1" cy="603.3" r="1.2" fill="#111"/>
<circle cx="290.0" cy="598.1" r="1.2" fill="#111"/>
<circle cx="295.9" cy="593.4" r="1.2" fill="#111"/>
<circle cx="301.7" cy="583.5" r="1.2" fill="#111"/>
<circle cx="307.6" cy="581.5" r="1.2" fill="#111"/>
<circle cx="313.5" cy="571.6" r="1.2" fill="#111"/>
<path d="M225.3 641.2 L231.2 639.1 L237.1 637.0 L242.9 634.6 L248.8 632.2 L254.7 630.3 L260.6 628.3 L266.5 625.9 L272.3 623.5 L278.2 620.4 L284.1 617.2 L290.0 611.2 L295.9 606.9 L301.7 606.3 L307.6 605.3 L313.5 603.1 L319.4 600.1 L325.3 599.3 L331.1 589.4 L337.0 585.5 L342.9 585.1" fill="none" stroke="#111" stroke-width="0.8"/>
<path d="M225.3 640.4 V642.0 M224.3 640.4 h2 M224.3 642.0 h2 M231.2 638.1 V640.1 M230.2 638.1 h2 M230.2 640.1 h2 M237.1 635.8 V638.2 M236.1 635.8 h2 M236.1 638.2 h2 M242.9 633.2 V636.1 M241.9 633.2 h2 M241.9 636.1 h2 M248.8 630.6 V633.9 M247.8 630.6 h2 M247.8 633.9 h2 M254.7 628.4 V632.1 M253.7 628.4 h2 M253.7 632.1 h2 M260.6 626.2 V630.3 M259.6 626.2 h2 M259.6 630.3 h2 M266.5 623.6 V628.2 M265.5 623.6 h2 M265.5 628.2 h2 M272.3 621.0 V626.1 M271.3 621.0 h2 M271.3 626.1 h2 M278.2 617.5 V623.2 M277.2 617.5 h2 M277.2 623.2 h2 M284.1 614.0 V620.4 M283.1 614.0 h2 M283.1 620.4 h2 M290.0 607.5 V615.0 M289.0 607.5 h2 M289.0 615.0 h2 M295.9 602.7 V611.1 M294.9 602.7 h2 M294.9 611.1 h2 M301.7 602.0 V610.5 M300.7 602.0 h2 M300.7 610.5 h2 M307.6 600.9 V609.6 M306.6 600.9 h2 M306.6 609.6 h2 M313.5 598.5 V607.7 M312.5 598.5 h2 M312.5 607.7 h2 M319.4 595.3 V605.0 M318.4 595.3 h2 M318.4 605.0 h2 M325.3 594.4 V604.3 M324.3 594.4 h2 M324.3 604.3 h2 M331.1 583.5 V595.4 M330.1 583.5 h2 M330.1 595.4 h2 M337.0 579.1 V591.8 M336.0 579.1 h2 M336.0 591.8 h2 M342.9 578.7 V591.4 M341.9 578.7 h2 M341.9 591.4 h2 " fill="none" stroke="#111" stroke-width="0.5"/>
<rect x="224.3" y="640.1" width="2.0" height="2.0" fill="#111"/>
<rect x="230.2" y="638.1" width="2.0" height="2.0" fill="#111"/>
<rect x="236.0" y="636.0" width="2.0" height="2.0" fill="#111"/>
<rect x="241.9" y="633.6" width="2.0" height="2.0" fill="#111"/>
<rect x="247.8" y="631.2" width="2.0" height="2.0" fill="#111"/>
<rect x="253.7" y="629.2" width="2.0" height="2.0" fill="#111"/>
<rect x="259.6" y="627.3" width="2.0" height="2.0" fill="#111"/>
<rect x="265.4" y="624.9" width="2.0" height="2.0" fill="#111"/>
<rect x="271.3" y="622.5" width="2.0" height="2.0" fill="#111"/>
<rect x="277.2" y="619.3" width="2.0" height="2.0" fill="#111"/>
<rect x="283.1" y="616.2" width="2.0" height="2.0" fill="#111"/>
<rect x="289.0" y="610.2" width="2.0" height="2.0" fill="#111"/>
<rect x="294.8" y="605.9" width="2.0" height="2.0" fill="#111"/>
<rect x="300.7" y="605.3" width="2.0" height="2.0" fill="#111"/>
<rect x="306.6" y="604.3" width="2.0" height="2.0" fill="#111"/>
<rect x="312.5" y="602.1" width="2.0" height="2.0" fill="#111"/>
<rect x="318.4" y="599.1" width="2.0" height="2.0" fill="#111"/>
<rect x="324.2" y="598.3" width="2.0" height="2.0" fill="#111"/>
<rect x="330.1" y="588.4" width="2.0" height="2.0" fill="#111"/>
<rect x="336.0" y="584.4" width="2.0" height="2.0" fill="#111"/>
<rect x="341.9" y="584.0" width="2.0" height="2.0" fill="#111"/>
<rect x="225.3" y="558.3" width="123.5" height="90.60000000000002" fill="none" stroke="#111" stroke-width="0.9"/>
<path d="M225.3 648.9 h2" stroke="#111" stroke-width="0.6"/>
<text x="223.10000000000002" y="650.4" font-size="4.25" text-anchor="end" fill="#000" >0</text>
<path d="M225.3 641.0 h2" stroke="#111" stroke-width="0.6"/>
<text x="223.10000000000002" y="642.5" font-size="4.25" text-anchor="end" fill="#000" >200</text>
<path d="M225.3 633.0 h2" stroke="#111" stroke-width="0.6"/>
<text x="223.10000000000002" y="634.5" font-size="4.25" text-anchor="end" fill="#000" >400</text>
<path d="M225.3 625.1 h2" stroke="#111" stroke-width="0.6"/>
<text x="223.10000000000002" y="626.6" font-size="4.25" text-anchor="end" fill="#000" >600</text>
<path d="M225.3 617.2 h2" stroke="#111" stroke-width="0.6"/>
<text x="223.10000000000002" y="618.7" font-size="4.25" text-anchor="end" fill="#000" >800</text>
<path d="M225.3 609.2 h2" stroke="#111" stroke-width="0.6"/>
<text x="223.10000000000002" y="610.8" font-size="4.25" text-anchor="end" fill="#000" >1,000</text>
<path d="M225.3 601.3 h2" stroke="#111" stroke-width="0.6"/>
<text x="223.10000000000002" y="602.8" font-size="4.25" text-anchor="end" fill="#000" >1,200</text>
<path d="M225.3 593.4 h2" stroke="#111" stroke-width="0.6"/>
<text x="223.10000000000002" y="594.9" font-size="4.25" text-anchor="end" fill="#000" >1,400</text>
<path d="M225.3 585.5 h2" stroke="#111" stroke-width="0.6"/>
<text x="223.10000000000002" y="587.0" font-size="4.25" text-anchor="end" fill="#000" >1,600</text>
<path d="M225.3 577.5 h2" stroke="#111" stroke-width="0.6"/>
<text x="223.10000000000002" y="579.0" font-size="4.25" text-anchor="end" fill="#000" >1,800</text>
<path d="M225.3 569.6 h2" stroke="#111" stroke-width="0.6"/>
<text x="223.10000000000002" y="571.1" font-size="4.25" text-anchor="end" fill="#000" >2,000</text>
<path d="M225.3 561.7 h2" stroke="#111" stroke-width="0.6"/>
<text x="223.10000000000002" y="563.2" font-size="4.25" text-anchor="end" fill="#000" >2,200</text>
<path d="M225.3 648.9 v-2" stroke="#111" stroke-width="0.6"/>
<text x="225.3" y="654.3" font-size="3.9" text-anchor="middle" fill="#000" >0</text>
<path d="M231.2 648.9 v-1.1" stroke="#111" stroke-width="0.6"/>
<path d="M237.1 648.9 v-1.1" stroke="#111" stroke-width="0.6"/>
<path d="M242.9 648.9 v-1.1" stroke="#111" stroke-width="0.6"/>
<path d="M248.8 648.9 v-1.1" stroke="#111" stroke-width="0.6"/>
<path d="M254.7 648.9 v-2" stroke="#111" stroke-width="0.6"/>
<text x="254.7" y="654.3" font-size="3.9" text-anchor="middle" fill="#000" >10</text>
<path d="M260.6 648.9 v-1.1" stroke="#111" stroke-width="0.6"/>
<path d="M266.5 648.9 v-1.1" stroke="#111" stroke-width="0.6"/>
<path d="M272.3 648.9 v-1.1" stroke="#111" stroke-width="0.6"/>
<path d="M278.2 648.9 v-1.1" stroke="#111" stroke-width="0.6"/>
<path d="M284.1 648.9 v-2" stroke="#111" stroke-width="0.6"/>
<text x="284.1" y="654.3" font-size="3.9" text-anchor="middle" fill="#000" >20</text>
<path d="M290.0 648.9 v-1.1" stroke="#111" stroke-width="0.6"/>
<path d="M295.9 648.9 v-1.1" stroke="#111" stroke-width="0.6"/>
<path d="M301.7 648.9 v-1.1" stroke="#111" stroke-width="0.6"/>
<path d="M307.6 648.9 v-1.1" stroke="#111" stroke-width="0.6"/>
<path d="M313.5 648.9 v-2" stroke="#111" stroke-width="0.6"/>
<text x="313.5" y="654.3" font-size="3.9" text-anchor="middle" fill="#000" >30</text>
<path d="M319.4 648.9 v-1.1" stroke="#111" stroke-width="0.6"/>
<path d="M325.3 648.9 v-1.1" stroke="#111" stroke-width="0.6"/>
<path d="M331.1 648.9 v-1.1" stroke="#111" stroke-width="0.6"/>
<path d="M337.0 648.9 v-1.1" stroke="#111" stroke-width="0.6"/>
<path d="M342.9 648.9 v-2" stroke="#111" stroke-width="0.6"/>
<text x="342.9" y="654.3" font-size="3.9" text-anchor="middle" fill="#000" >40</text>
<text x="225.10000000000002" y="553.6" font-size="6.85" text-anchor="start" fill="#000" style="stroke-width:0.35px">MDA-MB-231</text>
<text transform="translate(198.8 603.1) rotate(-90)" font-size="5.85" text-anchor="middle" fill="#111">Tumor volume (mm<tspan dy="-2" font-size="3.6">3</tspan><tspan dy="2">)</tspan></text>
<text transform="translate(206.9 604.1) rotate(-90)" font-size="5.7" text-anchor="middle" fill="#111">+/- SEM</text>
<text x="284.9" y="667.6" font-size="5.0" text-anchor="middle" fill="#000" >Day</text>
<text x="223.70000000000002" y="661.4" font-size="3.3" text-anchor="start" fill="#000" >Treatment (IP)</text>
<path d="M224.1 655.9 h3.3" stroke="#111" stroke-width="1.6"/>
<path d="M244.3 655.9 h3.3" stroke="#111" stroke-width="1.6"/>
<path d="M264.7 655.9 h3.3" stroke="#111" stroke-width="1.6"/>
<path d="M284.7 655.9 h3.3" stroke="#111" stroke-width="1.6"/>
<path d="M233.50000000000003 565.8 h7.2" stroke="#3a3a3a" stroke-width="0.9"/>
<circle cx="237.1" cy="565.8" r="1.1" fill="#3a3a3a"/>
<text x="242.3" y="567.0" font-size="3.5" text-anchor="start" fill="#000" >Vehicle</text>
<path d="M233.50000000000003 570.3 h7.2" stroke="#111" stroke-width="0.9"/>
<rect x="236.1" y="569.3" width="2.0" height="2.0" fill="#111"/>
<text x="242.3" y="571.5" font-size="3.5" text-anchor="start" fill="#000" >CT9</text>
<path d="M233.50000000000003 574.7 h7.2" stroke="#111" stroke-width="0.9"/>
<circle cx="237.1" cy="574.7" r="1.1" fill="#111"/>
<text x="242.3" y="576.0" font-size="3.5" text-anchor="start" fill="#000" >CB12</text>
<path d="M233.50000000000003 579.2 h7.2" stroke="#111" stroke-width="0.9"/>
<path d="M237.1 577.9 L238.4 580.2 L235.8 580.2Z" fill="#111"/>
<text x="242.3" y="580.4" font-size="3.5" text-anchor="start" fill="#000" >RT6</text>
<path d="M233.50000000000003 583.6 h7.2" stroke="#a8a8a8" stroke-width="0.9"/>
<path d="M237.1 584.9 L238.4 582.6 L235.8 582.6Z" fill="#a8a8a8"/>
<text x="242.3" y="584.9" font-size="3.5" text-anchor="start" fill="#000" >RB4</text>
<path d="M233.50000000000003 588.1 h7.2" stroke="#3c3c3c" stroke-width="0.9"/>
<path d="M237.1 586.7 L238.5 588.1 L237.1 589.5 L235.7 588.1Z" fill="#3c3c3c"/>
<text x="242.3" y="589.3" font-size="3.5" text-anchor="start" fill="#000" >MEHD7945A</text>
<text x="242.3" y="593.8" font-size="3.5" text-anchor="start" fill="#000" >bH1-44</text>
<path d="M233.50000000000003 597.0 h7.2" stroke="#333" stroke-width="0.9"/>
<path d="M238.6 597.0 L236.1 595.6 L236.1 598.4Z" fill="#333"/>
<text x="242.3" y="598.3" font-size="3.5" text-anchor="start" fill="#000" >MEHD7945A+bH1-44</text>
<path d="M233.50000000000003 601.5 h7.2" stroke="#bdbdbd" stroke-width="0.9"/>
<circle cx="237.1" cy="601.5" r="1.1" fill="#bdbdbd"/>
<text x="242.3" y="602.7" font-size="3.5" text-anchor="start" fill="#000" >FL518</text>
<path d="M233.50000000000003 605.9 h7.2" stroke="#7a7a7a" stroke-width="0.9"/>
<path d="M237.1 604.3 L237.5 605.4 L238.6 605.4 L237.7 606.1 L238.0 607.2 L237.1 606.6 L236.2 607.2 L236.5 606.1 L235.6 605.4 L236.7 605.4Z" fill="#7a7a7a"/>
<text x="242.3" y="607.2" font-size="3.5" text-anchor="start" fill="#000" >CRTB6</text>
<path d="M388.5 640.5 L394.4 639.2 L400.3 638.0 L406.2 636.8 L412.1 635.6 L418.0 634.3 L423.9 631.6 L429.8 628.9 L435.7 626.1 L441.6 623.4 L447.5 614.3 L453.4 607.9 L459.3 605.2 L465.2 603.8 L471.1 602.4 L477.0 601.1 L482.9 597.7 L488.8 594.2 L494.7 588.5 L500.6 582.9 L506.5 576.0" fill="none" stroke="#e4e4e4" stroke-width="0.8"/>
<path d="M388.5 639.7 V641.3 M387.5 639.7 h2 M387.5 641.3 h2 M394.4 638.2 V640.2 M393.4 638.2 h2 M393.4 640.2 h2 M400.3 636.9 V639.1 M399.3 636.9 h2 M399.3 639.1 h2 M406.2 635.6 V638.0 M405.2 635.6 h2 M405.2 638.0 h2 M412.1 634.2 V636.9 M411.1 634.2 h2 M411.1 636.9 h2 M418.0 632.9 V635.8 M417.0 632.9 h2 M417.0 635.8 h2 M423.9 629.9 V633.3 M422.9 629.9 h2 M422.9 633.3 h2 M429.8 626.9 V630.9 M428.8 626.9 h2 M428.8 630.9 h2 M435.7 623.8 V628.4 M434.7 623.8 h2 M434.7 628.4 h2 M441.6 620.8 V625.9 M440.6 620.8 h2 M440.6 625.9 h2 M447.5 610.8 V617.7 M446.5 610.8 h2 M446.5 617.7 h2 M453.4 603.8 V612.0 M452.4 603.8 h2 M452.4 612.0 h2 M459.3 600.8 V609.5 M458.3 600.8 h2 M458.3 609.5 h2 M465.2 599.3 V608.3 M464.2 599.3 h2 M464.2 608.3 h2 M471.1 597.8 V607.1 M470.1 597.8 h2 M470.1 607.1 h2 M477.0 596.3 V605.9 M476.0 596.3 h2 M476.0 605.9 h2 M482.9 592.5 V602.8 M481.9 592.5 h2 M481.9 602.8 h2 M488.8 588.8 V599.7 M487.8 588.8 h2 M487.8 599.7 h2 M494.7 582.5 V594.6 M493.7 582.5 h2 M493.7 594.6 h2 M500.6 576.2 V589.5 M499.6 576.2 h2 M499.6 589.5 h2 M506.5 568.7 V583.3 M505.5 568.7 h2 M505.5 583.3 h2 " fill="none" stroke="#e4e4e4" stroke-width="0.5"/>
<rect x="387.5" y="639.5" width="2.0" height="2.0" fill="#e4e4e4"/>
<rect x="393.4" y="638.2" width="2.0" height="2.0" fill="#e4e4e4"/>
<rect x="399.3" y="637.0" width="2.0" height="2.0" fill="#e4e4e4"/>
<rect x="405.2" y="635.8" width="2.0" height="2.0" fill="#e4e4e4"/>
<rect x="411.1" y="634.5" width="2.0" height="2.0" fill="#e4e4e4"/>
<rect x="417.0" y="633.3" width="2.0" height="2.0" fill="#e4e4e4"/>
<rect x="422.9" y="630.6" width="2.0" height="2.0" fill="#e4e4e4"/>
<rect x="428.8" y="627.8" width="2.0" height="2.0" fill="#e4e4e4"/>
<rect x="434.7" y="625.1" width="2.0" height="2.0" fill="#e4e4e4"/>
<rect x="440.6" y="622.4" width="2.0" height="2.0" fill="#e4e4e4"/>
<rect x="446.5" y="613.3" width="2.0" height="2.0" fill="#e4e4e4"/>
<rect x="452.4" y="606.9" width="2.0" height="2.0" fill="#e4e4e4"/>
<rect x="458.3" y="604.2" width="2.0" height="2.0" fill="#e4e4e4"/>
<rect x="464.2" y="602.8" width="2.0" height="2.0" fill="#e4e4e4"/>
<rect x="470.1" y="601.4" width="2.0" height="2.0" fill="#e4e4e4"/>
<rect x="476.0" y="600.1" width="2.0" height="2.0" fill="#e4e4e4"/>
<rect x="481.9" y="596.6" width="2.0" height="2.0" fill="#e4e4e4"/>
<rect x="487.8" y="593.2" width="2.0" height="2.0" fill="#e4e4e4"/>
<rect x="493.7" y="587.5" width="2.0" height="2.0" fill="#e4e4e4"/>
<rect x="499.6" y="581.8" width="2.0" height="2.0" fill="#e4e4e4"/>
<rect x="505.5" y="575.0" width="2.0" height="2.0" fill="#e4e4e4"/>
<path d="M388.5 640.5 L394.4 639.0 L400.3 637.5 L406.2 636.9 L412.1 636.3 L418.0 635.7 L423.9 635.6 L429.8 635.5 L435.7 635.4 L441.6 635.3 L447.5 635.2 L453.4 635.2 L459.3 635.2 L465.2 635.2 L471.1 635.2 L477.0 635.2 L482.9 635.2 L488.8 635.2 L494.7 635.2 L500.6 635.2 L506.5 626.1" fill="none" stroke="#bdbdbd" stroke-width="0.8"/>
<path d="M388.5 639.7 V641.3 M387.5 639.7 h2 M387.5 641.3 h2 M394.4 638.0 V640.0 M393.4 638.0 h2 M393.4 640.0 h2 M400.3 636.4 V638.7 M399.3 636.4 h2 M399.3 638.7 h2 M406.2 635.7 V638.1 M405.2 635.7 h2 M405.2 638.1 h2 M412.1 635.0 V637.6 M411.1 635.0 h2 M411.1 637.6 h2 M418.0 634.4 V637.0 M417.0 634.4 h2 M417.0 637.0 h2 M423.9 634.3 V636.9 M422.9 634.3 h2 M422.9 636.9 h2 M429.8 634.2 V636.8 M428.8 634.2 h2 M428.8 636.8 h2 M435.7 634.1 V636.8 M434.7 634.1 h2 M434.7 636.8 h2 M441.6 634.0 V636.7 M440.6 634.0 h2 M440.6 636.7 h2 M447.5 633.9 V636.6 M446.5 633.9 h2 M446.5 636.6 h2 M453.4 633.9 V636.6 M452.4 633.9 h2 M452.4 636.6 h2 M459.3 633.9 V636.6 M458.3 633.9 h2 M458.3 636.6 h2 M465.2 633.9 V636.6 M464.2 633.9 h2 M464.2 636.6 h2 M471.1 633.9 V636.6 M470.1 633.9 h2 M470.1 636.6 h2 M477.0 633.9 V636.6 M476.0 633.9 h2 M476.0 636.6 h2 M482.9 633.9 V636.6 M481.9 633.9 h2 M481.9 636.6 h2 M488.8 633.9 V636.6 M487.8 633.9 h2 M487.8 636.6 h2 M494.7 633.9 V636.6 M493.7 633.9 h2 M493.7 636.6 h2 M500.6 633.9 V636.6 M499.6 633.9 h2 M499.6 636.6 h2 M506.5 623.8 V628.4 M505.5 623.8 h2 M505.5 628.4 h2 " fill="none" stroke="#bdbdbd" stroke-width="0.5"/>
<circle cx="388.5" cy="640.5" r="1.2" fill="#bdbdbd"/>
<circle cx="394.4" cy="639.0" r="1.2" fill="#bdbdbd"/>
<circle cx="400.3" cy="637.5" r="1.2" fill="#bdbdbd"/>
<circle cx="406.2" cy="636.9" r="1.2" fill="#bdbdbd"/>
<circle cx="412.1" cy="636.3" r="1.2" fill="#bdbdbd"/>
<circle cx="418.0" cy="635.7" r="1.2" fill="#bdbdbd"/>
<circle cx="423.9" cy="635.6" r="1.2" fill="#bdbdbd"/>
<circle cx="429.8" cy="635.5" r="1.2" fill="#bdbdbd"/>
<circle cx="435.7" cy="635.4" r="1.2" fill="#bdbdbd"/>
<circle cx="441.6" cy="635.3" r="1.2" fill="#bdbdbd"/>
<circle cx="447.5" cy="635.2" r="1.2" fill="#bdbdbd"/>
<circle cx="453.4" cy="635.2" r="1.2" fill="#bdbdbd"/>
<circle cx="459.3" cy="635.2" r="1.2" fill="#bdbdbd"/>
<circle cx="465.2" cy="635.2" r="1.2" fill="#bdbdbd"/>
<circle cx="471.1" cy="635.2" r="1.2" fill="#bdbdbd"/>
<circle cx="477.0" cy="635.2" r="1.2" fill="#bdbdbd"/>
<circle cx="482.9" cy="635.2" r="1.2" fill="#bdbdbd"/>
<circle cx="488.8" cy="635.2" r="1.2" fill="#bdbdbd"/>
<circle cx="494.7" cy="635.2" r="1.2" fill="#bdbdbd"/>
<circle cx="500.6" cy="635.2" r="1.2" fill="#bdbdbd"/>
<circle cx="506.5" cy="626.1" r="1.2" fill="#bdbdbd"/>
<path d="M388.5 640.5 L394.4 639.8 L400.3 639.1 L406.2 638.4 L412.1 636.8 L418.0 635.2 L423.9 633.0 L429.8 630.7 L435.7 627.9 L441.6 625.2 L447.5 617.0 L453.4 608.8 L459.3 606.5 L465.2 605.6 L471.1 605.2 L477.0 603.4 L482.9 599.9 L488.8 596.5 L494.7 592.0 L500.6 585.1 L506.5 580.6" fill="none" stroke="#a8a8a8" stroke-width="0.8"/>
<path d="M388.5 639.7 V641.3 M387.5 639.7 h2 M387.5 641.3 h2 M394.4 638.8 V640.8 M393.4 638.8 h2 M393.4 640.8 h2 M400.3 638.1 V640.1 M399.3 638.1 h2 M399.3 640.1 h2 M406.2 637.4 V639.5 M405.2 637.4 h2 M405.2 639.5 h2 M412.1 635.6 V638.0 M411.1 635.6 h2 M411.1 638.0 h2 M418.0 633.9 V636.6 M417.0 633.9 h2 M417.0 636.6 h2 M423.9 631.4 V634.6 M422.9 631.4 h2 M422.9 634.6 h2 M429.8 628.9 V632.5 M428.8 628.9 h2 M428.8 632.5 h2 M435.7 625.9 V630.0 M434.7 625.9 h2 M434.7 630.0 h2 M441.6 622.8 V627.6 M440.6 622.8 h2 M440.6 627.6 h2 M447.5 613.8 V620.2 M446.5 613.8 h2 M446.5 620.2 h2 M453.4 604.8 V612.8 M452.4 604.8 h2 M452.4 612.8 h2 M459.3 602.3 V610.8 M458.3 602.3 h2 M458.3 610.8 h2 M465.2 601.3 V610.0 M464.2 601.3 h2 M464.2 610.0 h2 M471.1 600.8 V609.5 M470.1 600.8 h2 M470.1 609.5 h2 M477.0 598.8 V607.9 M476.0 598.8 h2 M476.0 607.9 h2 M482.9 595.0 V604.8 M481.9 595.0 h2 M481.9 604.8 h2 M488.8 591.3 V601.8 M487.8 591.3 h2 M487.8 601.8 h2 M494.7 586.3 V597.7 M493.7 586.3 h2 M493.7 597.7 h2 M500.6 578.8 V591.5 M499.6 578.8 h2 M499.6 591.5 h2 M506.5 573.7 V587.4 M505.5 573.7 h2 M505.5 587.4 h2 " fill="none" stroke="#a8a8a8" stroke-width="0.5"/>
<path d="M388.5 641.8 L389.8 639.4 L387.2 639.4Z" fill="#a8a8a8"/>
<path d="M394.4 641.1 L395.7 638.7 L393.1 638.7Z" fill="#a8a8a8"/>
<path d="M400.3 640.4 L401.6 638.0 L399.0 638.0Z" fill="#a8a8a8"/>
<path d="M406.2 639.7 L407.5 637.3 L404.9 637.3Z" fill="#a8a8a8"/>
<path d="M412.1 638.1 L413.4 635.7 L410.8 635.7Z" fill="#a8a8a8"/>
<path d="M418.0 636.6 L419.3 634.2 L416.7 634.2Z" fill="#a8a8a8"/>
<path d="M423.9 634.3 L425.2 631.9 L422.6 631.9Z" fill="#a8a8a8"/>
<path d="M429.8 632.0 L431.1 629.6 L428.5 629.6Z" fill="#a8a8a8"/>
<path d="M435.7 629.3 L437.0 626.9 L434.4 626.9Z" fill="#a8a8a8"/>
<path d="M441.6 626.5 L442.9 624.1 L440.3 624.1Z" fill="#a8a8a8"/>
<path d="M447.5 618.3 L448.8 615.9 L446.2 615.9Z" fill="#a8a8a8"/>
<path d="M453.4 610.1 L454.7 607.7 L452.1 607.7Z" fill="#a8a8a8"/>
<path d="M459.3 607.9 L460.6 605.5 L458.0 605.5Z" fill="#a8a8a8"/>
<path d="M465.2 606.9 L466.5 604.5 L463.9 604.5Z" fill="#a8a8a8"/>
<path d="M471.1 606.5 L472.4 604.1 L469.8 604.1Z" fill="#a8a8a8"/>
<path d="M477.0 604.7 L478.3 602.3 L475.7 602.3Z" fill="#a8a8a8"/>
<path d="M482.9 601.3 L484.2 598.9 L481.6 598.9Z" fill="#a8a8a8"/>
<path d="M488.8 597.8 L490.1 595.4 L487.5 595.4Z" fill="#a8a8a8"/>
<path d="M494.7 593.3 L496.0 590.9 L493.4 590.9Z" fill="#a8a8a8"/>
<path d="M500.6 586.5 L501.9 584.0 L499.3 584.0Z" fill="#a8a8a8"/>
<path d="M506.5 581.9 L507.8 579.5 L505.2 579.5Z" fill="#a8a8a8"/>
<path d="M388.5 640.5 L394.4 640.7 L400.3 640.9 L406.2 641.2 L412.1 641.8 L418.0 643.0 L423.9 645.7 L429.8 646.9 L435.7 647.5 L441.6 648.2 L447.5 648.4 L453.4 648.7" fill="none" stroke="#7a7a7a" stroke-width="0.8"/>
<path d="M388.5 639.7 V641.3 M387.5 639.7 h2 M387.5 641.3 h2 M394.4 639.7 V641.7 M393.4 639.7 h2 M393.4 641.7 h2 M400.3 639.9 V641.9 M399.3 639.9 h2 M399.3 641.9 h2 M406.2 640.2 V642.2 M405.2 640.2 h2 M405.2 642.2 h2 M412.1 640.8 V642.8 M411.1 640.8 h2 M411.1 642.8 h2 M418.0 642.0 V644.0 M417.0 642.0 h2 M417.0 644.0 h2 M423.9 644.7 V646.7 M422.9 644.7 h2 M422.9 646.7 h2 M429.8 645.9 V647.9 M428.8 645.9 h2 M428.8 647.9 h2 M435.7 646.5 V648.5 M434.7 646.5 h2 M434.7 648.5 h2 M441.6 647.2 V649.2 M440.6 647.2 h2 M440.6 649.2 h2 M447.5 647.4 V649.4 M446.5 647.4 h2 M446.5 649.4 h2 M453.4 647.7 V649.7 M452.4 647.7 h2 M452.4 649.7 h2 " fill="none" stroke="#7a7a7a" stroke-width="0.5"/>
<path d="M388.5 638.8 L388.9 639.9 L390.1 640.0 L389.1 640.7 L389.5 641.8 L388.5 641.1 L387.5 641.8 L387.9 640.7 L386.9 640.0 L388.1 639.9Z" fill="#7a7a7a"/>
<path d="M394.4 639.0 L394.8 640.2 L396.0 640.2 L395.0 640.9 L395.4 642.1 L394.4 641.4 L393.4 642.1 L393.8 640.9 L392.8 640.2 L394.0 640.2Z" fill="#7a7a7a"/>
<path d="M400.3 639.2 L400.7 640.4 L401.9 640.4 L400.9 641.1 L401.3 642.3 L400.3 641.6 L399.3 642.3 L399.7 641.1 L398.7 640.4 L399.9 640.4Z" fill="#7a7a7a"/>
<path d="M406.2 639.5 L406.6 640.6 L407.8 640.6 L406.8 641.4 L407.2 642.5 L406.2 641.8 L405.2 642.5 L405.6 641.4 L404.6 640.6 L405.8 640.6Z" fill="#7a7a7a"/>
<path d="M412.1 640.2 L412.5 641.3 L413.7 641.3 L412.7 642.0 L413.1 643.2 L412.1 642.5 L411.1 643.2 L411.5 642.0 L410.5 641.3 L411.7 641.3Z" fill="#7a7a7a"/>
<path d="M418.0 641.3 L418.4 642.4 L419.6 642.5 L418.6 643.2 L419.0 644.3 L418.0 643.6 L417.0 644.3 L417.4 643.2 L416.4 642.5 L417.6 642.4Z" fill="#7a7a7a"/>
<path d="M423.9 644.0 L424.3 645.2 L425.5 645.2 L424.5 645.9 L424.9 647.1 L423.9 646.4 L422.9 647.1 L423.3 645.9 L422.3 645.2 L423.5 645.2Z" fill="#7a7a7a"/>
<path d="M429.8 645.2 L430.2 646.3 L431.4 646.3 L430.4 647.1 L430.8 648.2 L429.8 647.5 L428.8 648.2 L429.2 647.1 L428.2 646.3 L429.4 646.3Z" fill="#7a7a7a"/>
<path d="M435.7 645.9 L436.1 647.0 L437.3 647.0 L436.3 647.7 L436.7 648.9 L435.7 648.2 L434.7 648.9 L435.1 647.7 L434.1 647.0 L435.3 647.0Z" fill="#7a7a7a"/>
<path d="M441.6 646.5 L442.0 647.7 L443.2 647.7 L442.2 648.4 L442.6 649.6 L441.6 648.9 L440.6 649.6 L441.0 648.4 L440.0 647.7 L441.2 647.7Z" fill="#7a7a7a"/>
<path d="M447.5 646.8 L447.9 647.9 L449.1 647.9 L448.1 648.6 L448.5 649.8 L447.5 649.1 L446.5 649.8 L446.9 648.6 L445.9 647.9 L447.1 647.9Z" fill="#7a7a7a"/>
<path d="M453.4 647.0 L453.8 648.1 L455.0 648.2 L454.0 648.9 L454.4 650.0 L453.4 649.3 L452.4 650.0 L452.8 648.9 L451.8 648.2 L453.0 648.1Z" fill="#7a7a7a"/>
<path d="M388.5 640.5 L394.4 640.2 L400.3 640.0 L406.2 639.8 L412.1 639.1 L418.0 638.4 L423.9 637.5 L429.8 636.6 L435.7 635.9 L441.6 635.2 L447.5 634.9 L453.4 634.5 L459.3 634.1 L465.2 633.5 L471.1 633.0 L477.0 631.6 L482.9 623.8 L488.8 621.6 L494.7 611.1 L500.6 608.8 L506.5 599.7" fill="none" stroke="#3c3c3c" stroke-width="0.8"/>
<path d="M388.5 639.7 V641.3 M387.5 639.7 h2 M387.5 641.3 h2 M394.4 639.2 V641.2 M393.4 639.2 h2 M393.4 641.2 h2 M400.3 639.0 V641.0 M399.3 639.0 h2 M399.3 641.0 h2 M406.2 638.8 V640.8 M405.2 638.8 h2 M405.2 640.8 h2 M412.1 638.1 V640.1 M411.1 638.1 h2 M411.1 640.1 h2 M418.0 637.4 V639.5 M417.0 637.4 h2 M417.0 639.5 h2 M423.9 636.4 V638.7 M422.9 636.4 h2 M422.9 638.7 h2 M429.8 635.4 V637.8 M428.8 635.4 h2 M428.8 637.8 h2 M435.7 634.6 V637.2 M434.7 634.6 h2 M434.7 637.2 h2 M441.6 633.9 V636.6 M440.6 633.9 h2 M440.6 636.6 h2 M447.5 633.5 V636.3 M446.5 633.5 h2 M446.5 636.3 h2 M453.4 633.0 V635.9 M452.4 633.0 h2 M452.4 635.9 h2 M459.3 632.6 V635.6 M458.3 632.6 h2 M458.3 635.6 h2 M465.2 632.0 V635.1 M464.2 632.0 h2 M464.2 635.1 h2 M471.1 631.4 V634.6 M470.1 631.4 h2 M470.1 634.6 h2 M477.0 629.9 V633.3 M476.0 629.9 h2 M476.0 633.3 h2 M482.9 621.3 V626.4 M481.9 621.3 h2 M481.9 626.4 h2 M488.8 618.8 V624.3 M487.8 618.8 h2 M487.8 624.3 h2 M494.7 607.3 V614.9 M493.7 607.3 h2 M493.7 614.9 h2 M500.6 604.8 V612.8 M499.6 604.8 h2 M499.6 612.8 h2 M506.5 594.8 V604.6 M505.5 594.8 h2 M505.5 604.6 h2 " fill="none" stroke="#3c3c3c" stroke-width="0.5"/>
<path d="M388.5 639.0 L390.0 640.5 L388.5 642.0 L387.0 640.5Z" fill="#3c3c3c"/>
<path d="M394.4 638.7 L395.9 640.2 L394.4 641.7 L392.9 640.2Z" fill="#3c3c3c"/>
<path d="M400.3 638.5 L401.8 640.0 L400.3 641.5 L398.8 640.0Z" fill="#3c3c3c"/>
<path d="M406.2 638.3 L407.7 639.8 L406.2 641.3 L404.7 639.8Z" fill="#3c3c3c"/>
<path d="M412.1 637.6 L413.6 639.1 L412.1 640.6 L410.6 639.1Z" fill="#3c3c3c"/>
<path d="M418.0 636.9 L419.5 638.4 L418.0 639.9 L416.5 638.4Z" fill="#3c3c3c"/>
<path d="M423.9 636.0 L425.4 637.5 L423.9 639.0 L422.4 637.5Z" fill="#3c3c3c"/>
<path d="M429.8 635.1 L431.3 636.6 L429.8 638.1 L428.3 636.6Z" fill="#3c3c3c"/>
<path d="M435.7 634.4 L437.2 635.9 L435.7 637.4 L434.2 635.9Z" fill="#3c3c3c"/>
<path d="M441.6 633.7 L443.1 635.2 L441.6 636.7 L440.1 635.2Z" fill="#3c3c3c"/>
<path d="M447.5 633.4 L449.0 634.9 L447.5 636.4 L446.0 634.9Z" fill="#3c3c3c"/>
<path d="M453.4 633.0 L454.9 634.5 L453.4 636.0 L451.9 634.5Z" fill="#3c3c3c"/>
<path d="M459.3 632.6 L460.8 634.1 L459.3 635.6 L457.8 634.1Z" fill="#3c3c3c"/>
<path d="M465.2 632.0 L466.7 633.5 L465.2 635.0 L463.7 633.5Z" fill="#3c3c3c"/>
<path d="M471.1 631.5 L472.6 633.0 L471.1 634.5 L469.6 633.0Z" fill="#3c3c3c"/>
<path d="M477.0 630.1 L478.5 631.6 L477.0 633.1 L475.5 631.6Z" fill="#3c3c3c"/>
<path d="M482.9 622.3 L484.4 623.8 L482.9 625.3 L481.4 623.8Z" fill="#3c3c3c"/>
<path d="M488.8 620.1 L490.3 621.6 L488.8 623.1 L487.3 621.6Z" fill="#3c3c3c"/>
<path d="M494.7 609.6 L496.2 611.1 L494.7 612.6 L493.2 611.1Z" fill="#3c3c3c"/>
<path d="M500.6 607.3 L502.1 608.8 L500.6 610.3 L499.1 608.8Z" fill="#3c3c3c"/>
<path d="M506.5 598.2 L508.0 599.7 L506.5 601.2 L505.0 599.7Z" fill="#3c3c3c"/>
<path d="M388.5 640.5 L394.4 639.6 L400.3 638.8 L406.2 638.0 L412.1 635.7 L418.0 633.4 L423.9 630.6 L429.8 627.7 L435.7 627.0 L441.6 620.2 L447.5 610.0 L453.4 606.1 L459.3 603.1 L465.2 597.2 L471.1 589.7 L477.0 587.0 L482.9 583.3 L488.8 573.1" fill="none" stroke="#3a3a3a" stroke-width="0.8"/>
<path d="M388.5 639.7 V641.3 M387.5 639.7 h2 M387.5 641.3 h2 M394.4 638.6 V640.6 M393.4 638.6 h2 M393.4 640.6 h2 M400.3 637.8 V639.8 M399.3 637.8 h2 M399.3 639.8 h2 M406.2 636.9 V639.1 M405.2 636.9 h2 M405.2 639.1 h2 M412.1 634.4 V637.0 M411.1 634.4 h2 M411.1 637.0 h2 M418.0 631.9 V635.0 M417.0 631.9 h2 M417.0 635.0 h2 M423.9 628.7 V632.4 M422.9 628.7 h2 M422.9 632.4 h2 M429.8 625.6 V629.8 M428.8 625.6 h2 M428.8 629.8 h2 M435.7 624.8 V629.2 M434.7 624.8 h2 M434.7 629.2 h2 M441.6 617.3 V623.1 M440.6 617.3 h2 M440.6 623.1 h2 M447.5 606.1 V613.8 M446.5 606.1 h2 M446.5 613.8 h2 M453.4 601.8 V610.4 M452.4 601.8 h2 M452.4 610.4 h2 M459.3 598.5 V607.7 M458.3 598.5 h2 M458.3 607.7 h2 M465.2 592.0 V602.4 M464.2 592.0 h2 M464.2 602.4 h2 M471.1 583.8 V595.6 M470.1 583.8 h2 M470.1 595.6 h2 M477.0 580.8 V593.1 M476.0 580.8 h2 M476.0 593.1 h2 M482.9 576.7 V589.9 M481.9 576.7 h2 M481.9 589.9 h2 M488.8 565.5 V580.6 M487.8 565.5 h2 M487.8 580.6 h2 " fill="none" stroke="#3a3a3a" stroke-width="0.5"/>
<circle cx="388.5" cy="640.5" r="1.2" fill="#3a3a3a"/>
<circle cx="394.4" cy="639.6" r="1.2" fill="#3a3a3a"/>
<circle cx="400.3" cy="638.8" r="1.2" fill="#3a3a3a"/>
<circle cx="406.2" cy="638.0" r="1.2" fill="#3a3a3a"/>
<circle cx="412.1" cy="635.7" r="1.2" fill="#3a3a3a"/>
<circle cx="418.0" cy="633.4" r="1.2" fill="#3a3a3a"/>
<circle cx="423.9" cy="630.6" r="1.2" fill="#3a3a3a"/>
<circle cx="429.8" cy="627.7" r="1.2" fill="#3a3a3a"/>
<circle cx="435.7" cy="627.0" r="1.2" fill="#3a3a3a"/>
<circle cx="441.6" cy="620.2" r="1.2" fill="#3a3a3a"/>
<circle cx="447.5" cy="610.0" r="1.2" fill="#3a3a3a"/>
<circle cx="453.4" cy="606.1" r="1.2" fill="#3a3a3a"/>
<circle cx="459.3" cy="603.1" r="1.2" fill="#3a3a3a"/>
<circle cx="465.2" cy="597.2" r="1.2" fill="#3a3a3a"/>
<circle cx="471.1" cy="589.7" r="1.2" fill="#3a3a3a"/>
<circle cx="477.0" cy="587.0" r="1.2" fill="#3a3a3a"/>
<circle cx="482.9" cy="583.3" r="1.2" fill="#3a3a3a"/>
<circle cx="488.8" cy="573.1" r="1.2" fill="#3a3a3a"/>
<path d="M388.5 640.5 L394.4 640.1 L400.3 639.7 L406.2 639.3 L412.1 637.7 L418.0 636.1 L423.9 634.3 L429.8 632.5 L435.7 631.1 L441.6 629.8 L447.5 627.5 L453.4 625.2 L459.3 621.6 L465.2 617.5 L471.1 614.3 L477.0 607.9 L482.9 605.2 L488.8 603.4 L494.7 600.6 L500.6 596.5 L506.5 594.2" fill="none" stroke="#333" stroke-width="0.8"/>
<path d="M388.5 639.7 V641.3 M387.5 639.7 h2 M387.5 641.3 h2 M394.4 639.1 V641.1 M393.4 639.1 h2 M393.4 641.1 h2 M400.3 638.7 V640.7 M399.3 638.7 h2 M399.3 640.7 h2 M406.2 638.3 V640.3 M405.2 638.3 h2 M405.2 640.3 h2 M412.1 636.6 V638.9 M411.1 636.6 h2 M411.1 638.9 h2 M418.0 634.9 V637.4 M417.0 634.9 h2 M417.0 637.4 h2 M423.9 632.9 V635.8 M422.9 632.9 h2 M422.9 635.8 h2 M429.8 630.9 V634.1 M428.8 630.9 h2 M428.8 634.1 h2 M435.7 629.4 V632.9 M434.7 629.4 h2 M434.7 632.9 h2 M441.6 627.9 V631.7 M440.6 627.9 h2 M440.6 631.7 h2 M447.5 625.4 V629.6 M446.5 625.4 h2 M446.5 629.6 h2 M453.4 622.8 V627.6 M452.4 622.8 h2 M452.4 627.6 h2 M459.3 618.8 V624.3 M458.3 618.8 h2 M458.3 624.3 h2 M465.2 614.3 V620.6 M464.2 614.3 h2 M464.2 620.6 h2 M471.1 610.8 V617.7 M470.1 610.8 h2 M470.1 617.7 h2 M477.0 603.8 V612.0 M476.0 603.8 h2 M476.0 612.0 h2 M482.9 600.8 V609.5 M481.9 600.8 h2 M481.9 609.5 h2 M488.8 598.8 V607.9 M487.8 598.8 h2 M487.8 607.9 h2 M494.7 595.8 V605.4 M493.7 595.8 h2 M493.7 605.4 h2 M500.6 591.3 V601.8 M499.6 591.3 h2 M499.6 601.8 h2 M506.5 588.8 V599.7 M505.5 588.8 h2 M505.5 599.7 h2 " fill="none" stroke="#333" stroke-width="0.5"/>
<path d="M390.1 640.5 L387.4 639.0 L387.4 641.9Z" fill="#333"/>
<path d="M396.0 640.1 L393.3 638.7 L393.3 641.5Z" fill="#333"/>
<path d="M401.9 639.7 L399.2 638.3 L399.2 641.2Z" fill="#333"/>
<path d="M407.8 639.3 L405.1 637.9 L405.1 640.8Z" fill="#333"/>
<path d="M413.7 637.7 L411.0 636.3 L411.0 639.2Z" fill="#333"/>
<path d="M419.6 636.1 L416.9 634.7 L416.9 637.6Z" fill="#333"/>
<path d="M425.5 634.3 L422.8 632.9 L422.8 635.8Z" fill="#333"/>
<path d="M431.4 632.5 L428.7 631.1 L428.7 633.9Z" fill="#333"/>
<path d="M437.3 631.1 L434.6 629.7 L434.6 632.6Z" fill="#333"/>
<path d="M443.2 629.8 L440.5 628.3 L440.5 631.2Z" fill="#333"/>
<path d="M449.1 627.5 L446.4 626.1 L446.4 628.9Z" fill="#333"/>
<path d="M455.0 625.2 L452.3 623.8 L452.3 626.7Z" fill="#333"/>
<path d="M460.9 621.6 L458.2 620.1 L458.2 623.0Z" fill="#333"/>
<path d="M466.8 617.5 L464.1 616.0 L464.1 618.9Z" fill="#333"/>
<path d="M472.7 614.3 L470.0 612.8 L470.0 615.7Z" fill="#333"/>
<path d="M478.6 607.9 L475.9 606.5 L475.9 609.3Z" fill="#333"/>
<path d="M484.5 605.2 L481.8 603.7 L481.8 606.6Z" fill="#333"/>
<path d="M490.4 603.4 L487.7 601.9 L487.7 604.8Z" fill="#333"/>
<path d="M496.3 600.6 L493.6 599.2 L493.6 602.1Z" fill="#333"/>
<path d="M502.2 596.5 L499.5 595.1 L499.5 598.0Z" fill="#333"/>
<path d="M508.1 594.2 L505.4 592.8 L505.4 595.7Z" fill="#333"/>
<path d="M388.5 640.5 L394.4 640.1 L400.3 639.7 L406.2 639.3 L412.1 638.0 L418.0 636.6 L423.9 635.0 L429.8 633.4 L435.7 632.0 L441.6 630.7 L447.5 627.7 L453.4 626.6 L459.3 622.7 L465.2 616.3 L471.1 615.0 L477.0 606.1 L482.9 603.6 L488.8 598.6 L494.7 594.7 L500.6 592.6 L506.5 592.2" fill="none" stroke="#111" stroke-width="0.8"/>
<path d="M388.5 639.7 V641.3 M387.5 639.7 h2 M387.5 641.3 h2 M394.4 639.1 V641.1 M393.4 639.1 h2 M393.4 641.1 h2 M400.3 638.7 V640.7 M399.3 638.7 h2 M399.3 640.7 h2 M406.2 638.3 V640.3 M405.2 638.3 h2 M405.2 640.3 h2 M412.1 636.9 V639.1 M411.1 636.9 h2 M411.1 639.1 h2 M418.0 635.4 V637.8 M417.0 635.4 h2 M417.0 637.8 h2 M423.9 633.6 V636.4 M422.9 633.6 h2 M422.9 636.4 h2 M429.8 631.9 V635.0 M428.8 631.9 h2 M428.8 635.0 h2 M435.7 630.4 V633.7 M434.7 630.4 h2 M434.7 633.7 h2 M441.6 628.9 V632.5 M440.6 628.9 h2 M440.6 632.5 h2 M447.5 625.6 V629.8 M446.5 625.6 h2 M446.5 629.8 h2 M453.4 624.3 V628.8 M452.4 624.3 h2 M452.4 628.8 h2 M459.3 620.1 V625.3 M458.3 620.1 h2 M458.3 625.3 h2 M465.2 613.1 V619.6 M464.2 613.1 h2 M464.2 619.6 h2 M471.1 611.6 V618.4 M470.1 611.6 h2 M470.1 618.4 h2 M477.0 601.8 V610.4 M476.0 601.8 h2 M476.0 610.4 h2 M482.9 599.0 V608.1 M481.9 599.0 h2 M481.9 608.1 h2 M488.8 593.5 V603.6 M487.8 593.5 h2 M487.8 603.6 h2 M494.7 589.3 V600.1 M493.7 589.3 h2 M493.7 600.1 h2 M500.6 587.0 V598.3 M499.6 587.0 h2 M499.6 598.3 h2 M506.5 586.5 V597.9 M505.5 586.5 h2 M505.5 597.9 h2 " fill="none" stroke="#111" stroke-width="0.5"/>
<path d="M388.5 639.2 L389.8 641.6 L387.2 641.6Z" fill="#111"/>
<path d="M394.4 638.8 L395.7 641.2 L393.1 641.2Z" fill="#111"/>
<path d="M400.3 638.4 L401.6 640.8 L399.0 640.8Z" fill="#111"/>
<path d="M406.2 638.0 L407.5 640.4 L404.9 640.4Z" fill="#111"/>
<path d="M412.1 636.6 L413.4 639.0 L410.8 639.0Z" fill="#111"/>
<path d="M418.0 635.3 L419.3 637.7 L416.7 637.7Z" fill="#111"/>
<path d="M423.9 633.7 L425.2 636.1 L422.6 636.1Z" fill="#111"/>
<path d="M429.8 632.1 L431.1 634.5 L428.5 634.5Z" fill="#111"/>
<path d="M435.7 630.7 L437.0 633.1 L434.4 633.1Z" fill="#111"/>
<path d="M441.6 629.4 L442.9 631.8 L440.3 631.8Z" fill="#111"/>
<path d="M447.5 626.4 L448.8 628.8 L446.2 628.8Z" fill="#111"/>
<path d="M453.4 625.3 L454.7 627.7 L452.1 627.7Z" fill="#111"/>
<path d="M459.3 621.4 L460.6 623.8 L458.0 623.8Z" fill="#111"/>
<path d="M465.2 615.0 L466.5 617.4 L463.9 617.4Z" fill="#111"/>
<path d="M471.1 613.6 L472.4 616.0 L469.8 616.0Z" fill="#111"/>
<path d="M477.0 604.8 L478.3 607.2 L475.7 607.2Z" fill="#111"/>
<path d="M482.9 602.3 L484.2 604.7 L481.6 604.7Z" fill="#111"/>
<path d="M488.8 597.2 L490.1 599.6 L487.5 599.6Z" fill="#111"/>
<path d="M494.7 593.4 L496.0 595.8 L493.4 595.8Z" fill="#111"/>
<path d="M500.6 591.3 L501.9 593.7 L499.3 593.7Z" fill="#111"/>
<path d="M506.5 590.9 L507.8 593.3 L505.2 593.3Z" fill="#111"/>
<path d="M388.5 640.5 L394.4 639.9 L400.3 639.4 L406.2 638.9 L412.1 637.3 L418.0 635.7 L423.9 633.9 L429.8 632.0 L435.7 630.7 L441.6 629.3 L447.5 626.8 L453.4 624.3 L459.3 621.6 L465.2 616.1 L471.1 612.5 L477.0 605.6 L482.9 601.1 L488.8 594.2 L494.7 590.6 L500.6 587.0 L506.5 578.1" fill="none" stroke="#111" stroke-width="0.8"/>
<path d="M388.5 639.7 V641.3 M387.5 639.7 h2 M387.5 641.3 h2 M394.4 638.9 V640.9 M393.4 638.9 h2 M393.4 640.9 h2 M400.3 638.4 V640.4 M399.3 638.4 h2 M399.3 640.4 h2 M406.2 637.9 V639.9 M405.2 637.9 h2 M405.2 639.9 h2 M412.1 636.1 V638.4 M411.1 636.1 h2 M411.1 638.4 h2 M418.0 634.4 V637.0 M417.0 634.4 h2 M417.0 637.0 h2 M423.9 632.4 V635.4 M422.9 632.4 h2 M422.9 635.4 h2 M429.8 630.4 V633.7 M428.8 630.4 h2 M428.8 633.7 h2 M435.7 628.9 V632.5 M434.7 628.9 h2 M434.7 632.5 h2 M441.6 627.4 V631.3 M440.6 627.4 h2 M440.6 631.3 h2 M447.5 624.6 V629.0 M446.5 624.6 h2 M446.5 629.0 h2 M453.4 621.8 V626.8 M452.4 621.8 h2 M452.4 626.8 h2 M459.3 618.8 V624.3 M458.3 618.8 h2 M458.3 624.3 h2 M465.2 612.8 V619.4 M464.2 612.8 h2 M464.2 619.4 h2 M471.1 608.8 V616.1 M470.1 608.8 h2 M470.1 616.1 h2 M477.0 601.3 V610.0 M476.0 601.3 h2 M476.0 610.0 h2 M482.9 596.3 V605.9 M481.9 596.3 h2 M481.9 605.9 h2 M488.8 588.8 V599.7 M487.8 588.8 h2 M487.8 599.7 h2 M494.7 584.8 V596.4 M493.7 584.8 h2 M493.7 596.4 h2 M500.6 580.8 V593.1 M499.6 580.8 h2 M499.6 593.1 h2 M506.5 571.0 V585.2 M505.5 571.0 h2 M505.5 585.2 h2 " fill="none" stroke="#111" stroke-width="0.5"/>
<circle cx="388.5" cy="640.5" r="1.2" fill="#111"/>
<circle cx="394.4" cy="639.9" r="1.2" fill="#111"/>
<circle cx="400.3" cy="639.4" r="1.2" fill="#111"/>
<circle cx="406.2" cy="638.9" r="1.2" fill="#111"/>
<circle cx="412.1" cy="637.3" r="1.2" fill="#111"/>
<circle cx="418.0" cy="635.7" r="1.2" fill="#111"/>
<circle cx="423.9" cy="633.9" r="1.2" fill="#111"/>
<circle cx="429.8" cy="632.0" r="1.2" fill="#111"/>
<circle cx="435.7" cy="630.7" r="1.2" fill="#111"/>
<circle cx="441.6" cy="629.3" r="1.2" fill="#111"/>
<circle cx="447.5" cy="626.8" r="1.2" fill="#111"/>
<circle cx="453.4" cy="624.3" r="1.2" fill="#111"/>
<circle cx="459.3" cy="621.6" r="1.2" fill="#111"/>
<circle cx="465.2" cy="616.1" r="1.2" fill="#111"/>
<circle cx="471.1" cy="612.5" r="1.2" fill="#111"/>
<circle cx="477.0" cy="605.6" r="1.2" fill="#111"/>
<circle cx="482.9" cy="601.1" r="1.2" fill="#111"/>
<circle cx="488.8" cy="594.2" r="1.2" fill="#111"/>
<circle cx="494.7" cy="590.6" r="1.2" fill="#111"/>
<circle cx="500.6" cy="587.0" r="1.2" fill="#111"/>
<circle cx="506.5" cy="578.1" r="1.2" fill="#111"/>
<path d="M388.5 640.5 L394.4 639.9 L400.3 639.4 L406.2 638.9 L412.1 637.1 L418.0 635.2 L423.9 633.4 L429.8 631.6 L435.7 630.2 L441.6 628.9 L447.5 626.1 L453.4 623.4 L459.3 619.7 L465.2 614.3 L471.1 611.5 L477.0 603.4 L482.9 598.8 L488.8 589.7 L494.7 576.9 L500.6 587.0 L506.5 573.1" fill="none" stroke="#111" stroke-width="0.8"/>
<path d="M388.5 639.7 V641.3 M387.5 639.7 h2 M387.5 641.3 h2 M394.4 638.9 V640.9 M393.4 638.9 h2 M393.4 640.9 h2 M400.3 638.4 V640.4 M399.3 638.4 h2 M399.3 640.4 h2 M406.2 637.9 V639.9 M405.2 637.9 h2 M405.2 639.9 h2 M412.1 635.9 V638.2 M411.1 635.9 h2 M411.1 638.2 h2 M418.0 633.9 V636.6 M417.0 633.9 h2 M417.0 636.6 h2 M423.9 631.9 V635.0 M422.9 631.9 h2 M422.9 635.0 h2 M429.8 629.9 V633.3 M428.8 629.9 h2 M428.8 633.3 h2 M435.7 628.4 V632.1 M434.7 628.4 h2 M434.7 632.1 h2 M441.6 626.9 V630.9 M440.6 626.9 h2 M440.6 630.9 h2 M447.5 623.8 V628.4 M446.5 623.8 h2 M446.5 628.4 h2 M453.4 620.8 V625.9 M452.4 620.8 h2 M452.4 625.9 h2 M459.3 616.8 V622.7 M458.3 616.8 h2 M458.3 622.7 h2 M465.2 610.8 V617.7 M464.2 610.8 h2 M464.2 617.7 h2 M471.1 607.8 V615.3 M470.1 607.8 h2 M470.1 615.3 h2 M477.0 598.8 V607.9 M476.0 598.8 h2 M476.0 607.9 h2 M482.9 593.8 V603.8 M481.9 593.8 h2 M481.9 603.8 h2 M488.8 583.8 V595.6 M487.8 583.8 h2 M487.8 595.6 h2 M494.7 569.7 V584.1 M493.7 569.7 h2 M493.7 584.1 h2 M500.6 580.8 V593.1 M499.6 580.8 h2 M499.6 593.1 h2 M506.5 565.5 V580.6 M505.5 565.5 h2 M505.5 580.6 h2 " fill="none" stroke="#111" stroke-width="0.5"/>
<rect x="387.5" y="639.5" width="2.0" height="2.0" fill="#111"/>
<rect x="393.4" y="638.9" width="2.0" height="2.0" fill="#111"/>
<rect x="399.3" y="638.4" width="2.0" height="2.0" fill="#111"/>
<rect x="405.2" y="637.9" width="2.0" height="2.0" fill="#111"/>
<rect x="411.1" y="636.0" width="2.0" height="2.0" fill="#111"/>
<rect x="417.0" y="634.2" width="2.0" height="2.0" fill="#111"/>
<rect x="422.9" y="632.4" width="2.0" height="2.0" fill="#111"/>
<rect x="428.8" y="630.6" width="2.0" height="2.0" fill="#111"/>
<rect x="434.7" y="629.2" width="2.0" height="2.0" fill="#111"/>
<rect x="440.6" y="627.8" width="2.0" height="2.0" fill="#111"/>
<rect x="446.5" y="625.1" width="2.0" height="2.0" fill="#111"/>
<rect x="452.4" y="622.4" width="2.0" height="2.0" fill="#111"/>
<rect x="458.3" y="618.7" width="2.0" height="2.0" fill="#111"/>
<rect x="464.2" y="613.3" width="2.0" height="2.0" fill="#111"/>
<rect x="470.1" y="610.5" width="2.0" height="2.0" fill="#111"/>
<rect x="476.0" y="602.3" width="2.0" height="2.0" fill="#111"/>
<rect x="481.9" y="597.8" width="2.0" height="2.0" fill="#111"/>
<rect x="487.8" y="588.7" width="2.0" height="2.0" fill="#111"/>
<rect x="493.7" y="575.9" width="2.0" height="2.0" fill="#111"/>
<rect x="499.6" y="585.9" width="2.0" height="2.0" fill="#111"/>
<rect x="505.5" y="572.0" width="2.0" height="2.0" fill="#111"/>
<rect x="388.5" y="558.3" width="123.89999999999998" height="90.60000000000002" fill="none" stroke="#111" stroke-width="0.9"/>
<path d="M388.5 648.9 h2" stroke="#111" stroke-width="0.6"/>
<text x="386.3" y="650.4" font-size="4.25" text-anchor="end" fill="#000" >0</text>
<path d="M388.5 639.8 h2" stroke="#111" stroke-width="0.6"/>
<text x="386.3" y="641.3" font-size="4.25" text-anchor="end" fill="#000" >200</text>
<path d="M388.5 630.7 h2" stroke="#111" stroke-width="0.6"/>
<text x="386.3" y="632.2" font-size="4.25" text-anchor="end" fill="#000" >400</text>
<path d="M388.5 621.6 h2" stroke="#111" stroke-width="0.6"/>
<text x="386.3" y="623.1" font-size="4.25" text-anchor="end" fill="#000" >600</text>
<path d="M388.5 612.5 h2" stroke="#111" stroke-width="0.6"/>
<text x="386.3" y="614.0" font-size="4.25" text-anchor="end" fill="#000" >800</text>
<path d="M388.5 603.4 h2" stroke="#111" stroke-width="0.6"/>
<text x="386.3" y="604.9" font-size="4.25" text-anchor="end" fill="#000" >1,000</text>
<path d="M388.5 594.2 h2" stroke="#111" stroke-width="0.6"/>
<text x="386.3" y="595.7" font-size="4.25" text-anchor="end" fill="#000" >1,200</text>
<path d="M388.5 585.1 h2" stroke="#111" stroke-width="0.6"/>
<text x="386.3" y="586.6" font-size="4.25" text-anchor="end" fill="#000" >1,400</text>
<path d="M388.5 576.0 h2" stroke="#111" stroke-width="0.6"/>
<text x="386.3" y="577.5" font-size="4.25" text-anchor="end" fill="#000" >1,600</text>
<path d="M388.5 566.9 h2" stroke="#111" stroke-width="0.6"/>
<text x="386.3" y="568.4" font-size="4.25" text-anchor="end" fill="#000" >1,800</text>
<path d="M388.5 557.8 h2" stroke="#111" stroke-width="0.6"/>
<text x="386.3" y="559.3" font-size="4.25" text-anchor="end" fill="#000" >2,000</text>
<path d="M388.5 648.9 v-2" stroke="#111" stroke-width="0.6"/>
<text x="388.5" y="654.3" font-size="3.9" text-anchor="middle" fill="#000" >0</text>
<path d="M394.4 648.9 v-1.1" stroke="#111" stroke-width="0.6"/>
<path d="M400.3 648.9 v-1.1" stroke="#111" stroke-width="0.6"/>
<path d="M406.2 648.9 v-1.1" stroke="#111" stroke-width="0.6"/>
<path d="M412.1 648.9 v-1.1" stroke="#111" stroke-width="0.6"/>
<path d="M418.0 648.9 v-2" stroke="#111" stroke-width="0.6"/>
<text x="418.0" y="654.3" font-size="3.9" text-anchor="middle" fill="#000" >10</text>
<path d="M423.9 648.9 v-1.1" stroke="#111" stroke-width="0.6"/>
<path d="M429.8 648.9 v-1.1" stroke="#111" stroke-width="0.6"/>
<path d="M435.7 648.9 v-1.1" stroke="#111" stroke-width="0.6"/>
<path d="M441.6 648.9 v-1.1" stroke="#111" stroke-width="0.6"/>
<path d="M447.5 648.9 v-2" stroke="#111" stroke-width="0.6"/>
<text x="447.5" y="654.3" font-size="3.9" text-anchor="middle" fill="#000" >20</text>
<path d="M453.4 648.9 v-1.1" stroke="#111" stroke-width="0.6"/>
<path d="M459.3 648.9 v-1.1" stroke="#111" stroke-width="0.6"/>
<path d="M465.2 648.9 v-1.1" stroke="#111" stroke-width="0.6"/>
<path d="M471.1 648.9 v-1.1" stroke="#111" stroke-width="0.6"/>
<path d="M477.0 648.9 v-2" stroke="#111" stroke-width="0.6"/>
<text x="477.0" y="654.3" font-size="3.9" text-anchor="middle" fill="#000" >30</text>
<path d="M482.9 648.9 v-1.1" stroke="#111" stroke-width="0.6"/>
<path d="M488.8 648.9 v-1.1" stroke="#111" stroke-width="0.6"/>
<path d="M494.7 648.9 v-1.1" stroke="#111" stroke-width="0.6"/>
<path d="M500.6 648.9 v-1.1" stroke="#111" stroke-width="0.6"/>
<path d="M506.5 648.9 v-2" stroke="#111" stroke-width="0.6"/>
<text x="506.5" y="654.3" font-size="3.9" text-anchor="middle" fill="#000" >40</text>
<text x="388.3" y="553.6" font-size="6.85" text-anchor="start" fill="#000" style="stroke-width:0.35px">MCF-7</text>
<text transform="translate(361.8 603.1) rotate(-90)" font-size="5.85" text-anchor="middle" fill="#111">Tumor volume (mm<tspan dy="-2" font-size="3.6">3</tspan><tspan dy="2">)</tspan></text>
<text transform="translate(369.90000000000003 604.1) rotate(-90)" font-size="5.7" text-anchor="middle" fill="#111">+/- SEM</text>
<text x="449.8" y="667.6" font-size="5.0" text-anchor="middle" fill="#000" >Day</text>
<text x="386.9" y="661.4" font-size="3.3" text-anchor="start" fill="#000" >Treatment (IP)</text>
<path d="M387.3 655.9 h3.3" stroke="#111" stroke-width="1.6"/>
<path d="M407.6 655.9 h3.3" stroke="#111" stroke-width="1.6"/>
<path d="M428.0 655.9 h3.3" stroke="#111" stroke-width="1.6"/>
<path d="M448.1 655.9 h3.3" stroke="#111" stroke-width="1.6"/>
<path d="M396.7 565.8 h7.2" stroke="#3a3a3a" stroke-width="0.9"/>
<circle cx="400.3" cy="565.8" r="1.1" fill="#3a3a3a"/>
<text x="405.5" y="567.0" font-size="3.5" text-anchor="start" fill="#000" >Vehicle</text>
<path d="M396.7 570.3 h7.2" stroke="#111" stroke-width="0.9"/>
<rect x="399.3" y="569.3" width="2.0" height="2.0" fill="#111"/>
<text x="405.5" y="571.5" font-size="3.5" text-anchor="start" fill="#000" >CT9</text>
<path d="M396.7 574.7 h7.2" stroke="#111" stroke-width="0.9"/>
<circle cx="400.3" cy="574.7" r="1.1" fill="#111"/>
<text x="405.5" y="576.0" font-size="3.5" text-anchor="start" fill="#000" >CB12</text>
<path d="M396.7 579.2 h7.2" stroke="#111" stroke-width="0.9"/>
<path d="M400.3 577.9 L401.6 580.2 L399.0 580.2Z" fill="#111"/>
<text x="405.5" y="580.4" font-size="3.5" text-anchor="start" fill="#000" >RT6</text>
<path d="M396.7 583.6 h7.2" stroke="#a8a8a8" stroke-width="0.9"/>
<path d="M400.3 584.9 L401.6 582.6 L399.0 582.6Z" fill="#a8a8a8"/>
<text x="405.5" y="584.9" font-size="3.5" text-anchor="start" fill="#000" >RB4</text>
<path d="M396.7 588.1 h7.2" stroke="#3c3c3c" stroke-width="0.9"/>
<path d="M400.3 586.7 L401.7 588.1 L400.3 589.5 L398.9 588.1Z" fill="#3c3c3c"/>
<text x="405.5" y="589.3" font-size="3.5" text-anchor="start" fill="#000" >MEHD7945A</text>
<text x="405.5" y="593.8" font-size="3.5" text-anchor="start" fill="#000" >bH1-44</text>
<path d="M396.7 597.0 h7.2" stroke="#333" stroke-width="0.9"/>
<path d="M401.8 597.0 L399.3 595.6 L399.3 598.4Z" fill="#333"/>
<text x="405.5" y="598.3" font-size="3.5" text-anchor="start" fill="#000" >MEHD7945A+bH1-44</text>
<path d="M396.7 601.5 h7.2" stroke="#bdbdbd" stroke-width="0.9"/>
<circle cx="400.3" cy="601.5" r="1.1" fill="#bdbdbd"/>
<text x="405.5" y="602.7" font-size="3.5" text-anchor="start" fill="#000" >FL518</text>
<path d="M396.7 605.9 h7.2" stroke="#7a7a7a" stroke-width="0.9"/>
<path d="M400.3 604.3 L400.7 605.4 L401.8 605.4 L400.9 606.1 L401.2 607.2 L400.3 606.6 L399.4 607.2 L399.7 606.1 L398.8 605.4 L399.9 605.4Z" fill="#7a7a7a"/>
<text x="405.5" y="607.2" font-size="3.5" text-anchor="start" fill="#000" >CRTB6</text>
<text x="4.2" y="541.7" font-size="12.6" text-anchor="start" fill="#000" style="stroke-width:0.5px">E</text>
</svg>
</body></html>
